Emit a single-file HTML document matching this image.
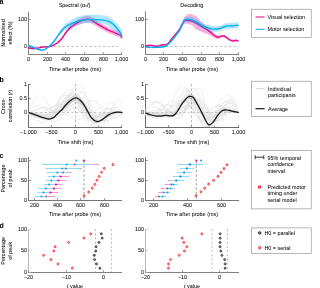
<!DOCTYPE html>
<html><head><meta charset="utf-8"><style>
html,body{margin:0;padding:0;background:#fff;width:312px;height:288px;overflow:hidden}
svg{display:block;font-family:"Liberation Sans",sans-serif;will-change:transform}
</style></head><body>
<svg width="312" height="288" viewBox="0 0 312 288">
<text x="-0.55" y="3.90" font-size="7" font-weight="bold" fill="#000">a</text>
<text x="-0.55" y="81.90" font-size="7" font-weight="bold" fill="#000">b</text>
<text x="-0.55" y="158.00" font-size="7" font-weight="bold" fill="#000">c</text>
<text x="-0.55" y="227.90" font-size="7" font-weight="bold" fill="#000">d</text>
<line x1="28.50" y1="11.80" x2="28.50" y2="55.00" stroke="#808080" stroke-width="1.0"/>
<line x1="28.00" y1="54.50" x2="122.00" y2="54.50" stroke="#808080" stroke-width="1.0"/>
<line x1="28.50" y1="19.50" x2="30.80" y2="19.50" stroke="#808080" stroke-width="0.80" />
<text x="27.00" y="21.45" text-anchor="end" font-size="5.45" fill="#000" stroke="#000" stroke-width="0.02" >100</text>
<line x1="28.50" y1="46.50" x2="30.80" y2="46.50" stroke="#808080" stroke-width="0.80" />
<text x="27.00" y="48.45" text-anchor="end" font-size="5.45" fill="#000" stroke="#000" stroke-width="0.02" >0</text>
<line x1="28.50" y1="54.50" x2="28.50" y2="52.20" stroke="#808080" stroke-width="0.80" />
<text x="28.50" y="61.40" text-anchor="middle" font-size="5.45" fill="#000" stroke="#000" stroke-width="0.02" >0</text>
<line x1="47.50" y1="54.50" x2="47.50" y2="52.20" stroke="#808080" stroke-width="0.80" />
<text x="47.50" y="61.40" text-anchor="middle" font-size="5.45" fill="#000" stroke="#000" stroke-width="0.02" >200</text>
<line x1="65.50" y1="54.50" x2="65.50" y2="52.20" stroke="#808080" stroke-width="0.80" />
<text x="65.50" y="61.40" text-anchor="middle" font-size="5.45" fill="#000" stroke="#000" stroke-width="0.02" >400</text>
<line x1="84.50" y1="54.50" x2="84.50" y2="52.20" stroke="#808080" stroke-width="0.80" />
<text x="84.50" y="61.40" text-anchor="middle" font-size="5.45" fill="#000" stroke="#000" stroke-width="0.02" >600</text>
<line x1="103.50" y1="54.50" x2="103.50" y2="52.20" stroke="#808080" stroke-width="0.80" />
<text x="103.50" y="61.40" text-anchor="middle" font-size="5.45" fill="#000" stroke="#000" stroke-width="0.02" >800</text>
<line x1="121.50" y1="54.50" x2="121.50" y2="52.20" stroke="#808080" stroke-width="0.80" />
<text x="121.50" y="61.40" text-anchor="middle" font-size="5.45" fill="#000" stroke="#000" stroke-width="0.02" >1,000</text>
<line x1="31.00" y1="46.50" x2="121.50" y2="46.50" stroke="#888" stroke-width="0.55" stroke-dasharray="2.2 2.3"/>
<text x="75.00" y="70.70" text-anchor="middle" font-size="5.45" fill="#000" stroke="#000" stroke-width="0.02" >Time after probe (ms)</text>
<text x="58.70" y="6.50" text-anchor="start" font-size="5.45" fill="#000" stroke="#000" stroke-width="0.02" >Spectral (α<tspan font-size="3.6" dy="0.9">s</tspan><tspan dy="-0.9" font-style="italic">f</tspan>)</text>
<line x1="145.50" y1="11.30" x2="145.50" y2="55.00" stroke="#808080" stroke-width="1.0"/>
<line x1="145.00" y1="54.50" x2="239.00" y2="54.50" stroke="#808080" stroke-width="1.0"/>
<line x1="145.50" y1="19.50" x2="147.80" y2="19.50" stroke="#808080" stroke-width="0.80" />
<text x="144.00" y="21.45" text-anchor="end" font-size="5.45" fill="#000" stroke="#000" stroke-width="0.02" >100</text>
<line x1="145.50" y1="46.50" x2="147.80" y2="46.50" stroke="#808080" stroke-width="0.80" />
<text x="144.00" y="48.45" text-anchor="end" font-size="5.45" fill="#000" stroke="#000" stroke-width="0.02" >0</text>
<line x1="145.50" y1="54.50" x2="145.50" y2="52.20" stroke="#808080" stroke-width="0.80" />
<text x="145.50" y="61.40" text-anchor="middle" font-size="5.45" fill="#000" stroke="#000" stroke-width="0.02" >0</text>
<line x1="163.50" y1="54.50" x2="163.50" y2="52.20" stroke="#808080" stroke-width="0.80" />
<text x="163.50" y="61.40" text-anchor="middle" font-size="5.45" fill="#000" stroke="#000" stroke-width="0.02" >200</text>
<line x1="182.50" y1="54.50" x2="182.50" y2="52.20" stroke="#808080" stroke-width="0.80" />
<text x="182.50" y="61.40" text-anchor="middle" font-size="5.45" fill="#000" stroke="#000" stroke-width="0.02" >400</text>
<line x1="201.50" y1="54.50" x2="201.50" y2="52.20" stroke="#808080" stroke-width="0.80" />
<text x="201.50" y="61.40" text-anchor="middle" font-size="5.45" fill="#000" stroke="#000" stroke-width="0.02" >600</text>
<line x1="219.50" y1="54.50" x2="219.50" y2="52.20" stroke="#808080" stroke-width="0.80" />
<text x="219.50" y="61.40" text-anchor="middle" font-size="5.45" fill="#000" stroke="#000" stroke-width="0.02" >800</text>
<line x1="238.50" y1="54.50" x2="238.50" y2="52.20" stroke="#808080" stroke-width="0.80" />
<text x="238.50" y="61.40" text-anchor="middle" font-size="5.45" fill="#000" stroke="#000" stroke-width="0.02" >1,000</text>
<line x1="148.00" y1="46.50" x2="238.50" y2="46.50" stroke="#888" stroke-width="0.55" stroke-dasharray="2.2 2.3"/>
<text x="192.00" y="70.70" text-anchor="middle" font-size="5.45" fill="#000" stroke="#000" stroke-width="0.02" >Time after probe (ms)</text>
<text x="180.30" y="7.40" text-anchor="start" font-size="5.45" fill="#000" stroke="#000" stroke-width="0.02" >Decoding</text>
<g transform="translate(5.00,33.00) rotate(-90)">
<text x="0.00" y="0.00" text-anchor="middle" font-size="5.45" fill="#000" stroke="#000" stroke-width="0.02" >Normalised</text>
<text x="0.00" y="7.20" text-anchor="middle" font-size="5.45" fill="#000" stroke="#000" stroke-width="0.02" >effect (%)</text>
</g>
<path d="M28.70,47.00 C29.58,47.13 32.28,47.80 34.00,47.80 C35.72,47.80 37.33,47.28 39.00,47.00 C40.67,46.72 42.50,46.25 44.00,46.10 C45.50,45.95 46.67,46.25 48.00,46.10 C49.33,45.95 51.00,45.53 52.00,45.20 C53.00,44.87 53.33,44.47 54.00,44.10 C54.67,43.73 55.33,43.45 56.00,43.00 C56.67,42.55 57.33,42.03 58.00,41.42 C58.67,40.81 59.33,40.09 60.00,39.33 C60.67,38.58 61.33,37.83 62.00,36.90 C62.67,35.97 63.33,34.80 64.00,33.77 C64.67,32.73 65.33,31.64 66.00,30.68 C66.67,29.72 67.33,28.83 68.00,28.00 C68.67,27.17 69.33,26.39 70.00,25.72 C70.67,25.04 71.33,24.48 72.00,23.93 C72.67,23.39 73.33,22.94 74.00,22.45 C74.67,21.96 75.33,21.44 76.00,20.97 C76.67,20.49 77.33,20.06 78.00,19.58 C78.67,19.11 79.33,18.50 80.00,18.10 C80.67,17.70 81.33,17.47 82.00,17.20 C82.67,16.93 83.33,16.68 84.00,16.50 C84.67,16.32 85.33,16.20 86.00,16.10 C86.67,16.00 87.33,15.92 88.00,15.90 C88.67,15.88 89.00,15.57 90.00,16.00 C91.00,16.43 92.67,17.57 94.00,18.50 C95.33,19.43 97.00,20.88 98.00,21.60 C99.00,22.32 99.00,22.23 100.00,22.80 C101.00,23.37 102.67,24.27 104.00,25.00 C105.33,25.73 106.67,26.55 108.00,27.20 C109.33,27.85 110.67,28.35 112.00,28.90 C113.33,29.45 114.67,29.95 116.00,30.50 C117.33,31.05 119.02,31.55 120.00,32.20 C120.98,32.85 121.58,34.03 121.90,34.40 L121.90,40.00 C121.58,39.63 120.98,38.45 120.00,37.80 C119.02,37.15 117.33,36.65 116.00,36.10 C114.67,35.55 113.33,35.05 112.00,34.50 C110.67,33.95 109.33,33.45 108.00,32.80 C106.67,32.15 105.33,31.33 104.00,30.60 C102.67,29.87 101.00,28.97 100.00,28.40 C99.00,27.83 99.00,27.75 98.00,27.20 C97.00,26.65 95.33,25.87 94.00,25.10 C92.67,24.33 91.00,23.03 90.00,22.60 C89.00,22.17 88.67,22.48 88.00,22.50 C87.33,22.52 86.67,22.60 86.00,22.70 C85.33,22.80 84.67,22.92 84.00,23.10 C83.33,23.28 82.67,23.53 82.00,23.80 C81.33,24.07 80.67,24.46 80.00,24.70 C79.33,24.94 78.67,24.96 78.00,25.22 C77.33,25.47 76.67,25.88 76.00,26.23 C75.33,26.59 74.67,26.98 74.00,27.35 C73.33,27.72 72.67,28.04 72.00,28.47 C71.33,28.89 70.67,29.33 70.00,29.88 C69.33,30.44 68.67,31.09 68.00,31.80 C67.33,32.51 66.67,33.28 66.00,34.12 C65.33,34.96 64.67,35.92 64.00,36.83 C63.33,37.75 62.67,38.79 62.00,39.60 C61.33,40.41 60.67,41.04 60.00,41.67 C59.33,42.30 58.67,42.89 58.00,43.38 C57.33,43.87 56.67,44.21 56.00,44.60 C55.33,44.99 54.67,45.33 54.00,45.70 C53.33,46.07 53.00,46.47 52.00,46.80 C51.00,47.13 49.33,47.55 48.00,47.70 C46.67,47.85 45.50,47.55 44.00,47.70 C42.50,47.85 40.67,48.32 39.00,48.60 C37.33,48.88 35.72,49.40 34.00,49.40 C32.28,49.40 29.58,48.73 28.70,48.60 Z" fill="#EC008C" fill-opacity="0.30" stroke="none"/>
<path d="M28.70,47.80 C29.58,47.93 32.28,48.60 34.00,48.60 C35.72,48.60 37.33,48.08 39.00,47.80 C40.67,47.52 42.50,47.05 44.00,46.90 C45.50,46.75 46.67,47.05 48.00,46.90 C49.33,46.75 51.00,46.33 52.00,46.00 C53.00,45.67 53.33,45.27 54.00,44.90 C54.67,44.53 55.33,44.22 56.00,43.80 C56.67,43.38 57.33,42.95 58.00,42.40 C58.67,41.85 59.33,41.19 60.00,40.50 C60.67,39.81 61.33,39.12 62.00,38.25 C62.67,37.38 63.33,36.27 64.00,35.30 C64.67,34.32 65.33,33.30 66.00,32.40 C66.67,31.50 67.33,30.67 68.00,29.90 C68.67,29.13 69.33,28.42 70.00,27.80 C70.67,27.18 71.33,26.68 72.00,26.20 C72.67,25.72 73.33,25.33 74.00,24.90 C74.67,24.47 75.33,24.02 76.00,23.60 C76.67,23.18 77.33,22.77 78.00,22.40 C78.67,22.03 79.33,21.72 80.00,21.40 C80.67,21.08 81.33,20.77 82.00,20.50 C82.67,20.23 83.33,19.98 84.00,19.80 C84.67,19.62 85.33,19.50 86.00,19.40 C86.67,19.30 87.33,19.22 88.00,19.20 C88.67,19.18 89.00,18.87 90.00,19.30 C91.00,19.73 92.67,20.95 94.00,21.80 C95.33,22.65 97.00,23.77 98.00,24.40 C99.00,25.03 99.00,25.03 100.00,25.60 C101.00,26.17 102.67,27.07 104.00,27.80 C105.33,28.53 106.67,29.35 108.00,30.00 C109.33,30.65 110.67,31.15 112.00,31.70 C113.33,32.25 114.67,32.75 116.00,33.30 C117.33,33.85 119.02,34.35 120.00,35.00 C120.98,35.65 121.58,36.83 121.90,37.20" fill="none" stroke="#EC008C" stroke-width="1.30" stroke-opacity="1.00" stroke-linejoin="round" stroke-linecap="round"/>
<path d="M28.70,44.70 C30.97,45.45 39.08,48.98 42.30,49.20 C45.52,49.42 46.38,47.12 48.00,46.00 C49.62,44.88 50.67,44.00 52.00,42.50 C53.33,41.00 54.67,39.00 56.00,37.00 C57.33,35.00 58.67,32.42 60.00,30.50 C61.33,28.58 62.67,26.92 64.00,25.50 C65.33,24.08 66.67,23.00 68.00,22.00 C69.33,21.00 70.67,20.28 72.00,19.50 C73.33,18.72 74.67,17.88 76.00,17.30 C77.33,16.72 78.33,16.38 80.00,16.00 C81.67,15.62 83.67,15.22 86.00,15.00 C88.33,14.78 91.67,14.70 94.00,14.70 C96.33,14.70 98.33,14.85 100.00,15.00 C101.67,15.15 102.67,15.37 104.00,15.60 C105.33,15.83 106.67,15.85 108.00,16.40 C109.33,16.95 110.67,17.83 112.00,18.90 C113.33,19.97 114.67,21.32 116.00,22.80 C117.33,24.28 119.02,26.43 120.00,27.80 C120.98,29.17 121.58,30.47 121.90,31.00 L121.90,38.90 C121.58,38.53 120.98,37.82 120.00,36.70 C119.02,35.58 117.33,33.50 116.00,32.20 C114.67,30.90 113.33,30.00 112.00,28.90 C110.67,27.80 109.33,26.43 108.00,25.60 C106.67,24.77 105.33,24.25 104.00,23.90 C102.67,23.55 101.67,23.58 100.00,23.50 C98.33,23.42 96.33,23.43 94.00,23.40 C91.67,23.37 88.33,23.20 86.00,23.30 C83.67,23.40 81.67,23.72 80.00,24.00 C78.33,24.28 77.33,24.53 76.00,25.00 C74.67,25.47 73.33,26.22 72.00,26.80 C70.67,27.38 69.33,27.80 68.00,28.50 C66.67,29.20 65.33,29.92 64.00,31.00 C62.67,32.08 61.33,33.45 60.00,35.00 C58.67,36.55 57.33,38.63 56.00,40.30 C54.67,41.97 53.33,43.68 52.00,45.00 C50.67,46.32 49.62,47.17 48.00,48.20 C46.38,49.23 45.52,51.45 42.30,51.20 C39.08,50.95 30.97,47.45 28.70,46.70 Z" fill="#00AEEF" fill-opacity="0.30" stroke="none"/>
<path d="M28.70,45.70 C29.58,46.03 32.28,47.03 34.00,47.70 C35.72,48.37 37.62,49.28 39.00,49.70 C40.38,50.12 41.18,50.32 42.30,50.20 C43.42,50.08 44.75,49.52 45.70,49.00 C46.65,48.48 47.28,47.63 48.00,47.10 C48.72,46.57 49.33,46.35 50.00,45.80 C50.67,45.25 51.33,44.57 52.00,43.80 C52.67,43.03 53.33,42.05 54.00,41.20 C54.67,40.35 55.33,39.61 56.00,38.70 C56.67,37.79 57.33,36.73 58.00,35.75 C58.67,34.77 59.33,33.71 60.00,32.80 C60.67,31.89 61.33,31.06 62.00,30.30 C62.67,29.54 63.33,28.87 64.00,28.25 C64.67,27.63 65.33,27.09 66.00,26.60 C66.67,26.11 67.33,25.68 68.00,25.30 C68.67,24.92 69.33,24.62 70.00,24.30 C70.67,23.98 71.33,23.68 72.00,23.40 C72.67,23.12 73.33,22.87 74.00,22.60 C74.67,22.33 75.33,22.05 76.00,21.80 C76.67,21.55 77.33,21.32 78.00,21.10 C78.67,20.88 79.00,20.70 80.00,20.50 C81.00,20.30 82.67,20.05 84.00,19.90 C85.33,19.75 86.33,19.67 88.00,19.60 C89.67,19.53 92.00,19.47 94.00,19.50 C96.00,19.53 98.33,19.68 100.00,19.80 C101.67,19.92 102.67,19.98 104.00,20.20 C105.33,20.42 106.67,20.58 108.00,21.10 C109.33,21.62 110.67,22.28 112.00,23.30 C113.33,24.32 114.67,25.72 116.00,27.20 C117.33,28.68 119.02,30.77 120.00,32.20 C120.98,33.63 121.58,35.20 121.90,35.80" fill="none" stroke="#00AEEF" stroke-width="1.30" stroke-opacity="1.00" stroke-linejoin="round" stroke-linecap="round"/>
<path d="M145.40,45.20 C148.83,45.00 162.07,44.62 166.00,44.00 C169.93,43.38 168.00,42.63 169.00,41.50 C170.00,40.37 170.83,38.70 172.00,37.20 C173.17,35.70 174.67,34.20 176.00,32.50 C177.33,30.80 178.67,29.42 180.00,27.00 C181.33,24.58 182.67,20.12 184.00,18.00 C185.33,15.88 186.67,14.93 188.00,14.30 C189.33,13.68 190.67,13.95 192.00,14.25 C193.33,14.55 194.67,15.06 196.00,16.10 C197.33,17.14 198.67,19.14 200.00,20.50 C201.33,21.86 202.67,23.08 204.00,24.25 C205.33,25.42 206.67,26.46 208.00,27.50 C209.33,28.54 210.83,29.45 212.00,30.50 C213.17,31.55 214.00,32.95 215.00,33.80 C216.00,34.65 216.50,35.43 218.00,35.60 C219.50,35.77 222.00,34.27 224.00,34.80 C226.00,35.33 227.62,37.97 230.00,38.80 C232.38,39.63 236.92,39.63 238.30,39.80 L238.30,42.20 C236.92,42.03 232.38,42.03 230.00,41.20 C227.62,40.37 226.00,37.57 224.00,37.20 C222.00,36.83 219.50,38.83 218.00,39.00 C216.50,39.17 216.00,38.60 215.00,38.20 C214.00,37.80 213.17,37.26 212.00,36.60 C210.83,35.94 209.33,34.85 208.00,34.25 C206.67,33.65 205.33,33.52 204.00,33.00 C202.67,32.48 201.33,31.73 200.00,31.10 C198.67,30.48 197.33,30.18 196.00,29.25 C194.67,28.32 193.33,26.38 192.00,25.50 C190.67,24.62 189.33,24.21 188.00,24.00 C186.67,23.79 185.33,23.25 184.00,24.25 C182.67,25.25 181.33,28.21 180.00,30.00 C178.67,31.79 177.33,33.40 176.00,35.00 C174.67,36.60 173.17,38.18 172.00,39.60 C170.83,41.02 170.00,42.50 169.00,43.50 C168.00,44.50 169.93,45.08 166.00,45.60 C162.07,46.12 148.83,46.43 145.40,46.60 Z" fill="#EC008C" fill-opacity="0.30" stroke="none"/>
<path d="M145.40,45.90 C146.17,45.77 148.57,45.10 150.00,45.10 C151.43,45.10 152.67,45.70 154.00,45.90 C155.33,46.10 156.67,46.48 158.00,46.30 C159.33,46.12 160.67,45.05 162.00,44.80 C163.33,44.55 164.83,45.18 166.00,44.80 C167.17,44.42 168.00,43.57 169.00,42.50 C170.00,41.43 170.83,39.85 172.00,38.40 C173.17,36.95 174.67,35.43 176.00,33.80 C177.33,32.17 178.67,30.68 180.00,28.60 C181.33,26.52 182.67,22.65 184.00,21.30 C185.33,19.95 186.67,20.53 188.00,20.50 C189.33,20.47 190.67,20.68 192.00,21.10 C193.33,21.52 194.67,22.27 196.00,23.00 C197.33,23.73 198.67,24.67 200.00,25.50 C201.33,26.33 202.67,27.18 204.00,28.00 C205.33,28.82 206.67,29.48 208.00,30.40 C209.33,31.32 210.83,32.57 212.00,33.50 C213.17,34.43 214.00,35.38 215.00,36.00 C216.00,36.62 217.00,37.21 218.00,37.25 C219.00,37.29 220.00,36.46 221.00,36.25 C222.00,36.04 223.00,35.73 224.00,36.00 C225.00,36.27 226.00,37.23 227.00,37.90 C228.00,38.57 229.00,39.48 230.00,40.00 C231.00,40.52 232.00,40.98 233.00,41.00 C234.00,41.02 235.17,40.10 236.00,40.10 C236.83,40.10 237.67,40.85 238.00,41.00" fill="none" stroke="#EC008C" stroke-width="1.30" stroke-opacity="1.00" stroke-linejoin="round" stroke-linecap="round"/>
<path d="M145.40,46.20 C146.17,46.27 148.23,46.53 150.00,46.60 C151.77,46.67 154.00,46.67 156.00,46.60 C158.00,46.53 160.33,46.45 162.00,46.20 C163.67,45.95 164.67,45.88 166.00,45.10 C167.33,44.32 168.67,42.92 170.00,41.50 C171.33,40.08 172.67,38.33 174.00,36.60 C175.33,34.87 177.00,32.58 178.00,31.10 C179.00,29.62 179.00,29.78 180.00,27.70 C181.00,25.62 183.00,20.40 184.00,18.60 C185.00,16.80 185.33,17.23 186.00,16.90 C186.67,16.57 187.00,16.57 188.00,16.60 C189.00,16.63 190.67,16.69 192.00,17.10 C193.33,17.51 194.67,18.31 196.00,19.05 C197.33,19.79 198.67,20.78 200.00,21.55 C201.33,22.32 202.67,23.11 204.00,23.70 C205.33,24.29 206.67,24.70 208.00,25.10 C209.33,25.50 210.67,25.92 212.00,26.10 C213.33,26.28 214.67,26.28 216.00,26.20 C217.33,26.12 218.67,25.97 220.00,25.60 C221.33,25.23 222.67,24.42 224.00,24.00 C225.33,23.58 226.67,23.23 228.00,23.10 C229.33,22.97 230.67,23.28 232.00,23.20 C233.33,23.12 234.95,22.75 236.00,22.60 C237.05,22.45 237.92,22.35 238.30,22.30 L238.30,27.90 C237.92,27.95 237.05,28.05 236.00,28.20 C234.95,28.35 233.33,28.72 232.00,28.80 C230.67,28.88 229.33,28.57 228.00,28.70 C226.67,28.83 225.33,29.18 224.00,29.60 C222.67,30.02 221.33,30.83 220.00,31.20 C218.67,31.57 217.33,31.72 216.00,31.80 C214.67,31.88 213.33,31.88 212.00,31.70 C210.67,31.52 209.33,31.13 208.00,30.70 C206.67,30.27 205.33,29.72 204.00,29.10 C202.67,28.47 201.33,27.72 200.00,26.95 C198.67,26.18 197.33,25.16 196.00,24.45 C194.67,23.74 193.33,23.07 192.00,22.70 C190.67,22.32 189.00,22.30 188.00,22.20 C187.00,22.10 186.67,21.97 186.00,22.10 C185.33,22.23 185.00,21.47 184.00,23.00 C183.00,24.53 181.00,29.45 180.00,31.30 C179.00,33.15 179.00,32.82 178.00,34.10 C177.00,35.38 175.33,37.43 174.00,39.00 C172.67,40.57 171.33,42.22 170.00,43.50 C168.67,44.78 167.33,45.98 166.00,46.70 C164.67,47.42 163.67,47.55 162.00,47.80 C160.33,48.05 158.00,48.13 156.00,48.20 C154.00,48.27 151.77,48.27 150.00,48.20 C148.23,48.13 146.17,47.87 145.40,47.80 Z" fill="#00AEEF" fill-opacity="0.30" stroke="none"/>
<path d="M145.40,47.00 C146.17,47.07 148.23,47.33 150.00,47.40 C151.77,47.47 154.00,47.47 156.00,47.40 C158.00,47.33 160.33,47.25 162.00,47.00 C163.67,46.75 164.67,46.65 166.00,45.90 C167.33,45.15 168.67,43.85 170.00,42.50 C171.33,41.15 172.67,39.45 174.00,37.80 C175.33,36.15 177.00,33.98 178.00,32.60 C179.00,31.22 179.00,31.47 180.00,29.50 C181.00,27.53 183.00,22.47 184.00,20.80 C185.00,19.13 185.33,19.73 186.00,19.50 C186.67,19.27 187.00,19.33 188.00,19.40 C189.00,19.47 190.67,19.51 192.00,19.90 C193.33,20.29 194.67,21.02 196.00,21.75 C197.33,22.48 198.67,23.48 200.00,24.25 C201.33,25.02 202.67,25.79 204.00,26.40 C205.33,27.01 206.67,27.48 208.00,27.90 C209.33,28.32 210.67,28.72 212.00,28.90 C213.33,29.08 214.67,29.08 216.00,29.00 C217.33,28.92 218.67,28.77 220.00,28.40 C221.33,28.03 222.67,27.22 224.00,26.80 C225.33,26.38 226.67,26.03 228.00,25.90 C229.33,25.77 230.67,26.08 232.00,26.00 C233.33,25.92 234.95,25.55 236.00,25.40 C237.05,25.25 237.92,25.15 238.30,25.10" fill="none" stroke="#00AEEF" stroke-width="1.30" stroke-opacity="1.00" stroke-linejoin="round" stroke-linecap="round"/>
<rect x="251.30" y="9.20" width="59.90" height="28.10" fill="none" stroke="#888" stroke-width="0.6"/>
<line x1="255.50" y1="17.00" x2="264.60" y2="17.00" stroke="#EC008C" stroke-width="1.00" />
<line x1="255.50" y1="29.30" x2="264.60" y2="29.30" stroke="#00AEEF" stroke-width="1.00" />
<text x="267.60" y="19.00" text-anchor="start" font-size="5.42" fill="#000" stroke="#000" stroke-width="0.02" >Visual selection</text>
<text x="267.60" y="31.30" text-anchor="start" font-size="5.42" fill="#000" stroke="#000" stroke-width="0.02" >Motor selection</text>
<line x1="28.50" y1="84.00" x2="28.50" y2="128.00" stroke="#6a6a6a" stroke-width="1.0"/>
<line x1="28.00" y1="127.50" x2="122.00" y2="127.50" stroke="#6a6a6a" stroke-width="1.0"/>
<line x1="28.50" y1="84.50" x2="30.80" y2="84.50" stroke="#6a6a6a" stroke-width="0.80" />
<text x="27.00" y="86.45" text-anchor="end" font-size="5.45" fill="#000" stroke="#000" stroke-width="0.02" >1</text>
<line x1="28.50" y1="98.50" x2="30.80" y2="98.50" stroke="#6a6a6a" stroke-width="0.80" />
<text x="27.00" y="100.45" text-anchor="end" font-size="5.45" fill="#000" stroke="#000" stroke-width="0.02" >0.5</text>
<line x1="28.50" y1="112.50" x2="30.80" y2="112.50" stroke="#6a6a6a" stroke-width="0.80" />
<text x="27.00" y="114.45" text-anchor="end" font-size="5.45" fill="#000" stroke="#000" stroke-width="0.02" >0</text>
<line x1="28.50" y1="127.50" x2="28.50" y2="125.20" stroke="#6a6a6a" stroke-width="0.80" />
<text x="28.50" y="134.40" text-anchor="middle" font-size="5.45" fill="#000" stroke="#000" stroke-width="0.02" >−1,000</text>
<line x1="51.50" y1="127.50" x2="51.50" y2="125.20" stroke="#6a6a6a" stroke-width="0.80" />
<text x="51.50" y="134.40" text-anchor="middle" font-size="5.45" fill="#000" stroke="#000" stroke-width="0.02" >−500</text>
<line x1="75.50" y1="127.50" x2="75.50" y2="125.20" stroke="#6a6a6a" stroke-width="0.80" />
<text x="75.50" y="134.40" text-anchor="middle" font-size="5.45" fill="#000" stroke="#000" stroke-width="0.02" >0</text>
<line x1="98.50" y1="127.50" x2="98.50" y2="125.20" stroke="#6a6a6a" stroke-width="0.80" />
<text x="98.50" y="134.40" text-anchor="middle" font-size="5.45" fill="#000" stroke="#000" stroke-width="0.02" >500</text>
<line x1="121.50" y1="127.50" x2="121.50" y2="125.20" stroke="#6a6a6a" stroke-width="0.80" />
<text x="121.50" y="134.40" text-anchor="middle" font-size="5.45" fill="#000" stroke="#000" stroke-width="0.02" >1,000</text>
<path d="M29.00,112.59 C29.34,112.62 30.35,112.57 31.03,112.75 C31.70,112.93 32.38,113.37 33.05,113.66 C33.73,113.95 34.40,114.31 35.08,114.49 C35.75,114.67 36.43,114.56 37.10,114.75 C37.78,114.94 38.46,115.33 39.13,115.62 C39.81,115.91 40.48,116.35 41.16,116.51 C41.83,116.66 42.51,116.58 43.18,116.56 C43.86,116.54 44.53,116.44 45.21,116.37 C45.88,116.30 46.56,116.30 47.23,116.14 C47.91,115.98 48.59,115.76 49.26,115.42 C49.94,115.07 50.61,114.53 51.29,114.07 C51.96,113.62 52.64,112.94 53.31,112.67 C53.99,112.40 54.66,112.63 55.34,112.45 C56.01,112.27 56.69,111.93 57.37,111.58 C58.04,111.24 58.72,110.60 59.39,110.38 C60.07,110.15 60.74,110.35 61.42,110.25 C62.09,110.14 62.77,110.12 63.44,109.75 C64.12,109.38 64.79,108.46 65.47,108.04 C66.14,107.62 66.82,107.33 67.50,107.23 C68.17,107.14 68.85,107.51 69.52,107.49 C70.20,107.48 70.87,107.12 71.55,107.15 C72.22,107.17 72.90,107.62 73.57,107.66 C74.25,107.69 74.92,107.42 75.60,107.38 C76.28,107.34 76.95,107.32 77.63,107.42 C78.30,107.52 78.98,107.86 79.65,107.98 C80.33,108.09 81.00,107.74 81.68,108.10 C82.35,108.46 83.03,109.74 83.70,110.13 C84.38,110.52 85.06,109.84 85.73,110.43 C86.41,111.03 87.08,113.06 87.76,113.69 C88.43,114.33 89.11,113.67 89.78,114.26 C90.46,114.84 91.13,116.70 91.81,117.20 C92.48,117.71 93.16,117.18 93.83,117.27 C94.51,117.36 95.19,117.64 95.86,117.77 C96.54,117.89 97.21,118.19 97.89,118.03 C98.56,117.88 99.24,117.28 99.91,116.86 C100.59,116.43 101.26,115.78 101.94,115.49 C102.61,115.21 103.29,115.46 103.97,115.18 C104.64,114.89 105.32,114.18 105.99,113.78 C106.67,113.38 107.34,112.93 108.02,112.78 C108.69,112.64 109.37,113.02 110.04,112.91 C110.72,112.81 111.39,112.29 112.07,112.16 C112.74,112.03 113.42,112.14 114.10,112.13 C114.77,112.13 115.45,112.15 116.12,112.12 C116.80,112.08 117.47,111.92 118.15,111.92 C118.82,111.92 119.50,112.03 120.17,112.12 C120.85,112.22 121.86,112.45 122.20,112.51" fill="none" stroke="#dcdcdc" stroke-width="0.50" stroke-opacity="1.00" stroke-linejoin="round" stroke-linecap="round"/>
<path d="M29.00,112.91 C29.34,113.07 30.35,113.67 31.03,113.87 C31.70,114.07 32.38,114.13 33.05,114.13 C33.73,114.14 34.40,113.88 35.08,113.92 C35.75,113.96 36.43,114.22 37.10,114.38 C37.78,114.53 38.46,114.76 39.13,114.87 C39.81,114.98 40.48,114.85 41.16,115.01 C41.83,115.17 42.51,115.57 43.18,115.83 C43.86,116.09 44.53,116.54 45.21,116.56 C45.88,116.57 46.56,116.48 47.23,115.93 C47.91,115.38 48.59,114.27 49.26,113.27 C49.94,112.28 50.61,110.94 51.29,109.94 C51.96,108.94 52.64,107.99 53.31,107.29 C53.99,106.59 54.66,106.13 55.34,105.73 C56.01,105.33 56.69,104.96 57.37,104.88 C58.04,104.81 58.72,105.30 59.39,105.30 C60.07,105.30 60.74,105.27 61.42,104.91 C62.09,104.54 62.77,103.96 63.44,103.11 C64.12,102.26 64.79,100.66 65.47,99.79 C66.14,98.93 66.82,98.79 67.50,97.92 C68.17,97.05 68.85,95.37 69.52,94.55 C70.20,93.73 70.87,93.50 71.55,93.01 C72.22,92.51 72.90,91.83 73.57,91.58 C74.25,91.33 74.92,91.17 75.60,91.51 C76.28,91.84 76.95,92.90 77.63,93.59 C78.30,94.28 78.98,94.58 79.65,95.65 C80.33,96.72 81.00,98.77 81.68,100.00 C82.35,101.22 83.03,101.51 83.70,102.99 C84.38,104.46 85.06,107.38 85.73,108.84 C86.41,110.30 87.08,110.38 87.76,111.74 C88.43,113.11 89.11,115.91 89.78,117.03 C90.46,118.15 91.13,117.80 91.81,118.46 C92.48,119.13 93.16,120.39 93.83,121.00 C94.51,121.61 95.19,122.07 95.86,122.14 C96.54,122.20 97.21,121.67 97.89,121.37 C98.56,121.08 99.24,120.65 99.91,120.37 C100.59,120.09 101.26,120.22 101.94,119.70 C102.61,119.17 103.29,117.84 103.97,117.21 C104.64,116.59 105.32,116.33 105.99,115.94 C106.67,115.55 107.34,115.31 108.02,114.87 C108.69,114.43 109.37,113.63 110.04,113.31 C110.72,112.99 111.39,113.11 112.07,112.96 C112.74,112.81 113.42,112.57 114.10,112.42 C114.77,112.27 115.45,112.07 116.12,112.06 C116.80,112.04 117.47,112.22 118.15,112.31 C118.82,112.41 119.50,112.56 120.17,112.61 C120.85,112.66 121.86,112.61 122.20,112.61" fill="none" stroke="#dcdcdc" stroke-width="0.50" stroke-opacity="1.00" stroke-linejoin="round" stroke-linecap="round"/>
<path d="M29.00,107.42 C29.34,106.98 30.35,105.65 31.03,104.76 C31.70,103.87 32.38,102.89 33.05,102.08 C33.73,101.26 34.40,100.65 35.08,99.88 C35.75,99.12 36.43,98.18 37.10,97.50 C37.78,96.83 38.46,96.10 39.13,95.85 C39.81,95.60 40.48,95.79 41.16,96.03 C41.83,96.27 42.51,96.79 43.18,97.31 C43.86,97.82 44.53,98.30 45.21,99.12 C45.88,99.94 46.56,101.10 47.23,102.23 C47.91,103.36 48.59,104.76 49.26,105.91 C49.94,107.06 50.61,108.27 51.29,109.14 C51.96,110.00 52.64,110.57 53.31,111.10 C53.99,111.63 54.66,112.08 55.34,112.30 C56.01,112.53 56.69,112.57 57.37,112.45 C58.04,112.33 58.72,112.06 59.39,111.56 C60.07,111.06 60.74,110.17 61.42,109.45 C62.09,108.73 62.77,108.09 63.44,107.22 C64.12,106.35 64.79,105.34 65.47,104.23 C66.14,103.13 66.82,102.04 67.50,100.60 C68.17,99.15 68.85,97.02 69.52,95.58 C70.20,94.14 70.87,93.36 71.55,91.94 C72.22,90.51 72.90,88.27 73.57,87.03 C74.25,85.79 74.92,84.92 75.60,84.50 C76.28,84.08 76.95,84.50 77.63,84.50 C78.30,84.50 78.98,84.37 79.65,84.50 C80.33,84.63 81.00,84.50 81.68,85.30 C82.35,86.09 83.03,87.57 83.70,89.26 C84.38,90.94 85.06,93.50 85.73,95.39 C86.41,97.27 87.08,98.55 87.76,100.58 C88.43,102.61 89.11,105.72 89.78,107.57 C90.46,109.43 91.13,110.13 91.81,111.72 C92.48,113.31 93.16,115.94 93.83,117.10 C94.51,118.27 95.19,118.04 95.86,118.69 C96.54,119.34 97.21,120.50 97.89,121.01 C98.56,121.51 99.24,121.77 99.91,121.74 C100.59,121.71 101.26,121.12 101.94,120.80 C102.61,120.48 103.29,120.11 103.97,119.81 C104.64,119.52 105.32,119.55 105.99,119.03 C106.67,118.50 107.34,117.25 108.02,116.69 C108.69,116.12 109.37,116.00 110.04,115.65 C110.72,115.30 111.39,114.97 112.07,114.56 C112.74,114.15 113.42,113.46 114.10,113.18 C114.77,112.91 115.45,113.03 116.12,112.90 C116.80,112.77 117.47,112.52 118.15,112.39 C118.82,112.25 119.50,112.10 120.17,112.09 C120.85,112.09 121.86,112.31 122.20,112.36" fill="none" stroke="#dcdcdc" stroke-width="0.50" stroke-opacity="1.00" stroke-linejoin="round" stroke-linecap="round"/>
<path d="M29.00,108.95 C29.34,108.76 30.35,108.13 31.03,107.79 C31.70,107.44 32.38,107.19 33.05,106.89 C33.73,106.59 34.40,106.27 35.08,105.99 C35.75,105.72 36.43,105.36 37.10,105.25 C37.78,105.14 38.46,105.20 39.13,105.33 C39.81,105.46 40.48,105.75 41.16,106.03 C41.83,106.31 42.51,106.69 43.18,107.00 C43.86,107.32 44.53,107.57 45.21,107.91 C45.88,108.26 46.56,108.78 47.23,109.09 C47.91,109.41 48.59,109.57 49.26,109.80 C49.94,110.02 50.61,110.25 51.29,110.45 C51.96,110.65 52.64,110.85 53.31,110.99 C53.99,111.12 54.66,111.21 55.34,111.26 C56.01,111.32 56.69,111.21 57.37,111.30 C58.04,111.38 58.72,111.67 59.39,111.77 C60.07,111.86 60.74,111.69 61.42,111.86 C62.09,112.03 62.77,112.52 63.44,112.78 C64.12,113.05 64.79,113.15 65.47,113.48 C66.14,113.82 66.82,114.34 67.50,114.80 C68.17,115.25 68.85,115.72 69.52,116.19 C70.20,116.66 70.87,117.14 71.55,117.61 C72.22,118.07 72.90,118.62 73.57,118.96 C74.25,119.30 74.92,119.54 75.60,119.65 C76.28,119.76 76.95,119.69 77.63,119.61 C78.30,119.54 78.98,119.35 79.65,119.21 C80.33,119.06 81.00,118.92 81.68,118.75 C82.35,118.59 83.03,118.31 83.70,118.22 C84.38,118.13 85.06,118.32 85.73,118.22 C86.41,118.12 87.08,117.68 87.76,117.63 C88.43,117.57 89.11,117.89 89.78,117.88 C90.46,117.87 91.13,117.76 91.81,117.58 C92.48,117.40 93.16,117.01 93.83,116.80 C94.51,116.59 95.19,116.50 95.86,116.31 C96.54,116.12 97.21,115.98 97.89,115.67 C98.56,115.37 99.24,114.73 99.91,114.46 C100.59,114.20 101.26,114.26 101.94,114.08 C102.61,113.90 103.29,113.61 103.97,113.40 C104.64,113.18 105.32,112.91 105.99,112.79 C106.67,112.67 107.34,112.73 108.02,112.66 C108.69,112.60 109.37,112.45 110.04,112.39 C110.72,112.33 111.39,112.28 112.07,112.30 C112.74,112.31 113.42,112.43 114.10,112.47 C114.77,112.51 115.45,112.54 116.12,112.55 C116.80,112.57 117.47,112.55 118.15,112.55 C118.82,112.55 119.50,112.55 120.17,112.55 C120.85,112.55 121.86,112.55 122.20,112.55" fill="none" stroke="#dcdcdc" stroke-width="0.50" stroke-opacity="1.00" stroke-linejoin="round" stroke-linecap="round"/>
<path d="M29.00,112.55 C29.34,112.55 30.35,112.51 31.03,112.55 C31.70,112.59 32.38,112.68 33.05,112.81 C33.73,112.94 34.40,113.21 35.08,113.33 C35.75,113.46 36.43,113.49 37.10,113.57 C37.78,113.66 38.46,113.71 39.13,113.85 C39.81,113.99 40.48,114.24 41.16,114.40 C41.83,114.56 42.51,114.72 43.18,114.80 C43.86,114.89 44.53,114.84 45.21,114.90 C45.88,114.97 46.56,115.11 47.23,115.22 C47.91,115.33 48.59,115.49 49.26,115.56 C49.94,115.62 50.61,115.69 51.29,115.62 C51.96,115.55 52.64,115.35 53.31,115.14 C53.99,114.94 54.66,114.77 55.34,114.38 C56.01,114.00 56.69,113.46 57.37,112.83 C58.04,112.21 58.72,111.44 59.39,110.62 C60.07,109.81 60.74,108.74 61.42,107.96 C62.09,107.19 62.77,106.39 63.44,105.98 C64.12,105.58 64.79,105.37 65.47,105.56 C66.14,105.74 66.82,106.53 67.50,107.09 C68.17,107.64 68.85,108.29 69.52,108.89 C70.20,109.48 70.87,110.43 71.55,110.67 C72.22,110.90 72.90,110.54 73.57,110.29 C74.25,110.03 74.92,109.62 75.60,109.13 C76.28,108.64 76.95,107.90 77.63,107.35 C78.30,106.80 78.98,106.22 79.65,105.83 C80.33,105.44 81.00,105.33 81.68,105.02 C82.35,104.72 83.03,104.32 83.70,104.00 C84.38,103.68 85.06,103.49 85.73,103.10 C86.41,102.70 87.08,101.99 87.76,101.61 C88.43,101.23 89.11,101.12 89.78,100.83 C90.46,100.53 91.13,99.88 91.81,99.85 C92.48,99.82 93.16,100.36 93.83,100.64 C94.51,100.92 95.19,100.93 95.86,101.53 C96.54,102.14 97.21,103.34 97.89,104.28 C98.56,105.21 99.24,106.27 99.91,107.14 C100.59,108.02 101.26,108.77 101.94,109.51 C102.61,110.25 103.29,111.00 103.97,111.59 C104.64,112.17 105.32,112.77 105.99,113.03 C106.67,113.28 107.34,113.06 108.02,113.12 C108.69,113.19 109.37,113.38 110.04,113.39 C110.72,113.40 111.39,113.29 112.07,113.17 C112.74,113.06 113.42,112.79 114.10,112.70 C114.77,112.62 115.45,112.69 116.12,112.64 C116.80,112.60 117.47,112.47 118.15,112.42 C118.82,112.36 119.50,112.30 120.17,112.30 C120.85,112.31 121.86,112.42 122.20,112.45" fill="none" stroke="#dcdcdc" stroke-width="0.50" stroke-opacity="1.00" stroke-linejoin="round" stroke-linecap="round"/>
<path d="M29.00,112.60 C29.34,112.60 30.35,112.57 31.03,112.60 C31.70,112.63 32.38,112.59 33.05,112.78 C33.73,112.97 34.40,113.45 35.08,113.75 C35.75,114.05 36.43,114.40 37.10,114.59 C37.78,114.77 38.46,114.66 39.13,114.86 C39.81,115.07 40.48,115.48 41.16,115.81 C41.83,116.13 42.51,116.59 43.18,116.81 C43.86,117.02 44.53,116.98 45.21,117.10 C45.88,117.21 46.56,117.31 47.23,117.49 C47.91,117.67 48.59,118.01 49.26,118.20 C49.94,118.38 50.61,118.61 51.29,118.61 C51.96,118.61 52.64,118.46 53.31,118.20 C53.99,117.94 54.66,117.41 55.34,117.07 C56.01,116.72 56.69,116.70 57.37,116.12 C58.04,115.54 58.72,114.61 59.39,113.60 C60.07,112.58 60.74,111.08 61.42,110.03 C62.09,108.99 62.77,108.30 63.44,107.30 C64.12,106.31 64.79,105.36 65.47,104.04 C66.14,102.72 66.82,100.85 67.50,99.41 C68.17,97.96 68.85,96.49 69.52,95.37 C70.20,94.26 70.87,93.63 71.55,92.71 C72.22,91.79 72.90,90.46 73.57,89.85 C74.25,89.25 74.92,89.24 75.60,89.07 C76.28,88.91 76.95,88.66 77.63,88.87 C78.30,89.08 78.98,89.60 79.65,90.34 C80.33,91.09 81.00,92.36 81.68,93.34 C82.35,94.32 83.03,94.93 83.70,96.22 C84.38,97.51 85.06,99.81 85.73,101.09 C86.41,102.37 87.08,102.50 87.76,103.91 C88.43,105.33 89.11,108.22 89.78,109.58 C90.46,110.95 91.13,110.88 91.81,112.11 C92.48,113.34 93.16,115.89 93.83,116.95 C94.51,118.01 95.19,117.89 95.86,118.45 C96.54,119.01 97.21,119.78 97.89,120.30 C98.56,120.81 99.24,121.43 99.91,121.53 C100.59,121.63 101.26,121.22 101.94,120.92 C102.61,120.63 103.29,120.04 103.97,119.77 C104.64,119.49 105.32,119.69 105.99,119.27 C106.67,118.86 107.34,117.89 108.02,117.28 C108.69,116.66 109.37,115.99 110.04,115.60 C110.72,115.21 111.39,115.31 112.07,114.96 C112.74,114.61 113.42,113.83 114.10,113.49 C114.77,113.16 115.45,113.13 116.12,112.97 C116.80,112.82 117.47,112.71 118.15,112.57 C118.82,112.43 119.50,112.19 120.17,112.14 C120.85,112.08 121.86,112.22 122.20,112.24" fill="none" stroke="#dcdcdc" stroke-width="0.50" stroke-opacity="1.00" stroke-linejoin="round" stroke-linecap="round"/>
<path d="M29.00,114.27 C29.34,114.32 30.35,114.38 31.03,114.55 C31.70,114.72 32.38,114.98 33.05,115.28 C33.73,115.57 34.40,116.04 35.08,116.30 C35.75,116.56 36.43,116.71 37.10,116.84 C37.78,116.97 38.46,116.94 39.13,117.09 C39.81,117.25 40.48,117.55 41.16,117.75 C41.83,117.95 42.51,118.22 43.18,118.30 C43.86,118.38 44.53,118.39 45.21,118.24 C45.88,118.10 46.56,117.65 47.23,117.42 C47.91,117.18 48.59,117.24 49.26,116.85 C49.94,116.45 50.61,115.66 51.29,115.05 C51.96,114.44 52.64,113.73 53.31,113.20 C53.99,112.66 54.66,112.36 55.34,111.84 C56.01,111.31 56.69,110.80 57.37,110.06 C58.04,109.31 58.72,108.09 59.39,107.37 C60.07,106.65 60.74,106.36 61.42,105.75 C62.09,105.14 62.77,104.33 63.44,103.72 C64.12,103.11 64.79,102.62 65.47,102.11 C66.14,101.59 66.82,101.06 67.50,100.64 C68.17,100.23 68.85,99.84 69.52,99.63 C70.20,99.42 70.87,99.32 71.55,99.38 C72.22,99.44 72.90,99.67 73.57,99.98 C74.25,100.28 74.92,100.58 75.60,101.21 C76.28,101.85 76.95,103.04 77.63,103.79 C78.30,104.53 78.98,104.74 79.65,105.68 C80.33,106.63 81.00,108.41 81.68,109.47 C82.35,110.53 83.03,111.02 83.70,112.06 C84.38,113.10 85.06,114.71 85.73,115.70 C86.41,116.70 87.08,117.39 87.76,118.03 C88.43,118.66 89.11,118.95 89.78,119.51 C90.46,120.07 91.13,120.99 91.81,121.37 C92.48,121.75 93.16,121.75 93.83,121.78 C94.51,121.81 95.19,121.49 95.86,121.55 C96.54,121.61 97.21,122.04 97.89,122.12 C98.56,122.20 99.24,122.16 99.91,122.00 C100.59,121.85 101.26,121.32 101.94,121.20 C102.61,121.08 103.29,121.55 103.97,121.27 C104.64,121.00 105.32,120.30 105.99,119.56 C106.67,118.81 107.34,117.90 108.02,116.80 C108.69,115.71 109.37,114.49 110.04,112.98 C110.72,111.47 111.39,109.44 112.07,107.75 C112.74,106.06 113.42,104.19 114.10,102.86 C114.77,101.53 115.45,100.43 116.12,99.79 C116.80,99.14 117.47,98.85 118.15,98.98 C118.82,99.11 119.50,99.79 120.17,100.57 C120.85,101.35 121.86,103.15 122.20,103.66" fill="none" stroke="#dcdcdc" stroke-width="0.50" stroke-opacity="1.00" stroke-linejoin="round" stroke-linecap="round"/>
<path d="M29.00,113.49 C29.34,113.52 30.35,113.56 31.03,113.67 C31.70,113.78 32.38,114.01 33.05,114.16 C33.73,114.31 34.40,114.49 35.08,114.58 C35.75,114.67 36.43,114.63 37.10,114.69 C37.78,114.75 38.46,114.85 39.13,114.94 C39.81,115.04 40.48,115.19 41.16,115.27 C41.83,115.35 42.51,115.44 43.18,115.42 C43.86,115.41 44.53,115.28 45.21,115.17 C45.88,115.06 46.56,114.92 47.23,114.77 C47.91,114.61 48.59,114.51 49.26,114.23 C49.94,113.95 50.61,113.64 51.29,113.09 C51.96,112.53 52.64,111.75 53.31,110.88 C53.99,110.02 54.66,109.10 55.34,107.89 C56.01,106.68 56.69,105.16 57.37,103.62 C58.04,102.09 58.72,100.22 59.39,98.69 C60.07,97.17 60.74,95.41 61.42,94.48 C62.09,93.55 62.77,93.31 63.44,93.13 C64.12,92.95 64.79,93.01 65.47,93.40 C66.14,93.79 66.82,94.84 67.50,95.50 C68.17,96.17 68.85,96.85 69.52,97.40 C70.20,97.96 70.87,98.40 71.55,98.83 C72.22,99.26 72.90,99.75 73.57,99.99 C74.25,100.22 74.92,100.08 75.60,100.24 C76.28,100.39 76.95,100.82 77.63,100.93 C78.30,101.03 78.98,100.64 79.65,100.86 C80.33,101.08 81.00,101.89 81.68,102.23 C82.35,102.56 83.03,102.37 83.70,102.88 C84.38,103.38 85.06,104.60 85.73,105.24 C86.41,105.88 87.08,106.07 87.76,106.72 C88.43,107.36 89.11,108.38 89.78,109.13 C90.46,109.88 91.13,110.66 91.81,111.22 C92.48,111.78 93.16,112.12 93.83,112.48 C94.51,112.84 95.19,113.10 95.86,113.37 C96.54,113.63 97.21,114.01 97.89,114.07 C98.56,114.13 99.24,113.79 99.91,113.70 C100.59,113.62 101.26,113.60 101.94,113.54 C102.61,113.47 103.29,113.44 103.97,113.32 C104.64,113.19 105.32,112.88 105.99,112.77 C106.67,112.67 107.34,112.72 108.02,112.67 C108.69,112.62 109.37,112.52 110.04,112.47 C110.72,112.41 111.39,112.33 112.07,112.32 C112.74,112.31 113.42,112.38 114.10,112.42 C114.77,112.46 115.45,112.52 116.12,112.54 C116.80,112.57 117.47,112.54 118.15,112.55 C118.82,112.55 119.50,112.55 120.17,112.55 C120.85,112.55 121.86,112.55 122.20,112.55" fill="none" stroke="#dcdcdc" stroke-width="0.50" stroke-opacity="1.00" stroke-linejoin="round" stroke-linecap="round"/>
<path d="M29.00,112.47 C29.34,112.47 30.35,112.34 31.03,112.44 C31.70,112.54 32.38,112.88 33.05,113.07 C33.73,113.27 34.40,113.57 35.08,113.60 C35.75,113.63 36.43,113.30 37.10,113.24 C37.78,113.17 38.46,113.22 39.13,113.19 C39.81,113.16 40.48,113.24 41.16,113.03 C41.83,112.83 42.51,112.36 43.18,111.96 C43.86,111.55 44.53,110.99 45.21,110.61 C45.88,110.22 46.56,109.96 47.23,109.64 C47.91,109.33 48.59,109.06 49.26,108.71 C49.94,108.36 50.61,107.94 51.29,107.52 C51.96,107.11 52.64,106.47 53.31,106.23 C53.99,105.99 54.66,106.27 55.34,106.08 C56.01,105.90 56.69,105.44 57.37,105.13 C58.04,104.82 58.72,104.32 59.39,104.22 C60.07,104.13 60.74,104.50 61.42,104.55 C62.09,104.61 62.77,104.81 63.44,104.55 C64.12,104.29 64.79,103.36 65.47,102.98 C66.14,102.60 66.82,102.52 67.50,102.26 C68.17,101.99 68.85,101.78 69.52,101.40 C70.20,101.01 70.87,100.34 71.55,99.96 C72.22,99.58 72.90,99.41 73.57,99.10 C74.25,98.80 74.92,98.31 75.60,98.15 C76.28,98.00 76.95,97.99 77.63,98.16 C78.30,98.33 78.98,98.80 79.65,99.19 C80.33,99.57 81.00,99.70 81.68,100.47 C82.35,101.24 83.03,102.89 83.70,103.80 C84.38,104.71 85.06,104.70 85.73,105.93 C86.41,107.16 87.08,109.77 87.76,111.20 C88.43,112.62 89.11,113.04 89.78,114.49 C90.46,115.93 91.13,118.58 91.81,119.88 C92.48,121.17 93.16,121.69 93.83,122.26 C94.51,122.83 95.19,123.19 95.86,123.28 C96.54,123.36 97.21,123.37 97.89,122.76 C98.56,122.15 99.24,120.72 99.91,119.61 C100.59,118.50 101.26,116.90 101.94,116.11 C102.61,115.31 103.29,115.16 103.97,114.83 C104.64,114.51 105.32,114.20 105.99,114.16 C106.67,114.12 107.34,114.19 108.02,114.60 C108.69,115.01 109.37,116.20 110.04,116.63 C110.72,117.05 111.39,117.02 112.07,117.15 C112.74,117.29 113.42,117.44 114.10,117.45 C114.77,117.46 115.45,117.41 116.12,117.20 C116.80,116.99 117.47,116.49 118.15,116.18 C118.82,115.87 119.50,115.57 120.17,115.34 C120.85,115.11 121.86,114.88 122.20,114.78" fill="none" stroke="#dcdcdc" stroke-width="0.50" stroke-opacity="1.00" stroke-linejoin="round" stroke-linecap="round"/>
<path d="M29.00,114.52 C29.34,114.62 30.35,114.87 31.03,115.14 C31.70,115.42 32.38,115.90 33.05,116.18 C33.73,116.46 34.40,116.68 35.08,116.82 C35.75,116.96 36.43,116.89 37.10,117.03 C37.78,117.17 38.46,117.45 39.13,117.66 C39.81,117.86 40.48,118.15 41.16,118.26 C41.83,118.36 42.51,118.43 43.18,118.32 C43.86,118.20 44.53,117.79 45.21,117.55 C45.88,117.31 46.56,117.26 47.23,116.87 C47.91,116.48 48.59,115.76 49.26,115.21 C49.94,114.66 50.61,114.11 51.29,113.58 C51.96,113.05 52.64,112.59 53.31,112.01 C53.99,111.42 54.66,110.80 55.34,110.07 C56.01,109.34 56.69,108.33 57.37,107.63 C58.04,106.93 58.72,106.62 59.39,105.88 C60.07,105.15 60.74,103.97 61.42,103.23 C62.09,102.49 62.77,102.17 63.44,101.46 C64.12,100.76 64.79,99.70 65.47,98.98 C66.14,98.25 66.82,97.71 67.50,97.11 C68.17,96.52 68.85,95.88 69.52,95.41 C70.20,94.94 70.87,94.49 71.55,94.29 C72.22,94.10 72.90,94.11 73.57,94.25 C74.25,94.39 74.92,94.71 75.60,95.11 C76.28,95.51 76.95,95.90 77.63,96.66 C78.30,97.41 78.98,98.54 79.65,99.66 C80.33,100.78 81.00,102.07 81.68,103.38 C82.35,104.69 83.03,106.11 83.70,107.50 C84.38,108.90 85.06,110.63 85.73,111.77 C86.41,112.91 87.08,113.42 87.76,114.36 C88.43,115.30 89.11,116.68 89.78,117.39 C90.46,118.09 91.13,118.43 91.81,118.59 C92.48,118.76 93.16,118.44 93.83,118.38 C94.51,118.32 95.19,118.40 95.86,118.25 C96.54,118.10 97.21,117.92 97.89,117.48 C98.56,117.05 99.24,116.03 99.91,115.63 C100.59,115.23 101.26,115.38 101.94,115.11 C102.61,114.83 103.29,114.31 103.97,113.95 C104.64,113.60 105.32,113.17 105.99,112.97 C106.67,112.77 107.34,112.87 108.02,112.76 C108.69,112.65 109.37,112.40 110.04,112.30 C110.72,112.20 111.39,112.13 112.07,112.16 C112.74,112.18 113.42,112.38 114.10,112.46 C114.77,112.53 115.45,112.57 116.12,112.59 C116.80,112.61 117.47,112.59 118.15,112.59 C118.82,112.59 119.50,112.59 120.17,112.59 C120.85,112.59 121.86,112.59 122.20,112.59" fill="none" stroke="#dcdcdc" stroke-width="0.50" stroke-opacity="1.00" stroke-linejoin="round" stroke-linecap="round"/>
<path d="M29.00,112.13 C29.34,112.18 30.35,112.40 31.03,112.39 C31.70,112.39 32.38,112.35 33.05,112.11 C33.73,111.88 34.40,111.33 35.08,111.00 C35.75,110.68 36.43,110.47 37.10,110.17 C37.78,109.88 38.46,109.62 39.13,109.23 C39.81,108.84 40.48,108.20 41.16,107.85 C41.83,107.50 42.51,107.22 43.18,107.13 C43.86,107.04 44.53,107.20 45.21,107.32 C45.88,107.43 46.56,107.73 47.23,107.83 C47.91,107.93 48.59,107.99 49.26,107.94 C49.94,107.89 50.61,107.68 51.29,107.52 C51.96,107.35 52.64,107.40 53.31,106.98 C53.99,106.55 54.66,105.79 55.34,104.95 C56.01,104.12 56.69,102.79 57.37,101.97 C58.04,101.15 58.72,100.66 59.39,100.06 C60.07,99.46 60.74,98.98 61.42,98.36 C62.09,97.75 62.77,96.89 63.44,96.36 C64.12,95.83 64.79,95.30 65.47,95.17 C66.14,95.04 66.82,95.54 67.50,95.57 C68.17,95.59 68.85,95.20 69.52,95.32 C70.20,95.44 70.87,96.03 71.55,96.28 C72.22,96.53 72.90,96.53 73.57,96.81 C74.25,97.09 74.92,97.45 75.60,97.98 C76.28,98.51 76.95,99.41 77.63,100.01 C78.30,100.61 78.98,100.76 79.65,101.58 C80.33,102.40 81.00,104.08 81.68,104.91 C82.35,105.75 83.03,105.58 83.70,106.60 C84.38,107.62 85.06,109.99 85.73,111.03 C86.41,112.06 87.08,111.85 87.76,112.82 C88.43,113.79 89.11,116.01 89.78,116.86 C90.46,117.71 91.13,117.47 91.81,117.90 C92.48,118.33 93.16,119.06 93.83,119.46 C94.51,119.86 95.19,120.31 95.86,120.30 C96.54,120.30 97.21,119.85 97.89,119.45 C98.56,119.06 99.24,118.44 99.91,117.94 C100.59,117.44 101.26,117.31 101.94,116.45 C102.61,115.58 103.29,114.04 103.97,112.76 C104.64,111.47 105.32,109.95 105.99,108.72 C106.67,107.49 107.34,106.39 108.02,105.36 C108.69,104.32 109.37,102.96 110.04,102.51 C110.72,102.05 111.39,102.29 112.07,102.64 C112.74,103.00 113.42,103.88 114.10,104.66 C114.77,105.43 115.45,106.44 116.12,107.31 C116.80,108.17 117.47,109.15 118.15,109.87 C118.82,110.59 119.50,111.21 120.17,111.61 C120.85,112.01 121.86,112.17 122.20,112.28" fill="none" stroke="#dcdcdc" stroke-width="0.50" stroke-opacity="1.00" stroke-linejoin="round" stroke-linecap="round"/>
<path d="M29.00,111.71 C29.34,111.69 30.35,111.69 31.03,111.59 C31.70,111.49 32.38,111.41 33.05,111.13 C33.73,110.84 34.40,110.24 35.08,109.87 C35.75,109.51 36.43,109.20 37.10,108.93 C37.78,108.67 38.46,108.50 39.13,108.29 C39.81,108.08 40.48,107.77 41.16,107.68 C41.83,107.59 42.51,107.55 43.18,107.76 C43.86,107.96 44.53,108.45 45.21,108.91 C45.88,109.37 46.56,110.03 47.23,110.54 C47.91,111.04 48.59,111.57 49.26,111.94 C49.94,112.32 50.61,112.50 51.29,112.80 C51.96,113.10 52.64,113.66 53.31,113.73 C53.99,113.80 54.66,113.52 55.34,113.24 C56.01,112.96 56.69,112.38 57.37,112.07 C58.04,111.77 58.72,111.70 59.39,111.41 C60.07,111.12 60.74,110.89 61.42,110.34 C62.09,109.80 62.77,108.75 63.44,108.14 C64.12,107.54 64.79,107.15 65.47,106.70 C66.14,106.25 66.82,105.90 67.50,105.43 C68.17,104.96 68.85,104.29 69.52,103.88 C70.20,103.48 70.87,103.28 71.55,102.98 C72.22,102.68 72.90,102.26 73.57,102.10 C74.25,101.94 74.92,101.91 75.60,102.02 C76.28,102.12 76.95,102.47 77.63,102.74 C78.30,103.00 78.98,103.07 79.65,103.61 C80.33,104.15 81.00,105.36 81.68,105.97 C82.35,106.58 83.03,106.47 83.70,107.26 C84.38,108.04 85.06,109.84 85.73,110.68 C86.41,111.53 87.08,111.53 87.76,112.34 C88.43,113.16 89.11,114.81 89.78,115.57 C90.46,116.32 91.13,116.45 91.81,116.87 C92.48,117.29 93.16,117.70 93.83,118.07 C94.51,118.45 95.19,119.00 95.86,119.12 C96.54,119.24 97.21,119.00 97.89,118.80 C98.56,118.60 99.24,118.14 99.91,117.93 C100.59,117.73 101.26,117.85 101.94,117.57 C102.61,117.29 103.29,116.70 103.97,116.25 C104.64,115.79 105.32,115.15 105.99,114.85 C106.67,114.55 107.34,114.68 108.02,114.43 C108.69,114.18 109.37,113.62 110.04,113.36 C110.72,113.10 111.39,112.98 112.07,112.86 C112.74,112.73 113.42,112.70 114.10,112.60 C114.77,112.50 115.45,112.31 116.12,112.26 C116.80,112.20 117.47,112.23 118.15,112.28 C118.82,112.32 119.50,112.48 120.17,112.53 C120.85,112.58 121.86,112.57 122.20,112.57" fill="none" stroke="#dcdcdc" stroke-width="0.50" stroke-opacity="1.00" stroke-linejoin="round" stroke-linecap="round"/>
<path d="M29.00,116.03 C29.34,116.23 30.35,116.73 31.03,117.23 C31.70,117.73 32.38,118.55 33.05,119.01 C33.73,119.48 34.40,119.77 35.08,120.01 C35.75,120.24 36.43,120.16 37.10,120.42 C37.78,120.67 38.46,121.19 39.13,121.54 C39.81,121.89 40.48,122.36 41.16,122.52 C41.83,122.68 42.51,122.73 43.18,122.49 C43.86,122.26 44.53,121.50 45.21,121.09 C45.88,120.68 46.56,120.72 47.23,120.04 C47.91,119.35 48.59,118.00 49.26,116.98 C49.94,115.96 50.61,114.85 51.29,113.93 C51.96,113.01 52.64,112.42 53.31,111.48 C53.99,110.54 54.66,109.57 55.34,108.29 C56.01,107.01 56.69,105.02 57.37,103.82 C58.04,102.61 58.72,102.14 59.39,101.05 C60.07,99.96 60.74,98.36 61.42,97.30 C62.09,96.24 62.77,95.58 63.44,94.69 C64.12,93.81 64.79,92.70 65.47,91.96 C66.14,91.23 66.82,90.66 67.50,90.30 C68.17,89.93 68.85,89.71 69.52,89.77 C70.20,89.83 70.87,90.13 71.55,90.66 C72.22,91.18 72.90,91.84 73.57,92.92 C74.25,93.99 74.92,95.84 75.60,97.12 C76.28,98.40 76.95,99.00 77.63,100.61 C78.30,102.23 78.98,104.98 79.65,106.80 C80.33,108.62 81.00,109.77 81.68,111.53 C82.35,113.29 83.03,115.71 83.70,117.34 C84.38,118.97 85.06,120.36 85.73,121.32 C86.41,122.29 87.08,122.43 87.76,123.14 C88.43,123.86 89.11,125.21 89.78,125.59 C90.46,125.96 91.13,125.68 91.81,125.40 C92.48,125.13 93.16,124.19 93.83,123.91 C94.51,123.64 95.19,123.93 95.86,123.74 C96.54,123.56 97.21,123.26 97.89,122.79 C98.56,122.31 99.24,121.10 99.91,120.89 C100.59,120.67 101.26,121.53 101.94,121.51 C102.61,121.49 103.29,120.96 103.97,120.76 C104.64,120.55 105.32,120.34 105.99,120.27 C106.67,120.21 107.34,120.53 108.02,120.40 C108.69,120.27 109.37,119.79 110.04,119.49 C110.72,119.20 111.39,118.88 112.07,118.65 C112.74,118.41 113.42,118.36 114.10,118.08 C114.77,117.80 115.45,117.36 116.12,116.96 C116.80,116.57 117.47,116.09 118.15,115.70 C118.82,115.31 119.50,114.95 120.17,114.64 C120.85,114.33 121.86,113.97 122.20,113.84" fill="none" stroke="#dcdcdc" stroke-width="0.50" stroke-opacity="1.00" stroke-linejoin="round" stroke-linecap="round"/>
<path d="M29.00,113.65 C29.34,113.73 30.35,113.99 31.03,114.13 C31.70,114.28 32.38,114.46 33.05,114.55 C33.73,114.64 34.40,114.59 35.08,114.65 C35.75,114.71 36.43,114.81 37.10,114.91 C37.78,115.00 38.46,115.16 39.13,115.23 C39.81,115.31 40.48,115.39 41.16,115.37 C41.83,115.35 42.51,115.22 43.18,115.11 C43.86,115.00 44.53,114.85 45.21,114.70 C45.88,114.55 46.56,114.43 47.23,114.23 C47.91,114.02 48.59,113.78 49.26,113.49 C49.94,113.21 50.61,112.74 51.29,112.51 C51.96,112.29 52.64,112.19 53.31,112.12 C53.99,112.05 54.66,112.03 55.34,112.11 C56.01,112.18 56.69,112.36 57.37,112.57 C58.04,112.77 58.72,112.95 59.39,113.32 C60.07,113.69 60.74,114.54 61.42,114.78 C62.09,115.03 62.77,114.92 63.44,114.80 C64.12,114.67 64.79,114.50 65.47,114.02 C66.14,113.54 66.82,112.63 67.50,111.92 C68.17,111.21 68.85,110.31 69.52,109.75 C70.20,109.20 70.87,108.90 71.55,108.58 C72.22,108.27 72.90,107.89 73.57,107.88 C74.25,107.87 74.92,108.36 75.60,108.51 C76.28,108.66 76.95,108.48 77.63,108.78 C78.30,109.07 78.98,109.97 79.65,110.29 C80.33,110.61 81.00,110.36 81.68,110.70 C82.35,111.04 83.03,111.95 83.70,112.34 C84.38,112.73 85.06,112.59 85.73,113.04 C86.41,113.49 87.08,114.33 87.76,115.04 C88.43,115.76 89.11,116.66 89.78,117.32 C90.46,117.97 91.13,118.58 91.81,118.99 C92.48,119.39 93.16,119.70 93.83,119.75 C94.51,119.81 95.19,119.76 95.86,119.34 C96.54,118.91 97.21,117.86 97.89,117.18 C98.56,116.51 99.24,115.84 99.91,115.29 C100.59,114.75 101.26,114.31 101.94,113.90 C102.61,113.49 103.29,113.05 103.97,112.83 C104.64,112.61 105.32,112.65 105.99,112.58 C106.67,112.50 107.34,112.43 108.02,112.38 C108.69,112.33 109.37,112.27 110.04,112.27 C110.72,112.28 111.39,112.36 112.07,112.40 C112.74,112.44 113.42,112.51 114.10,112.53 C114.77,112.56 115.45,112.54 116.12,112.54 C116.80,112.54 117.47,112.54 118.15,112.54 C118.82,112.54 119.50,112.54 120.17,112.54 C120.85,112.54 121.86,112.54 122.20,112.54" fill="none" stroke="#dcdcdc" stroke-width="0.50" stroke-opacity="1.00" stroke-linejoin="round" stroke-linecap="round"/>
<path d="M29.00,112.61 C29.34,112.61 30.35,112.60 31.03,112.61 C31.70,112.61 32.38,112.50 33.05,112.62 C33.73,112.74 34.40,113.02 35.08,113.33 C35.75,113.64 36.43,114.20 37.10,114.45 C37.78,114.70 38.46,114.66 39.13,114.85 C39.81,115.04 40.48,115.26 41.16,115.58 C41.83,115.90 42.51,116.46 43.18,116.78 C43.86,117.11 44.53,117.37 45.21,117.53 C45.88,117.70 46.56,117.61 47.23,117.78 C47.91,117.94 48.59,118.27 49.26,118.51 C49.94,118.75 50.61,119.08 51.29,119.21 C51.96,119.33 52.64,119.41 53.31,119.28 C53.99,119.14 54.66,118.66 55.34,118.38 C56.01,118.10 56.69,118.05 57.37,117.60 C58.04,117.14 58.72,116.30 59.39,115.66 C60.07,115.02 60.74,114.38 61.42,113.77 C62.09,113.15 62.77,112.63 63.44,111.96 C64.12,111.29 64.79,110.57 65.47,109.75 C66.14,108.92 66.82,107.77 67.50,107.01 C68.17,106.25 68.85,105.93 69.52,105.18 C70.20,104.42 70.87,103.16 71.55,102.48 C72.22,101.80 72.90,101.64 73.57,101.10 C74.25,100.57 74.92,99.68 75.60,99.28 C76.28,98.87 76.95,98.75 77.63,98.66 C78.30,98.56 78.98,98.52 79.65,98.72 C80.33,98.93 81.00,99.25 81.68,99.87 C82.35,100.49 83.03,101.43 83.70,102.43 C84.38,103.43 85.06,104.68 85.73,105.88 C86.41,107.09 87.08,108.23 87.76,109.65 C88.43,111.07 89.11,112.81 89.78,114.40 C90.46,116.00 91.13,117.65 91.81,119.22 C92.48,120.79 93.16,122.60 93.83,123.81 C94.51,125.02 95.19,126.05 95.86,126.50 C96.54,126.95 97.21,126.50 97.89,126.50 C98.56,126.50 99.24,126.50 99.91,126.50 C100.59,126.50 101.26,126.50 101.94,126.50 C102.61,126.50 103.29,126.66 103.97,126.50 C104.64,126.34 105.32,126.20 105.99,125.53 C106.67,124.85 107.34,123.61 108.02,122.46 C108.69,121.31 109.37,119.55 110.04,118.61 C110.72,117.68 111.39,117.48 112.07,116.85 C112.74,116.22 113.42,115.42 114.10,114.83 C114.77,114.24 115.45,113.64 116.12,113.32 C116.80,113.00 117.47,113.08 118.15,112.91 C118.82,112.74 119.50,112.43 120.17,112.30 C120.85,112.17 121.86,112.14 122.20,112.11" fill="none" stroke="#dcdcdc" stroke-width="0.50" stroke-opacity="1.00" stroke-linejoin="round" stroke-linecap="round"/>
<path d="M29.00,112.59 C29.34,112.59 30.35,112.59 31.03,112.59 C31.70,112.59 32.38,112.55 33.05,112.59 C33.73,112.63 34.40,112.65 35.08,112.85 C35.75,113.05 36.43,113.52 37.10,113.79 C37.78,114.06 38.46,114.29 39.13,114.46 C39.81,114.62 40.48,114.56 41.16,114.77 C41.83,114.98 42.51,115.42 43.18,115.72 C43.86,116.03 44.53,116.43 45.21,116.62 C45.88,116.81 46.56,116.74 47.23,116.86 C47.91,116.98 48.59,117.14 49.26,117.34 C49.94,117.53 50.61,117.84 51.29,118.01 C51.96,118.18 52.64,118.37 53.31,118.35 C53.99,118.34 54.66,118.13 55.34,117.91 C56.01,117.69 56.69,117.32 57.37,117.04 C58.04,116.77 58.72,116.68 59.39,116.28 C60.07,115.89 60.74,115.32 61.42,114.66 C62.09,114.00 62.77,112.94 63.44,112.32 C64.12,111.71 64.79,111.44 65.47,110.97 C66.14,110.50 66.82,110.09 67.50,109.49 C68.17,108.89 68.85,108.08 69.52,107.35 C70.20,106.63 70.87,105.62 71.55,105.12 C72.22,104.61 72.90,104.75 73.57,104.33 C74.25,103.91 74.92,102.93 75.60,102.59 C76.28,102.25 76.95,102.42 77.63,102.29 C78.30,102.16 78.98,101.82 79.65,101.82 C80.33,101.81 81.00,101.89 81.68,102.26 C82.35,102.62 83.03,103.49 83.70,104.00 C84.38,104.52 85.06,104.61 85.73,105.33 C86.41,106.06 87.08,107.65 87.76,108.34 C88.43,109.03 89.11,108.70 89.78,109.47 C90.46,110.24 91.13,112.28 91.81,112.96 C92.48,113.65 93.16,112.99 93.83,113.58 C94.51,114.17 95.19,116.01 95.86,116.50 C96.54,117.00 97.21,116.33 97.89,116.54 C98.56,116.74 99.24,117.41 99.91,117.75 C100.59,118.08 101.26,118.47 101.94,118.52 C102.61,118.57 103.29,118.23 103.97,118.05 C104.64,117.88 105.32,117.58 105.99,117.47 C106.67,117.36 107.34,117.68 108.02,117.41 C108.69,117.14 109.37,116.26 110.04,115.83 C110.72,115.41 111.39,115.11 112.07,114.86 C112.74,114.61 113.42,114.62 114.10,114.34 C114.77,114.05 115.45,113.39 116.12,113.14 C116.80,112.89 117.47,112.96 118.15,112.85 C118.82,112.74 119.50,112.59 120.17,112.47 C120.85,112.35 121.86,112.19 122.20,112.14" fill="none" stroke="#dcdcdc" stroke-width="0.50" stroke-opacity="1.00" stroke-linejoin="round" stroke-linecap="round"/>
<path d="M29.00,112.75 C29.34,112.93 30.35,113.44 31.03,113.78 C31.70,114.12 32.38,114.57 33.05,114.79 C33.73,115.00 34.40,114.87 35.08,115.09 C35.75,115.32 36.43,115.75 37.10,116.12 C37.78,116.49 38.46,117.04 39.13,117.32 C39.81,117.59 40.48,117.62 41.16,117.77 C41.83,117.92 42.51,118.00 43.18,118.21 C43.86,118.42 44.53,118.80 45.21,119.04 C45.88,119.27 46.56,119.55 47.23,119.60 C47.91,119.64 48.59,119.54 49.26,119.31 C49.94,119.09 50.61,118.52 51.29,118.25 C51.96,117.97 52.64,118.13 53.31,117.67 C53.99,117.22 54.66,116.33 55.34,115.50 C56.01,114.68 56.69,113.45 57.37,112.73 C58.04,112.01 58.72,111.76 59.39,111.19 C60.07,110.63 60.74,110.22 61.42,109.33 C62.09,108.45 62.77,106.87 63.44,105.89 C64.12,104.91 64.79,104.19 65.47,103.45 C66.14,102.71 66.82,102.24 67.50,101.44 C68.17,100.65 68.85,99.45 69.52,98.70 C70.20,97.94 70.87,97.54 71.55,96.90 C72.22,96.27 72.90,95.37 73.57,94.91 C74.25,94.45 74.92,94.15 75.60,94.14 C76.28,94.12 76.95,94.50 77.63,94.80 C78.30,95.10 78.98,95.08 79.65,95.92 C80.33,96.75 81.00,98.75 81.68,99.81 C82.35,100.86 83.03,100.85 83.70,102.26 C84.38,103.67 85.06,106.74 85.73,108.25 C86.41,109.76 87.08,109.89 87.76,111.31 C88.43,112.73 89.11,115.50 89.78,116.77 C90.46,118.03 91.13,118.19 91.81,118.89 C92.48,119.58 93.16,120.32 93.83,120.93 C94.51,121.53 95.19,122.34 95.86,122.52 C96.54,122.70 97.21,122.31 97.89,122.00 C98.56,121.70 99.24,121.00 99.91,120.69 C100.59,120.38 101.26,120.59 101.94,120.15 C102.61,119.71 103.29,118.76 103.97,118.07 C104.64,117.39 105.32,116.47 105.99,116.02 C106.67,115.57 107.34,115.76 108.02,115.38 C108.69,114.99 109.37,114.13 110.04,113.74 C110.72,113.35 111.39,113.22 112.07,113.04 C112.74,112.85 113.42,112.78 114.10,112.63 C114.77,112.48 115.45,112.20 116.12,112.12 C116.80,112.05 117.47,112.10 118.15,112.17 C118.82,112.25 119.50,112.49 120.17,112.56 C120.85,112.63 121.86,112.60 122.20,112.61" fill="none" stroke="#dcdcdc" stroke-width="0.50" stroke-opacity="1.00" stroke-linejoin="round" stroke-linecap="round"/>
<path d="M29.00,113.80 C29.34,113.89 30.35,114.18 31.03,114.35 C31.70,114.52 32.38,114.73 33.05,114.83 C33.73,114.93 34.40,114.89 35.08,114.96 C35.75,115.02 36.43,115.13 37.10,115.24 C37.78,115.35 38.46,115.52 39.13,115.61 C39.81,115.71 40.48,115.80 41.16,115.78 C41.83,115.77 42.51,115.63 43.18,115.50 C43.86,115.37 44.53,115.19 45.21,115.02 C45.88,114.86 46.56,114.75 47.23,114.52 C47.91,114.28 48.59,113.99 49.26,113.62 C49.94,113.26 50.61,112.69 51.29,112.33 C51.96,111.98 52.64,111.79 53.31,111.49 C53.99,111.20 54.66,110.92 55.34,110.56 C56.01,110.20 56.69,109.79 57.37,109.34 C58.04,108.89 58.72,108.22 59.39,107.86 C60.07,107.51 60.74,107.53 61.42,107.21 C62.09,106.88 62.77,106.21 63.44,105.91 C64.12,105.61 64.79,105.58 65.47,105.40 C66.14,105.21 66.82,104.91 67.50,104.79 C68.17,104.67 68.85,104.57 69.52,104.67 C70.20,104.77 70.87,105.16 71.55,105.37 C72.22,105.59 72.90,105.58 73.57,105.95 C74.25,106.33 74.92,107.17 75.60,107.61 C76.28,108.06 76.95,108.02 77.63,108.60 C78.30,109.18 78.98,110.48 79.65,111.09 C80.33,111.69 81.00,111.64 81.68,112.23 C82.35,112.81 83.03,114.10 83.70,114.60 C84.38,115.10 85.06,114.93 85.73,115.22 C86.41,115.50 87.08,116.05 87.76,116.32 C88.43,116.59 89.11,116.81 89.78,116.84 C90.46,116.87 91.13,116.63 91.81,116.50 C92.48,116.36 93.16,116.15 93.83,116.02 C94.51,115.90 95.19,115.98 95.86,115.76 C96.54,115.53 97.21,114.94 97.89,114.66 C98.56,114.37 99.24,114.22 99.91,114.04 C100.59,113.87 101.26,113.79 101.94,113.60 C102.61,113.41 103.29,113.03 103.97,112.89 C104.64,112.74 105.32,112.78 105.99,112.72 C106.67,112.65 107.34,112.54 108.02,112.48 C108.69,112.41 109.37,112.31 110.04,112.30 C110.72,112.29 111.39,112.36 112.07,112.41 C112.74,112.45 113.42,112.53 114.10,112.55 C114.77,112.57 115.45,112.55 116.12,112.55 C116.80,112.55 117.47,112.55 118.15,112.55 C118.82,112.55 119.50,112.55 120.17,112.55 C120.85,112.55 121.86,112.55 122.20,112.55" fill="none" stroke="#dcdcdc" stroke-width="0.50" stroke-opacity="1.00" stroke-linejoin="round" stroke-linecap="round"/>
<path d="M29.00,114.37 C29.34,114.50 30.35,114.91 31.03,115.15 C31.70,115.38 32.38,115.65 33.05,115.77 C33.73,115.90 34.40,115.81 35.08,115.90 C35.75,115.98 36.43,116.13 37.10,116.26 C37.78,116.39 38.46,116.60 39.13,116.68 C39.81,116.76 40.48,116.84 41.16,116.75 C41.83,116.65 42.51,116.36 43.18,116.12 C43.86,115.88 44.53,115.61 45.21,115.31 C45.88,115.00 46.56,114.68 47.23,114.29 C47.91,113.91 48.59,113.49 49.26,113.00 C49.94,112.50 50.61,111.79 51.29,111.31 C51.96,110.83 52.64,110.54 53.31,110.13 C53.99,109.72 54.66,109.31 55.34,108.88 C56.01,108.44 56.69,108.05 57.37,107.49 C58.04,106.94 58.72,106.01 59.39,105.55 C60.07,105.08 60.74,105.17 61.42,104.71 C62.09,104.26 62.77,103.33 63.44,102.84 C64.12,102.34 64.79,102.19 65.47,101.75 C66.14,101.31 66.82,100.69 67.50,100.20 C68.17,99.71 68.85,99.14 69.52,98.81 C70.20,98.47 70.87,98.43 71.55,98.18 C72.22,97.93 72.90,97.34 73.57,97.32 C74.25,97.29 74.92,97.80 75.60,98.05 C76.28,98.30 76.95,98.11 77.63,98.80 C78.30,99.49 78.98,101.22 79.65,102.20 C80.33,103.19 81.00,103.58 81.68,104.72 C82.35,105.85 83.03,107.99 83.70,109.00 C84.38,110.01 85.06,110.15 85.73,110.78 C86.41,111.41 87.08,112.37 87.76,112.79 C88.43,113.21 89.11,113.40 89.78,113.31 C90.46,113.23 91.13,112.66 91.81,112.28 C92.48,111.90 93.16,111.39 93.83,111.02 C94.51,110.65 95.19,110.51 95.86,110.06 C96.54,109.60 97.21,108.67 97.89,108.29 C98.56,107.90 99.24,107.86 99.91,107.75 C100.59,107.64 101.26,107.67 101.94,107.63 C102.61,107.60 103.29,107.43 103.97,107.55 C104.64,107.68 105.32,108.13 105.99,108.39 C106.67,108.65 107.34,108.85 108.02,109.09 C108.69,109.33 109.37,109.54 110.04,109.83 C110.72,110.11 111.39,110.50 112.07,110.78 C112.74,111.07 113.42,111.36 114.10,111.55 C114.77,111.75 115.45,111.85 116.12,111.96 C116.80,112.08 117.47,112.16 118.15,112.23 C118.82,112.30 119.50,112.35 120.17,112.39 C120.85,112.43 121.86,112.47 122.20,112.48" fill="none" stroke="#dcdcdc" stroke-width="0.50" stroke-opacity="1.00" stroke-linejoin="round" stroke-linecap="round"/>
<path d="M29.00,112.57 C29.34,112.57 30.35,112.51 31.03,112.57 C31.70,112.63 32.38,112.73 33.05,112.92 C33.73,113.10 34.40,113.49 35.08,113.67 C35.75,113.86 36.43,113.92 37.10,114.04 C37.78,114.16 38.46,114.22 39.13,114.41 C39.81,114.59 40.48,114.96 41.16,115.18 C41.83,115.40 42.51,115.63 43.18,115.73 C43.86,115.83 44.53,115.74 45.21,115.78 C45.88,115.82 46.56,115.95 47.23,115.99 C47.91,116.02 48.59,116.12 49.26,116.01 C49.94,115.90 50.61,115.74 51.29,115.31 C51.96,114.89 52.64,114.19 53.31,113.47 C53.99,112.75 54.66,111.95 55.34,111.00 C56.01,110.05 56.69,108.87 57.37,107.77 C58.04,106.66 58.72,105.47 59.39,104.37 C60.07,103.26 60.74,102.02 61.42,101.13 C62.09,100.23 62.77,99.54 63.44,99.00 C64.12,98.46 64.79,98.08 65.47,97.91 C66.14,97.73 66.82,97.94 67.50,97.97 C68.17,97.99 68.85,97.80 69.52,98.05 C70.20,98.30 70.87,99.17 71.55,99.47 C72.22,99.77 72.90,99.64 73.57,99.85 C74.25,100.07 74.92,100.54 75.60,100.78 C76.28,101.01 76.95,101.06 77.63,101.25 C78.30,101.44 78.98,101.56 79.65,101.92 C80.33,102.28 81.00,102.96 81.68,103.44 C82.35,103.91 83.03,104.18 83.70,104.78 C84.38,105.38 85.06,106.36 85.73,107.03 C86.41,107.70 87.08,108.01 87.76,108.81 C88.43,109.60 89.11,111.05 89.78,111.81 C90.46,112.58 91.13,112.73 91.81,113.40 C92.48,114.08 93.16,115.44 93.83,115.87 C94.51,116.29 95.19,115.86 95.86,115.96 C96.54,116.07 97.21,116.53 97.89,116.51 C98.56,116.48 99.24,116.24 99.91,115.82 C100.59,115.40 101.26,114.57 101.94,113.98 C102.61,113.39 103.29,112.79 103.97,112.29 C104.64,111.79 105.32,111.50 105.99,110.98 C106.67,110.45 107.34,109.50 108.02,109.14 C108.69,108.78 109.37,108.87 110.04,108.81 C110.72,108.76 111.39,108.79 112.07,108.81 C112.74,108.83 113.42,108.77 114.10,108.95 C114.77,109.13 115.45,109.62 116.12,109.88 C116.80,110.14 117.47,110.31 118.15,110.51 C118.82,110.71 119.50,110.87 120.17,111.08 C120.85,111.29 121.86,111.67 122.20,111.79" fill="none" stroke="#dcdcdc" stroke-width="0.50" stroke-opacity="1.00" stroke-linejoin="round" stroke-linecap="round"/>
<path d="M29.00,112.64 C29.34,112.64 30.35,112.64 31.03,112.64 C31.70,112.64 32.38,112.63 33.05,112.64 C33.73,112.65 34.40,112.50 35.08,112.69 C35.75,112.88 36.43,113.36 37.10,113.78 C37.78,114.21 38.46,114.91 39.13,115.23 C39.81,115.54 40.48,115.42 41.16,115.67 C41.83,115.93 42.51,116.33 43.18,116.78 C43.86,117.23 44.53,117.96 45.21,118.37 C45.88,118.78 46.56,119.02 47.23,119.23 C47.91,119.44 48.59,119.38 49.26,119.61 C49.94,119.85 50.61,120.32 51.29,120.63 C51.96,120.94 52.64,121.36 53.31,121.49 C53.99,121.63 54.66,121.66 55.34,121.43 C56.01,121.21 56.69,120.52 57.37,120.16 C58.04,119.80 58.72,119.86 59.39,119.25 C60.07,118.64 60.74,117.41 61.42,116.48 C62.09,115.55 62.77,114.50 63.44,113.67 C64.12,112.85 64.79,112.35 65.47,111.53 C66.14,110.70 66.82,109.87 67.50,108.72 C68.17,107.56 68.85,105.72 69.52,104.62 C70.20,103.52 70.87,103.08 71.55,102.12 C72.22,101.17 72.90,99.82 73.57,98.88 C74.25,97.93 74.92,97.25 75.60,96.45 C76.28,95.65 76.95,94.75 77.63,94.10 C78.30,93.45 78.98,92.89 79.65,92.56 C80.33,92.24 81.00,92.06 81.68,92.13 C82.35,92.21 83.03,92.53 83.70,93.00 C84.38,93.47 85.06,93.99 85.73,94.97 C86.41,95.94 87.08,97.71 87.76,98.86 C88.43,100.01 89.11,100.43 89.78,101.89 C90.46,103.35 91.13,105.98 91.81,107.62 C92.48,109.26 93.16,110.15 93.83,111.74 C94.51,113.34 95.19,115.70 95.86,117.20 C96.54,118.71 97.21,119.86 97.89,120.76 C98.56,121.65 99.24,121.94 99.91,122.57 C100.59,123.20 101.26,124.40 101.94,124.56 C102.61,124.71 103.29,124.21 103.97,123.52 C104.64,122.83 105.32,121.40 105.99,120.41 C106.67,119.41 107.34,118.72 108.02,117.56 C108.69,116.39 109.37,114.85 110.04,113.43 C110.72,112.00 111.39,109.89 112.07,108.98 C112.74,108.08 113.42,108.30 114.10,108.00 C114.77,107.70 115.45,107.23 116.12,107.21 C116.80,107.19 117.47,107.48 118.15,107.86 C118.82,108.25 119.50,109.11 120.17,109.54 C120.85,109.96 121.86,110.25 122.20,110.40" fill="none" stroke="#dcdcdc" stroke-width="0.50" stroke-opacity="1.00" stroke-linejoin="round" stroke-linecap="round"/>
<path d="M29.00,113.92 C29.34,114.02 30.35,114.39 31.03,114.56 C31.70,114.73 32.38,114.70 33.05,114.93 C33.73,115.16 34.40,115.62 35.08,115.94 C35.75,116.26 36.43,116.66 37.10,116.84 C37.78,117.03 38.46,116.95 39.13,117.07 C39.81,117.20 40.48,117.40 41.16,117.60 C41.83,117.81 42.51,118.13 43.18,118.30 C43.86,118.47 44.53,118.65 45.21,118.62 C45.88,118.58 46.56,118.32 47.23,118.08 C47.91,117.85 48.59,117.51 49.26,117.20 C49.94,116.89 50.61,116.68 51.29,116.24 C51.96,115.81 52.64,115.26 53.31,114.59 C53.99,113.91 54.66,112.85 55.34,112.19 C56.01,111.53 56.69,111.18 57.37,110.63 C58.04,110.09 58.72,109.57 59.39,108.91 C60.07,108.25 60.74,107.49 61.42,106.67 C62.09,105.85 62.77,104.62 63.44,103.98 C64.12,103.35 64.79,103.42 65.47,102.85 C66.14,102.28 66.82,101.09 67.50,100.58 C68.17,100.07 68.85,100.08 69.52,99.80 C70.20,99.52 70.87,99.05 71.55,98.91 C72.22,98.78 72.90,98.70 73.57,98.98 C74.25,99.26 74.92,100.10 75.60,100.61 C76.28,101.12 76.95,101.22 77.63,102.02 C78.30,102.83 78.98,104.50 79.65,105.42 C80.33,106.33 81.00,106.37 81.68,107.52 C82.35,108.66 83.03,111.14 83.70,112.30 C84.38,113.45 85.06,113.39 85.73,114.46 C86.41,115.52 87.08,117.88 87.76,118.71 C88.43,119.55 89.11,119.11 89.78,119.46 C90.46,119.81 91.13,120.60 91.81,120.81 C92.48,121.03 93.16,121.09 93.83,120.75 C94.51,120.41 95.19,119.50 95.86,118.77 C96.54,118.04 97.21,117.11 97.89,116.39 C98.56,115.67 99.24,115.29 99.91,114.45 C100.59,113.60 101.26,112.11 101.94,111.30 C102.61,110.50 103.29,110.03 103.97,109.63 C104.64,109.24 105.32,109.15 105.99,108.93 C106.67,108.70 107.34,108.28 108.02,108.29 C108.69,108.30 109.37,108.78 110.04,109.01 C110.72,109.24 111.39,109.46 112.07,109.68 C112.74,109.90 113.42,110.07 114.10,110.34 C114.77,110.61 115.45,111.00 116.12,111.28 C116.80,111.57 117.47,111.87 118.15,112.04 C118.82,112.22 119.50,112.26 120.17,112.33 C120.85,112.40 121.86,112.46 122.20,112.48" fill="none" stroke="#dcdcdc" stroke-width="0.50" stroke-opacity="1.00" stroke-linejoin="round" stroke-linecap="round"/>
<path d="M29.00,113.77 C29.34,113.96 30.35,114.63 31.03,114.86 C31.70,115.10 32.38,114.96 33.05,115.18 C33.73,115.41 34.40,115.84 35.08,116.22 C35.75,116.61 36.43,117.20 37.10,117.49 C37.78,117.79 38.46,117.85 39.13,118.01 C39.81,118.16 40.48,118.21 41.16,118.42 C41.83,118.63 42.51,119.02 43.18,119.26 C43.86,119.49 44.53,119.78 45.21,119.83 C45.88,119.87 46.56,119.77 47.23,119.51 C47.91,119.26 48.59,118.62 49.26,118.30 C49.94,117.97 50.61,118.09 51.29,117.56 C51.96,117.02 52.64,116.00 53.31,115.09 C53.99,114.19 54.66,112.91 55.34,112.12 C56.01,111.33 56.69,111.00 57.37,110.36 C58.04,109.73 58.72,109.24 59.39,108.28 C60.07,107.33 60.74,105.63 61.42,104.64 C62.09,103.66 62.77,103.09 63.44,102.39 C64.12,101.69 64.79,101.15 65.47,100.45 C66.14,99.75 66.82,98.77 67.50,98.18 C68.17,97.58 68.85,97.31 69.52,96.89 C70.20,96.47 70.87,95.86 71.55,95.65 C72.22,95.44 72.90,95.43 73.57,95.63 C74.25,95.82 74.92,96.39 75.60,96.83 C76.28,97.27 76.95,97.41 77.63,98.28 C78.30,99.15 78.98,101.07 79.65,102.05 C80.33,103.02 81.00,102.87 81.68,104.12 C82.35,105.37 83.03,108.20 83.70,109.55 C84.38,110.90 85.06,110.93 85.73,112.22 C86.41,113.52 87.08,116.12 87.76,117.32 C88.43,118.53 89.11,118.77 89.78,119.44 C90.46,120.11 91.13,120.74 91.81,121.34 C92.48,121.93 93.16,122.82 93.83,123.02 C94.51,123.22 95.19,122.85 95.86,122.53 C96.54,122.22 97.21,121.48 97.89,121.15 C98.56,120.82 99.24,121.01 99.91,120.56 C100.59,120.12 101.26,119.20 101.94,118.48 C102.61,117.76 103.29,116.73 103.97,116.24 C104.64,115.76 105.32,115.98 105.99,115.58 C106.67,115.19 107.34,114.30 108.02,113.88 C108.69,113.46 109.37,113.27 110.04,113.07 C110.72,112.87 111.39,112.83 112.07,112.67 C112.74,112.51 113.42,112.21 114.10,112.12 C114.77,112.03 115.45,112.07 116.12,112.14 C116.80,112.21 117.47,112.47 118.15,112.55 C118.82,112.63 119.50,112.60 120.17,112.61 C120.85,112.63 121.86,112.61 122.20,112.61" fill="none" stroke="#dcdcdc" stroke-width="0.50" stroke-opacity="1.00" stroke-linejoin="round" stroke-linecap="round"/>
<path d="M29.00,113.10 C29.34,113.23 30.35,113.70 31.03,113.88 C31.70,114.05 32.38,114.01 33.05,114.14 C33.73,114.28 34.40,114.44 35.08,114.67 C35.75,114.90 36.43,115.29 37.10,115.51 C37.78,115.74 38.46,115.91 39.13,116.02 C39.81,116.13 40.48,116.08 41.16,116.20 C41.83,116.31 42.51,116.55 43.18,116.71 C43.86,116.88 44.53,117.11 45.21,117.19 C45.88,117.28 46.56,117.33 47.23,117.23 C47.91,117.13 48.59,116.79 49.26,116.59 C49.94,116.40 50.61,116.37 51.29,116.06 C51.96,115.74 52.64,115.13 53.31,114.68 C53.99,114.22 54.66,113.76 55.34,113.33 C56.01,112.90 56.69,112.56 57.37,112.10 C58.04,111.63 58.72,111.14 59.39,110.55 C60.07,109.96 60.74,109.12 61.42,108.58 C62.09,108.03 62.77,107.81 63.44,107.28 C64.12,106.74 64.79,105.87 65.47,105.37 C66.14,104.87 66.82,104.68 67.50,104.26 C68.17,103.84 68.85,103.21 69.52,102.85 C70.20,102.49 70.87,102.29 71.55,102.11 C72.22,101.93 72.90,101.78 73.57,101.76 C74.25,101.74 74.92,101.79 75.60,101.98 C76.28,102.16 76.95,102.51 77.63,102.86 C78.30,103.21 78.98,103.74 79.65,104.09 C80.33,104.45 81.00,104.60 81.68,104.98 C82.35,105.36 83.03,105.94 83.70,106.36 C84.38,106.78 85.06,107.07 85.73,107.53 C86.41,107.99 87.08,108.53 87.76,109.15 C88.43,109.76 89.11,110.61 89.78,111.22 C90.46,111.83 91.13,112.13 91.81,112.83 C92.48,113.53 93.16,114.75 93.83,115.41 C94.51,116.07 95.19,116.52 95.86,116.79 C96.54,117.05 97.21,116.95 97.89,117.01 C98.56,117.07 99.24,117.23 99.91,117.16 C100.59,117.08 101.26,116.93 101.94,116.58 C102.61,116.23 103.29,115.40 103.97,115.08 C104.64,114.76 105.32,114.88 105.99,114.65 C106.67,114.41 107.34,113.97 108.02,113.68 C108.69,113.38 109.37,113.05 110.04,112.89 C110.72,112.72 111.39,112.80 112.07,112.71 C112.74,112.61 113.42,112.41 114.10,112.33 C114.77,112.25 115.45,112.20 116.12,112.22 C116.80,112.25 117.47,112.41 118.15,112.47 C118.82,112.53 119.50,112.56 120.17,112.57 C120.85,112.59 121.86,112.57 122.20,112.57" fill="none" stroke="#dcdcdc" stroke-width="0.50" stroke-opacity="1.00" stroke-linejoin="round" stroke-linecap="round"/>
<path d="M29.00,114.51 C29.34,114.63 30.35,115.05 31.03,115.25 C31.70,115.44 32.38,115.41 33.05,115.68 C33.73,115.96 34.40,116.56 35.08,116.91 C35.75,117.26 36.43,117.66 37.10,117.79 C37.78,117.91 38.46,117.63 39.13,117.66 C39.81,117.69 40.48,117.84 41.16,117.98 C41.83,118.12 42.51,118.41 43.18,118.50 C43.86,118.60 44.53,118.71 45.21,118.55 C45.88,118.40 46.56,117.93 47.23,117.58 C47.91,117.23 48.59,116.85 49.26,116.45 C49.94,116.04 50.61,115.68 51.29,115.16 C51.96,114.63 52.64,114.07 53.31,113.30 C53.99,112.54 54.66,111.34 55.34,110.57 C56.01,109.80 56.69,109.36 57.37,108.67 C58.04,107.98 58.72,107.26 59.39,106.45 C60.07,105.63 60.74,104.84 61.42,103.79 C62.09,102.73 62.77,100.96 63.44,100.10 C64.12,99.24 64.79,99.40 65.47,98.63 C66.14,97.87 66.82,96.22 67.50,95.52 C68.17,94.82 68.85,94.82 69.52,94.45 C70.20,94.09 70.87,93.49 71.55,93.31 C72.22,93.13 72.90,92.99 73.57,93.38 C74.25,93.77 74.92,94.94 75.60,95.66 C76.28,96.37 76.95,96.58 77.63,97.65 C78.30,98.72 78.98,100.85 79.65,102.08 C80.33,103.31 81.00,103.49 81.68,105.03 C82.35,106.56 83.03,109.73 83.70,111.28 C84.38,112.82 85.06,112.82 85.73,114.29 C86.41,115.76 87.08,118.88 87.76,120.10 C88.43,121.31 89.11,120.81 89.78,121.59 C90.46,122.36 91.13,123.94 91.81,124.76 C92.48,125.58 93.16,126.21 93.83,126.50 C94.51,126.79 95.19,126.50 95.86,126.50 C96.54,126.50 97.21,126.50 97.89,126.50 C98.56,126.50 99.24,126.65 99.91,126.50 C100.59,126.35 101.26,126.18 101.94,125.62 C102.61,125.05 103.29,124.06 103.97,123.11 C104.64,122.17 105.32,121.09 105.99,119.95 C106.67,118.80 107.34,117.15 108.02,116.23 C108.69,115.31 109.37,114.98 110.04,114.43 C110.72,113.89 111.39,113.34 112.07,112.96 C112.74,112.59 113.42,112.27 114.10,112.17 C114.77,112.07 115.45,112.27 116.12,112.35 C116.80,112.43 117.47,112.60 118.15,112.65 C118.82,112.69 119.50,112.64 120.17,112.64 C120.85,112.63 121.86,112.63 122.20,112.63" fill="none" stroke="#dcdcdc" stroke-width="0.50" stroke-opacity="1.00" stroke-linejoin="round" stroke-linecap="round"/>
<path d="M29.00,113.07 C29.34,113.09 30.35,113.10 31.03,113.16 C31.70,113.22 32.38,113.41 33.05,113.42 C33.73,113.42 34.40,113.28 35.08,113.20 C35.75,113.12 36.43,112.93 37.10,112.94 C37.78,112.96 38.46,113.15 39.13,113.28 C39.81,113.41 40.48,113.65 41.16,113.73 C41.83,113.82 42.51,113.88 43.18,113.79 C43.86,113.69 44.53,113.35 45.21,113.17 C45.88,112.99 46.56,113.09 47.23,112.69 C47.91,112.29 48.59,111.46 49.26,110.76 C49.94,110.06 50.61,109.12 51.29,108.51 C51.96,107.90 52.64,107.54 53.31,107.09 C53.99,106.63 54.66,106.30 55.34,105.76 C56.01,105.23 56.69,104.29 57.37,103.89 C58.04,103.48 58.72,103.56 59.39,103.36 C60.07,103.15 60.74,102.92 61.42,102.66 C62.09,102.40 62.77,102.07 63.44,101.81 C64.12,101.54 64.79,101.31 65.47,101.06 C66.14,100.81 66.82,100.45 67.50,100.31 C68.17,100.17 68.85,100.13 69.52,100.24 C70.20,100.34 70.87,100.64 71.55,100.94 C72.22,101.24 72.90,101.42 73.57,102.03 C74.25,102.64 74.92,103.90 75.60,104.60 C76.28,105.30 76.95,105.33 77.63,106.23 C78.30,107.12 78.98,108.98 79.65,109.97 C80.33,110.95 81.00,111.20 81.68,112.15 C82.35,113.10 83.03,114.80 83.70,115.69 C84.38,116.59 85.06,117.01 85.73,117.53 C86.41,118.05 87.08,118.39 87.76,118.83 C88.43,119.26 89.11,119.98 89.78,120.17 C90.46,120.35 91.13,120.14 91.81,119.93 C92.48,119.72 93.16,119.16 93.83,118.91 C94.51,118.67 95.19,118.76 95.86,118.45 C96.54,118.14 97.21,117.58 97.89,117.06 C98.56,116.54 99.24,115.69 99.91,115.32 C100.59,114.95 101.26,115.12 101.94,114.84 C102.61,114.56 103.29,113.94 103.97,113.62 C104.64,113.30 105.32,113.08 105.99,112.92 C106.67,112.76 107.34,112.77 108.02,112.66 C108.69,112.55 109.37,112.32 110.04,112.24 C110.72,112.17 111.39,112.17 112.07,112.22 C112.74,112.26 113.42,112.45 114.10,112.52 C114.77,112.58 115.45,112.57 116.12,112.58 C116.80,112.60 117.47,112.58 118.15,112.58 C118.82,112.58 119.50,112.58 120.17,112.58 C120.85,112.58 121.86,112.58 122.20,112.58" fill="none" stroke="#dcdcdc" stroke-width="0.50" stroke-opacity="1.00" stroke-linejoin="round" stroke-linecap="round"/>
<line x1="75.50" y1="84.00" x2="75.50" y2="127.00" stroke="#999" stroke-width="0.70" stroke-dasharray="2.2 2.3"/>
<line x1="31.00" y1="112.50" x2="122.00" y2="112.50" stroke="#b0b0b0" stroke-width="0.70" stroke-dasharray="2.2 2.3"/>
<path d="M29.00,111.80 C29.98,112.15 32.75,113.13 34.90,113.90 C37.05,114.67 39.58,115.72 41.90,116.40 C44.22,117.08 46.78,118.05 48.80,118.00 C50.82,117.95 52.80,116.80 54.00,116.10 C55.20,115.40 55.12,114.77 56.00,113.80 C56.88,112.83 58.25,111.30 59.25,110.30 C60.25,109.30 61.12,108.83 62.00,107.80 C62.88,106.77 63.50,105.37 64.50,104.10 C65.50,102.83 66.75,101.45 68.00,100.20 C69.25,98.95 70.83,97.43 72.00,96.60 C73.17,95.77 74.17,95.43 75.00,95.20 C75.83,94.97 76.17,94.87 77.00,95.20 C77.83,95.53 78.83,96.02 80.00,97.20 C81.17,98.38 82.67,100.25 84.00,102.30 C85.33,104.35 86.67,107.15 88.00,109.50 C89.33,111.85 90.48,114.63 92.00,116.40 C93.52,118.17 95.38,119.80 97.10,120.10 C98.82,120.40 100.57,119.15 102.30,118.20 C104.03,117.25 105.77,115.43 107.50,114.40 C109.23,113.37 110.97,112.52 112.70,112.00 C114.43,111.48 116.37,111.33 117.90,111.30 C119.43,111.27 121.23,111.72 121.90,111.80 L121.90,113.40 C121.23,113.32 119.43,112.80 117.90,112.90 C116.37,113.00 114.43,113.35 112.70,114.00 C110.97,114.65 109.23,115.63 107.50,116.80 C105.77,117.97 104.03,119.92 102.30,121.00 C100.57,122.08 98.82,123.40 97.10,123.30 C95.38,123.20 93.52,121.90 92.00,120.40 C90.48,118.90 89.33,116.45 88.00,114.30 C86.67,112.15 85.33,109.42 84.00,107.50 C82.67,105.58 81.17,103.92 80.00,102.80 C78.83,101.68 77.83,101.13 77.00,100.80 C76.17,100.47 75.83,100.57 75.00,100.80 C74.17,101.03 73.17,101.43 72.00,102.20 C70.83,102.97 69.25,104.28 68.00,105.40 C66.75,106.52 65.50,107.83 64.50,108.90 C63.50,109.97 62.88,110.97 62.00,111.80 C61.12,112.63 60.25,113.07 59.25,113.90 C58.25,114.73 56.88,116.03 56.00,116.80 C55.12,117.57 55.20,117.97 54.00,118.50 C52.80,119.03 50.82,120.05 48.80,120.00 C46.78,119.95 44.22,118.95 41.90,118.20 C39.58,117.45 37.05,116.30 34.90,115.50 C32.75,114.70 29.98,113.75 29.00,113.40 Z" fill="#aaa" fill-opacity="0.35" stroke="none"/>
<path d="M29.00,112.60 C29.98,112.95 32.75,113.92 34.90,114.70 C37.05,115.48 39.58,116.58 41.90,117.30 C44.22,118.02 46.78,119.00 48.80,119.00 C50.82,119.00 52.80,117.92 54.00,117.30 C55.20,116.68 55.12,116.17 56.00,115.30 C56.88,114.43 58.25,113.02 59.25,112.10 C60.25,111.18 61.12,110.73 62.00,109.80 C62.88,108.87 63.50,107.67 64.50,106.50 C65.50,105.33 66.75,103.98 68.00,102.80 C69.25,101.62 70.83,100.20 72.00,99.40 C73.17,98.60 74.17,98.23 75.00,98.00 C75.83,97.77 76.17,97.67 77.00,98.00 C77.83,98.33 78.83,98.85 80.00,100.00 C81.17,101.15 82.67,102.92 84.00,104.90 C85.33,106.88 86.67,109.65 88.00,111.90 C89.33,114.15 90.48,116.77 92.00,118.40 C93.52,120.03 95.38,121.50 97.10,121.70 C98.82,121.90 100.57,120.62 102.30,119.60 C104.03,118.58 105.77,116.70 107.50,115.60 C109.23,114.50 110.97,113.58 112.70,113.00 C114.43,112.42 116.37,112.17 117.90,112.10 C119.43,112.03 121.23,112.52 121.90,112.60" fill="none" stroke="#1a1a1a" stroke-width="1.25" stroke-opacity="1.00" stroke-linejoin="round" stroke-linecap="round"/>
<text x="75.50" y="144.20" text-anchor="middle" font-size="5.45" fill="#000" stroke="#000" stroke-width="0.02" >Time shift (ms)</text>
<line x1="145.50" y1="84.00" x2="145.50" y2="128.00" stroke="#6a6a6a" stroke-width="1.0"/>
<line x1="145.00" y1="127.50" x2="239.00" y2="127.50" stroke="#6a6a6a" stroke-width="1.0"/>
<line x1="145.50" y1="84.50" x2="147.80" y2="84.50" stroke="#6a6a6a" stroke-width="0.80" />
<text x="144.00" y="86.45" text-anchor="end" font-size="5.45" fill="#000" stroke="#000" stroke-width="0.02" >1</text>
<line x1="145.50" y1="98.50" x2="147.80" y2="98.50" stroke="#6a6a6a" stroke-width="0.80" />
<text x="144.00" y="100.45" text-anchor="end" font-size="5.45" fill="#000" stroke="#000" stroke-width="0.02" >0.5</text>
<line x1="145.50" y1="112.50" x2="147.80" y2="112.50" stroke="#6a6a6a" stroke-width="0.80" />
<text x="144.00" y="114.45" text-anchor="end" font-size="5.45" fill="#000" stroke="#000" stroke-width="0.02" >0</text>
<line x1="145.50" y1="127.50" x2="145.50" y2="125.20" stroke="#6a6a6a" stroke-width="0.80" />
<text x="145.50" y="134.40" text-anchor="middle" font-size="5.45" fill="#000" stroke="#000" stroke-width="0.02" >−1,000</text>
<line x1="168.50" y1="127.50" x2="168.50" y2="125.20" stroke="#6a6a6a" stroke-width="0.80" />
<text x="168.50" y="134.40" text-anchor="middle" font-size="5.45" fill="#000" stroke="#000" stroke-width="0.02" >−500</text>
<line x1="191.50" y1="127.50" x2="191.50" y2="125.20" stroke="#6a6a6a" stroke-width="0.80" />
<text x="191.50" y="134.40" text-anchor="middle" font-size="5.45" fill="#000" stroke="#000" stroke-width="0.02" >0</text>
<line x1="214.50" y1="127.50" x2="214.50" y2="125.20" stroke="#6a6a6a" stroke-width="0.80" />
<text x="214.50" y="134.40" text-anchor="middle" font-size="5.45" fill="#000" stroke="#000" stroke-width="0.02" >500</text>
<line x1="238.50" y1="127.50" x2="238.50" y2="125.20" stroke="#6a6a6a" stroke-width="0.80" />
<text x="238.50" y="134.40" text-anchor="middle" font-size="5.45" fill="#000" stroke="#000" stroke-width="0.02" >1,000</text>
<path d="M145.50,112.03 C145.83,111.86 146.83,111.42 147.50,111.02 C148.17,110.62 148.83,110.12 149.50,109.62 C150.17,109.11 150.83,108.49 151.50,108.00 C152.17,107.50 152.83,106.80 153.50,106.65 C154.17,106.50 154.83,106.81 155.50,107.08 C156.17,107.35 156.83,107.90 157.50,108.27 C158.17,108.65 158.83,108.78 159.50,109.33 C160.17,109.88 160.83,110.81 161.50,111.57 C162.17,112.33 162.83,113.26 163.50,113.89 C164.17,114.53 164.83,114.98 165.50,115.37 C166.17,115.76 166.83,116.00 167.50,116.25 C168.17,116.50 168.83,116.78 169.50,116.86 C170.17,116.94 170.83,116.77 171.50,116.73 C172.17,116.68 172.83,116.53 173.50,116.60 C174.17,116.67 174.83,117.01 175.50,117.15 C176.17,117.29 176.83,117.42 177.50,117.47 C178.17,117.51 178.83,117.61 179.50,117.41 C180.17,117.21 180.83,116.90 181.50,116.26 C182.17,115.62 182.83,114.78 183.50,113.57 C184.17,112.37 184.83,110.62 185.50,109.01 C186.17,107.39 186.83,105.56 187.50,103.88 C188.17,102.21 188.83,100.42 189.50,98.98 C190.17,97.53 190.83,96.43 191.50,95.21 C192.17,93.99 192.83,92.67 193.50,91.64 C194.17,90.62 194.83,89.61 195.50,89.04 C196.17,88.47 196.83,88.26 197.50,88.22 C198.17,88.18 198.83,88.30 199.50,88.80 C200.17,89.29 200.83,89.81 201.50,91.20 C202.17,92.60 202.83,95.09 203.50,97.15 C204.17,99.21 204.83,101.93 205.50,103.58 C206.17,105.24 206.83,105.05 207.50,107.08 C208.17,109.11 208.83,113.77 209.50,115.74 C210.17,117.71 210.83,117.27 211.50,118.89 C212.17,120.52 212.83,124.21 213.50,125.48 C214.17,126.74 214.83,126.33 215.50,126.50 C216.17,126.67 216.83,126.50 217.50,126.50 C218.17,126.50 218.83,126.65 219.50,126.50 C220.17,126.35 220.83,126.87 221.50,125.62 C222.17,124.38 222.83,120.67 223.50,119.05 C224.17,117.42 224.83,116.97 225.50,115.89 C226.17,114.81 226.83,113.63 227.50,112.56 C228.17,111.50 228.83,110.07 229.50,109.51 C230.17,108.95 230.83,109.33 231.50,109.20 C232.17,109.08 232.83,108.78 233.50,108.76 C234.17,108.73 234.83,108.87 235.50,109.05 C236.17,109.23 237.17,109.72 237.50,109.85" fill="none" stroke="#dcdcdc" stroke-width="0.50" stroke-opacity="1.00" stroke-linejoin="round" stroke-linecap="round"/>
<path d="M145.50,109.53 C145.83,109.24 146.83,108.42 147.50,107.79 C148.17,107.16 148.83,106.34 149.50,105.74 C150.17,105.15 150.83,104.65 151.50,104.22 C152.17,103.79 152.83,103.51 153.50,103.14 C154.17,102.78 154.83,102.23 155.50,102.04 C156.17,101.85 156.83,101.86 157.50,102.02 C158.17,102.17 158.83,102.59 159.50,102.99 C160.17,103.39 160.83,103.89 161.50,104.44 C162.17,104.98 162.83,105.60 163.50,106.25 C164.17,106.89 164.83,107.66 165.50,108.29 C166.17,108.93 166.83,109.55 167.50,110.06 C168.17,110.58 168.83,110.96 169.50,111.39 C170.17,111.82 170.83,112.32 171.50,112.65 C172.17,112.97 172.83,113.25 173.50,113.34 C174.17,113.43 174.83,113.45 175.50,113.19 C176.17,112.94 176.83,112.52 177.50,111.81 C178.17,111.11 178.83,110.18 179.50,108.96 C180.17,107.73 180.83,106.07 181.50,104.46 C182.17,102.85 182.83,100.99 183.50,99.31 C184.17,97.62 184.83,95.78 185.50,94.34 C186.17,92.89 186.83,91.69 187.50,90.65 C188.17,89.61 188.83,88.66 189.50,88.10 C190.17,87.54 190.83,87.21 191.50,87.28 C192.17,87.35 192.83,87.87 193.50,88.50 C194.17,89.14 194.83,90.03 195.50,91.09 C196.17,92.14 196.83,93.47 197.50,94.84 C198.17,96.21 198.83,97.62 199.50,99.31 C200.17,101.00 200.83,103.59 201.50,104.96 C202.17,106.33 202.83,106.23 203.50,107.53 C204.17,108.83 204.83,111.43 205.50,112.76 C206.17,114.09 206.83,114.54 207.50,115.51 C208.17,116.48 208.83,117.44 209.50,118.56 C210.17,119.68 210.83,121.64 211.50,122.23 C212.17,122.82 212.83,122.35 213.50,122.11 C214.17,121.88 214.83,121.13 215.50,120.81 C216.17,120.48 216.83,120.80 217.50,120.16 C218.17,119.51 218.83,117.88 219.50,116.93 C220.17,115.97 220.83,115.06 221.50,114.42 C222.17,113.77 222.83,113.64 223.50,113.07 C224.17,112.51 224.83,111.39 225.50,111.00 C226.17,110.61 226.83,110.83 227.50,110.75 C228.17,110.66 228.83,110.52 229.50,110.48 C230.17,110.44 230.83,110.43 231.50,110.52 C232.17,110.60 232.83,110.87 233.50,110.98 C234.17,111.08 234.83,111.04 235.50,111.14 C236.17,111.23 237.17,111.47 237.50,111.54" fill="none" stroke="#dcdcdc" stroke-width="0.50" stroke-opacity="1.00" stroke-linejoin="round" stroke-linecap="round"/>
<path d="M145.50,114.74 C145.83,114.82 146.83,115.09 147.50,115.22 C148.17,115.36 148.83,115.51 149.50,115.56 C150.17,115.61 150.83,115.55 151.50,115.52 C152.17,115.49 152.83,115.41 153.50,115.37 C154.17,115.33 154.83,115.37 155.50,115.30 C156.17,115.23 156.83,115.04 157.50,114.97 C158.17,114.89 158.83,114.82 159.50,114.85 C160.17,114.87 160.83,115.06 161.50,115.13 C162.17,115.19 162.83,115.24 163.50,115.24 C164.17,115.24 164.83,115.27 165.50,115.13 C166.17,114.99 166.83,114.78 167.50,114.39 C168.17,113.99 168.83,113.46 169.50,112.77 C170.17,112.07 170.83,111.10 171.50,110.21 C172.17,109.32 172.83,108.31 173.50,107.40 C174.17,106.50 174.83,105.57 175.50,104.79 C176.17,104.01 176.83,103.39 177.50,102.73 C178.17,102.07 178.83,101.36 179.50,100.83 C180.17,100.30 180.83,99.80 181.50,99.53 C182.17,99.25 182.83,99.16 183.50,99.18 C184.17,99.20 184.83,99.34 185.50,99.64 C186.17,99.94 186.83,100.13 187.50,100.97 C188.17,101.81 188.83,103.55 189.50,104.68 C190.17,105.81 190.83,106.87 191.50,107.78 C192.17,108.69 192.83,108.99 193.50,110.16 C194.17,111.34 194.83,113.81 195.50,114.85 C196.17,115.89 196.83,115.49 197.50,116.41 C198.17,117.32 198.83,119.28 199.50,120.33 C200.17,121.37 200.83,122.43 201.50,122.68 C202.17,122.93 202.83,122.16 203.50,121.82 C204.17,121.48 204.83,121.01 205.50,120.62 C206.17,120.22 206.83,120.26 207.50,119.45 C208.17,118.63 208.83,116.58 209.50,115.72 C210.17,114.86 210.83,114.89 211.50,114.31 C212.17,113.73 212.83,112.82 213.50,112.24 C214.17,111.67 214.83,111.12 215.50,110.85 C216.17,110.59 216.83,110.73 217.50,110.66 C218.17,110.59 218.83,110.43 219.50,110.43 C220.17,110.43 220.83,110.56 221.50,110.66 C222.17,110.77 222.83,110.98 223.50,111.07 C224.17,111.17 224.83,111.13 225.50,111.24 C226.17,111.35 226.83,111.56 227.50,111.73 C228.17,111.90 228.83,112.13 229.50,112.24 C230.17,112.36 230.83,112.39 231.50,112.42 C232.17,112.45 232.83,112.42 233.50,112.42 C234.17,112.42 234.83,112.42 235.50,112.42 C236.17,112.42 237.17,112.42 237.50,112.42" fill="none" stroke="#dcdcdc" stroke-width="0.50" stroke-opacity="1.00" stroke-linejoin="round" stroke-linecap="round"/>
<path d="M145.50,114.36 C145.83,114.63 146.83,115.65 147.50,116.00 C148.17,116.35 148.83,116.27 149.50,116.47 C150.17,116.67 150.83,116.93 151.50,117.20 C152.17,117.47 152.83,117.90 153.50,118.08 C154.17,118.26 154.83,118.28 155.50,118.27 C156.17,118.26 156.83,118.10 157.50,118.03 C158.17,117.95 158.83,117.92 159.50,117.82 C160.17,117.73 160.83,117.62 161.50,117.46 C162.17,117.31 162.83,116.94 163.50,116.90 C164.17,116.85 164.83,117.06 165.50,117.18 C166.17,117.31 166.83,117.58 167.50,117.66 C168.17,117.74 168.83,117.84 169.50,117.68 C170.17,117.51 170.83,117.26 171.50,116.67 C172.17,116.08 172.83,115.31 173.50,114.14 C174.17,112.97 174.83,111.25 175.50,109.65 C176.17,108.05 176.83,106.19 177.50,104.52 C178.17,102.84 178.83,101.02 179.50,99.59 C180.17,98.17 180.83,97.12 181.50,95.97 C182.17,94.82 182.83,93.61 183.50,92.68 C184.17,91.75 184.83,90.84 185.50,90.39 C186.17,89.95 186.83,89.89 187.50,90.01 C188.17,90.13 188.83,90.41 189.50,91.12 C190.17,91.84 190.83,92.99 191.50,94.29 C192.17,95.59 192.83,96.71 193.50,98.91 C194.17,101.12 194.83,105.56 195.50,107.53 C196.17,109.50 196.83,108.83 197.50,110.74 C198.17,112.64 198.83,116.82 199.50,118.95 C200.17,121.08 200.83,122.28 201.50,123.54 C202.17,124.80 202.83,126.01 203.50,126.50 C204.17,126.99 204.83,126.50 205.50,126.50 C206.17,126.50 206.83,126.50 207.50,126.50 C208.17,126.50 208.83,126.50 209.50,126.50 C210.17,126.50 210.83,127.50 211.50,126.50 C212.17,125.50 212.83,122.50 213.50,120.48 C214.17,118.46 214.83,115.92 215.50,114.38 C216.17,112.84 216.83,112.64 217.50,111.26 C218.17,109.87 218.83,107.23 219.50,106.05 C220.17,104.87 220.83,104.79 221.50,104.19 C222.17,103.59 222.83,102.93 223.50,102.46 C224.17,101.98 224.83,101.53 225.50,101.35 C226.17,101.18 226.83,101.41 227.50,101.42 C228.17,101.42 228.83,101.26 229.50,101.39 C230.17,101.51 230.83,101.78 231.50,102.18 C232.17,102.58 232.83,103.25 233.50,103.79 C234.17,104.32 234.83,104.92 235.50,105.38 C236.17,105.85 237.17,106.38 237.50,106.58" fill="none" stroke="#dcdcdc" stroke-width="0.50" stroke-opacity="1.00" stroke-linejoin="round" stroke-linecap="round"/>
<path d="M145.50,112.54 C145.83,112.50 146.83,112.40 147.50,112.29 C148.17,112.18 148.83,112.02 149.50,111.87 C150.17,111.72 150.83,111.50 151.50,111.38 C152.17,111.27 152.83,111.30 153.50,111.18 C154.17,111.06 154.83,110.89 155.50,110.68 C156.17,110.47 156.83,110.10 157.50,109.92 C158.17,109.74 158.83,109.66 159.50,109.59 C160.17,109.52 160.83,109.51 161.50,109.51 C162.17,109.51 162.83,109.52 163.50,109.62 C164.17,109.72 164.83,109.88 165.50,110.09 C166.17,110.30 166.83,110.63 167.50,110.88 C168.17,111.13 168.83,111.32 169.50,111.57 C170.17,111.82 170.83,112.10 171.50,112.38 C172.17,112.67 172.83,113.04 173.50,113.28 C174.17,113.52 174.83,113.71 175.50,113.84 C176.17,113.96 176.83,114.06 177.50,114.02 C178.17,113.99 178.83,113.87 179.50,113.61 C180.17,113.35 180.83,112.96 181.50,112.46 C182.17,111.97 182.83,111.28 183.50,110.64 C184.17,110.00 184.83,109.28 185.50,108.64 C186.17,107.99 186.83,107.35 187.50,106.79 C188.17,106.23 188.83,105.76 189.50,105.27 C190.17,104.77 190.83,104.25 191.50,103.84 C192.17,103.43 192.83,103.05 193.50,102.79 C194.17,102.54 194.83,102.39 195.50,102.31 C196.17,102.23 196.83,102.24 197.50,102.31 C198.17,102.39 198.83,102.32 199.50,102.77 C200.17,103.22 200.83,104.38 201.50,105.00 C202.17,105.63 202.83,106.00 203.50,106.51 C204.17,107.01 204.83,107.27 205.50,108.04 C206.17,108.82 206.83,110.45 207.50,111.15 C208.17,111.85 208.83,111.56 209.50,112.25 C210.17,112.94 210.83,114.51 211.50,115.27 C212.17,116.04 212.83,116.71 213.50,116.83 C214.17,116.95 214.83,116.36 215.50,116.00 C216.17,115.63 216.83,115.18 217.50,114.64 C218.17,114.10 218.83,113.71 219.50,112.74 C220.17,111.77 220.83,109.84 221.50,108.83 C222.17,107.81 222.83,107.42 223.50,106.63 C224.17,105.84 224.83,104.72 225.50,104.07 C226.17,103.43 226.83,102.95 227.50,102.74 C228.17,102.53 228.83,102.69 229.50,102.84 C230.17,102.98 230.83,103.21 231.50,103.60 C232.17,103.99 232.83,104.60 233.50,105.16 C234.17,105.72 234.83,106.40 235.50,106.96 C236.17,107.52 237.17,108.26 237.50,108.51" fill="none" stroke="#dcdcdc" stroke-width="0.50" stroke-opacity="1.00" stroke-linejoin="round" stroke-linecap="round"/>
<path d="M145.50,112.77 C145.83,112.77 146.83,112.77 147.50,112.77 C148.17,112.77 148.83,112.77 149.50,112.76 C150.17,112.76 150.83,112.73 151.50,112.76 C152.17,112.79 152.83,112.83 153.50,112.96 C154.17,113.08 154.83,113.38 155.50,113.50 C156.17,113.63 156.83,113.68 157.50,113.73 C158.17,113.77 158.83,113.75 159.50,113.79 C160.17,113.82 160.83,113.92 161.50,113.94 C162.17,113.96 162.83,113.94 163.50,113.90 C164.17,113.85 164.83,113.75 165.50,113.69 C166.17,113.64 166.83,113.59 167.50,113.57 C168.17,113.56 168.83,113.60 169.50,113.60 C170.17,113.59 170.83,113.52 171.50,113.55 C172.17,113.57 172.83,113.65 173.50,113.74 C174.17,113.83 174.83,113.99 175.50,114.07 C176.17,114.14 176.83,114.20 177.50,114.19 C178.17,114.18 178.83,114.15 179.50,114.01 C180.17,113.87 180.83,113.68 181.50,113.35 C182.17,113.03 182.83,112.56 183.50,112.06 C184.17,111.56 184.83,110.93 185.50,110.34 C186.17,109.76 186.83,109.12 187.50,108.57 C188.17,108.02 188.83,107.53 189.50,107.06 C190.17,106.60 190.83,106.16 191.50,105.77 C192.17,105.37 192.83,104.96 193.50,104.68 C194.17,104.40 194.83,104.19 195.50,104.09 C196.17,103.98 196.83,103.95 197.50,104.03 C198.17,104.11 198.83,104.34 199.50,104.57 C200.17,104.80 200.83,104.86 201.50,105.42 C202.17,105.99 202.83,107.38 203.50,107.98 C204.17,108.58 204.83,108.54 205.50,109.01 C206.17,109.48 206.83,110.18 207.50,110.79 C208.17,111.41 208.83,112.36 209.50,112.70 C210.17,113.04 210.83,112.54 211.50,112.83 C212.17,113.13 212.83,114.23 213.50,114.47 C214.17,114.70 214.83,114.56 215.50,114.26 C216.17,113.95 216.83,113.12 217.50,112.65 C218.17,112.17 218.83,111.86 219.50,111.40 C220.17,110.94 220.83,110.48 221.50,109.88 C222.17,109.28 222.83,108.14 223.50,107.81 C224.17,107.47 224.83,107.92 225.50,107.88 C226.17,107.84 226.83,107.49 227.50,107.57 C228.17,107.65 228.83,108.06 229.50,108.37 C230.17,108.67 230.83,109.09 231.50,109.39 C232.17,109.69 232.83,109.92 233.50,110.17 C234.17,110.43 234.83,110.74 235.50,110.95 C236.17,111.15 237.17,111.33 237.50,111.41" fill="none" stroke="#dcdcdc" stroke-width="0.50" stroke-opacity="1.00" stroke-linejoin="round" stroke-linecap="round"/>
<path d="M145.50,112.79 C145.83,112.79 146.83,112.79 147.50,112.79 C148.17,112.79 148.83,112.73 149.50,112.79 C150.17,112.85 150.83,112.98 151.50,113.14 C152.17,113.30 152.83,113.61 153.50,113.75 C154.17,113.88 154.83,113.87 155.50,113.94 C156.17,114.02 156.83,114.10 157.50,114.19 C158.17,114.29 158.83,114.45 159.50,114.52 C160.17,114.59 160.83,114.61 161.50,114.61 C162.17,114.61 162.83,114.55 163.50,114.52 C164.17,114.50 164.83,114.48 165.50,114.44 C166.17,114.41 166.83,114.38 167.50,114.33 C168.17,114.27 168.83,114.13 169.50,114.11 C170.17,114.09 170.83,114.15 171.50,114.19 C172.17,114.24 172.83,114.34 173.50,114.38 C174.17,114.41 174.83,114.44 175.50,114.38 C176.17,114.33 176.83,114.24 177.50,114.03 C178.17,113.82 178.83,113.54 179.50,113.12 C180.17,112.69 180.83,112.08 181.50,111.48 C182.17,110.89 182.83,110.20 183.50,109.57 C184.17,108.93 184.83,108.24 185.50,107.68 C186.17,107.12 186.83,106.68 187.50,106.20 C188.17,105.73 188.83,105.23 189.50,104.82 C190.17,104.42 190.83,104.01 191.50,103.76 C192.17,103.51 192.83,103.39 193.50,103.34 C194.17,103.29 194.83,103.30 195.50,103.46 C196.17,103.61 196.83,103.93 197.50,104.28 C198.17,104.63 198.83,104.85 199.50,105.54 C200.17,106.23 200.83,107.79 201.50,108.44 C202.17,109.09 202.83,108.80 203.50,109.44 C204.17,110.08 204.83,111.48 205.50,112.28 C206.17,113.07 206.83,113.69 207.50,114.21 C208.17,114.72 208.83,114.83 209.50,115.38 C210.17,115.93 210.83,117.25 211.50,117.50 C212.17,117.75 212.83,117.33 213.50,116.89 C214.17,116.45 214.83,115.52 215.50,114.88 C216.17,114.23 216.83,113.92 217.50,113.03 C218.17,112.14 218.83,110.74 219.50,109.55 C220.17,108.35 220.83,106.85 221.50,105.87 C222.17,104.89 222.83,104.48 223.50,103.68 C224.17,102.88 224.83,101.64 225.50,101.06 C226.17,100.48 226.83,100.38 227.50,100.22 C228.17,100.05 228.83,100.01 229.50,100.09 C230.17,100.18 230.83,100.38 231.50,100.73 C232.17,101.09 232.83,101.69 233.50,102.21 C234.17,102.72 234.83,103.25 235.50,103.83 C236.17,104.41 237.17,105.37 237.50,105.68" fill="none" stroke="#dcdcdc" stroke-width="0.50" stroke-opacity="1.00" stroke-linejoin="round" stroke-linecap="round"/>
<path d="M145.50,112.86 C145.83,112.95 146.83,113.22 147.50,113.36 C148.17,113.49 148.83,113.59 149.50,113.66 C150.17,113.74 150.83,113.72 151.50,113.78 C152.17,113.84 152.83,113.98 153.50,114.03 C154.17,114.09 154.83,114.14 155.50,114.09 C156.17,114.03 156.83,113.92 157.50,113.70 C158.17,113.47 158.83,113.19 159.50,112.73 C160.17,112.27 160.83,111.71 161.50,110.95 C162.17,110.20 162.83,109.12 163.50,108.22 C164.17,107.32 164.83,106.23 165.50,105.57 C166.17,104.91 166.83,104.39 167.50,104.26 C168.17,104.13 168.83,104.36 169.50,104.80 C170.17,105.23 170.83,106.14 171.50,106.85 C172.17,107.57 172.83,108.50 173.50,109.07 C174.17,109.63 174.83,110.07 175.50,110.24 C176.17,110.41 176.83,110.26 177.50,110.06 C178.17,109.87 178.83,109.44 179.50,109.08 C180.17,108.71 180.83,108.26 181.50,107.88 C182.17,107.50 182.83,107.13 183.50,106.79 C184.17,106.44 184.83,106.05 185.50,105.78 C186.17,105.51 186.83,105.28 187.50,105.15 C188.17,105.03 188.83,104.99 189.50,105.03 C190.17,105.07 190.83,105.21 191.50,105.40 C192.17,105.59 192.83,105.66 193.50,106.16 C194.17,106.66 194.83,107.80 195.50,108.42 C196.17,109.03 196.83,109.32 197.50,109.84 C198.17,110.35 198.83,110.81 199.50,111.50 C200.17,112.19 200.83,113.43 201.50,113.99 C202.17,114.55 202.83,114.31 203.50,114.83 C204.17,115.35 204.83,116.58 205.50,117.13 C206.17,117.68 206.83,118.06 207.50,118.14 C208.17,118.21 208.83,117.76 209.50,117.57 C210.17,117.37 210.83,117.21 211.50,116.96 C212.17,116.72 212.83,116.61 213.50,116.12 C214.17,115.64 214.83,114.51 215.50,114.05 C216.17,113.60 216.83,113.72 217.50,113.41 C218.17,113.09 218.83,112.48 219.50,112.17 C220.17,111.86 220.83,111.68 221.50,111.56 C222.17,111.44 222.83,111.48 223.50,111.44 C224.17,111.40 224.83,111.32 225.50,111.33 C226.17,111.34 226.83,111.44 227.50,111.50 C228.17,111.57 228.83,111.65 229.50,111.70 C230.17,111.76 230.83,111.75 231.50,111.82 C232.17,111.88 232.83,112.02 233.50,112.11 C234.17,112.20 234.83,112.32 235.50,112.38 C236.17,112.44 237.17,112.44 237.50,112.45" fill="none" stroke="#dcdcdc" stroke-width="0.50" stroke-opacity="1.00" stroke-linejoin="round" stroke-linecap="round"/>
<path d="M145.50,112.83 C145.83,112.83 146.83,112.83 147.50,112.83 C148.17,112.83 148.83,112.76 149.50,112.84 C150.17,112.91 150.83,113.09 151.50,113.28 C152.17,113.47 152.83,113.83 153.50,113.98 C154.17,114.13 154.83,114.10 155.50,114.19 C156.17,114.28 156.83,114.38 157.50,114.49 C158.17,114.61 158.83,114.79 159.50,114.87 C160.17,114.95 160.83,114.96 161.50,114.96 C162.17,114.96 162.83,114.89 163.50,114.86 C164.17,114.83 164.83,114.81 165.50,114.77 C166.17,114.73 166.83,114.69 167.50,114.62 C168.17,114.56 168.83,114.40 169.50,114.38 C170.17,114.36 170.83,114.45 171.50,114.51 C172.17,114.57 172.83,114.69 173.50,114.75 C174.17,114.80 174.83,114.86 175.50,114.82 C176.17,114.78 176.83,114.71 177.50,114.51 C178.17,114.32 178.83,114.06 179.50,113.67 C180.17,113.27 180.83,112.66 181.50,112.13 C182.17,111.60 182.83,110.99 183.50,110.49 C184.17,109.99 184.83,109.46 185.50,109.13 C186.17,108.80 186.83,108.68 187.50,108.51 C188.17,108.35 188.83,108.20 189.50,108.14 C190.17,108.08 190.83,108.05 191.50,108.14 C192.17,108.24 192.83,108.49 193.50,108.72 C194.17,108.96 194.83,109.21 195.50,109.53 C196.17,109.85 196.83,110.28 197.50,110.67 C198.17,111.05 198.83,111.21 199.50,111.83 C200.17,112.44 200.83,113.92 201.50,114.35 C202.17,114.78 202.83,114.02 203.50,114.41 C204.17,114.81 204.83,116.12 205.50,116.71 C206.17,117.29 206.83,117.56 207.50,117.92 C208.17,118.29 208.83,118.34 209.50,118.90 C210.17,119.46 210.83,120.95 211.50,121.29 C212.17,121.64 212.83,121.26 213.50,120.98 C214.17,120.70 214.83,119.97 215.50,119.63 C216.17,119.29 216.83,119.46 217.50,118.94 C218.17,118.41 218.83,117.31 219.50,116.51 C220.17,115.71 220.83,114.68 221.50,114.13 C222.17,113.58 222.83,113.65 223.50,113.19 C224.17,112.74 224.83,111.76 225.50,111.42 C226.17,111.07 226.83,111.20 227.50,111.12 C228.17,111.03 228.83,110.94 229.50,110.90 C230.17,110.86 230.83,110.82 231.50,110.88 C232.17,110.93 232.83,111.15 233.50,111.24 C234.17,111.32 234.83,111.31 235.50,111.39 C236.17,111.46 237.17,111.63 237.50,111.68" fill="none" stroke="#dcdcdc" stroke-width="0.50" stroke-opacity="1.00" stroke-linejoin="round" stroke-linecap="round"/>
<path d="M145.50,112.91 C145.83,112.91 146.83,112.91 147.50,112.91 C148.17,112.91 148.83,112.91 149.50,112.91 C150.17,112.91 150.83,112.90 151.50,112.90 C152.17,112.91 152.83,112.81 153.50,112.92 C154.17,113.02 154.83,113.30 155.50,113.53 C156.17,113.76 156.83,114.15 157.50,114.29 C158.17,114.43 158.83,114.33 159.50,114.37 C160.17,114.40 160.83,114.49 161.50,114.49 C162.17,114.49 162.83,114.54 163.50,114.38 C164.17,114.22 164.83,113.91 165.50,113.51 C166.17,113.10 166.83,112.55 167.50,111.95 C168.17,111.35 168.83,110.69 169.50,109.93 C170.17,109.17 170.83,108.26 171.50,107.41 C172.17,106.56 172.83,105.55 173.50,104.83 C174.17,104.11 174.83,103.55 175.50,103.11 C176.17,102.67 176.83,102.39 177.50,102.21 C178.17,102.03 178.83,102.07 179.50,102.03 C180.17,102.00 180.83,102.12 181.50,102.00 C182.17,101.88 182.83,101.79 183.50,101.31 C184.17,100.83 184.83,100.03 185.50,99.13 C186.17,98.22 186.83,97.02 187.50,95.88 C188.17,94.75 188.83,93.32 189.50,92.29 C190.17,91.26 190.83,90.35 191.50,89.69 C192.17,89.04 192.83,88.47 193.50,88.35 C194.17,88.22 194.83,88.41 195.50,88.96 C196.17,89.50 196.83,90.56 197.50,91.60 C198.17,92.64 198.83,93.91 199.50,95.18 C200.17,96.45 200.83,97.85 201.50,99.22 C202.17,100.58 202.83,101.86 203.50,103.36 C204.17,104.85 204.83,107.09 205.50,108.18 C206.17,109.27 206.83,108.88 207.50,109.90 C208.17,110.93 208.83,113.26 209.50,114.35 C210.17,115.44 210.83,115.66 211.50,116.45 C212.17,117.25 212.83,118.12 213.50,119.11 C214.17,120.11 214.83,121.93 215.50,122.44 C216.17,122.94 216.83,122.41 217.50,122.13 C218.17,121.85 218.83,121.10 219.50,120.75 C220.17,120.41 220.83,120.71 221.50,120.05 C222.17,119.40 222.83,117.77 223.50,116.83 C224.17,115.88 224.83,115.02 225.50,114.39 C226.17,113.76 226.83,113.60 227.50,113.04 C228.17,112.48 228.83,111.39 229.50,111.02 C230.17,110.64 230.83,110.86 231.50,110.77 C232.17,110.69 232.83,110.55 233.50,110.51 C234.17,110.47 234.83,110.47 235.50,110.55 C236.17,110.64 237.17,110.93 237.50,111.01" fill="none" stroke="#dcdcdc" stroke-width="0.50" stroke-opacity="1.00" stroke-linejoin="round" stroke-linecap="round"/>
<path d="M145.50,114.26 C145.83,114.32 146.83,114.49 147.50,114.61 C148.17,114.72 148.83,114.90 149.50,114.97 C150.17,115.04 150.83,115.03 151.50,115.02 C152.17,115.01 152.83,114.94 153.50,114.91 C154.17,114.88 154.83,114.88 155.50,114.83 C156.17,114.79 156.83,114.71 157.50,114.64 C158.17,114.58 158.83,114.43 159.50,114.42 C160.17,114.41 160.83,114.52 161.50,114.58 C162.17,114.64 162.83,114.73 163.50,114.76 C164.17,114.80 164.83,114.84 165.50,114.77 C166.17,114.69 166.83,114.56 167.50,114.29 C168.17,114.01 168.83,113.66 169.50,113.12 C170.17,112.59 170.83,111.80 171.50,111.07 C172.17,110.34 172.83,109.51 173.50,108.74 C174.17,107.97 174.83,107.14 175.50,106.47 C176.17,105.81 176.83,105.32 177.50,104.75 C178.17,104.19 178.83,103.59 179.50,103.11 C180.17,102.63 180.83,102.14 181.50,101.87 C182.17,101.59 182.83,101.49 183.50,101.45 C184.17,101.42 184.83,101.44 185.50,101.65 C186.17,101.87 186.83,102.23 187.50,102.75 C188.17,103.26 188.83,103.84 189.50,104.73 C190.17,105.62 190.83,107.32 191.50,108.10 C192.17,108.87 192.83,108.52 193.50,109.38 C194.17,110.23 194.83,112.25 195.50,113.22 C196.17,114.20 196.83,114.48 197.50,115.22 C198.17,115.95 198.83,116.75 199.50,117.66 C200.17,118.56 200.83,120.17 201.50,120.66 C202.17,121.15 202.83,120.76 203.50,120.59 C204.17,120.41 204.83,119.83 205.50,119.60 C206.17,119.37 206.83,119.69 207.50,119.21 C208.17,118.73 208.83,117.44 209.50,116.71 C210.17,115.98 210.83,115.32 211.50,114.85 C212.17,114.37 212.83,114.30 213.50,113.84 C214.17,113.38 214.83,112.46 215.50,112.09 C216.17,111.71 216.83,111.80 217.50,111.60 C218.17,111.41 218.83,111.10 219.50,110.89 C220.17,110.69 220.83,110.46 221.50,110.36 C222.17,110.27 222.83,110.32 223.50,110.31 C224.17,110.30 224.83,110.21 225.50,110.30 C226.17,110.39 226.83,110.60 227.50,110.84 C228.17,111.08 228.83,111.46 229.50,111.73 C230.17,112.00 230.83,112.28 231.50,112.46 C232.17,112.65 232.83,112.74 233.50,112.82 C234.17,112.91 234.83,112.96 235.50,112.98 C236.17,113.01 237.17,112.97 237.50,112.97" fill="none" stroke="#dcdcdc" stroke-width="0.50" stroke-opacity="1.00" stroke-linejoin="round" stroke-linecap="round"/>
<path d="M145.50,113.48 C145.83,113.70 146.83,114.43 147.50,114.78 C148.17,115.13 148.83,115.38 149.50,115.56 C150.17,115.75 150.83,115.72 151.50,115.90 C152.17,116.08 152.83,116.44 153.50,116.63 C154.17,116.82 154.83,116.98 155.50,117.03 C156.17,117.08 156.83,116.97 157.50,116.92 C158.17,116.86 158.83,116.76 159.50,116.71 C160.17,116.65 160.83,116.69 161.50,116.58 C162.17,116.47 162.83,116.16 163.50,116.06 C164.17,115.96 164.83,115.94 165.50,116.00 C166.17,116.07 166.83,116.35 167.50,116.44 C168.17,116.53 168.83,116.59 169.50,116.54 C170.17,116.50 170.83,116.47 171.50,116.18 C172.17,115.89 172.83,115.50 173.50,114.81 C174.17,114.12 174.83,113.16 175.50,112.06 C176.17,110.95 176.83,109.51 177.50,108.17 C178.17,106.83 178.83,105.34 179.50,104.04 C180.17,102.73 180.83,101.49 181.50,100.35 C182.17,99.22 182.83,98.22 183.50,97.21 C184.17,96.21 184.83,95.14 185.50,94.30 C186.17,93.47 186.83,92.73 187.50,92.20 C188.17,91.67 188.83,91.30 189.50,91.12 C190.17,90.93 190.83,90.95 191.50,91.09 C192.17,91.24 192.83,90.98 193.50,91.98 C194.17,92.98 194.83,95.71 195.50,97.09 C196.17,98.48 196.83,98.96 197.50,100.30 C198.17,101.65 198.83,103.15 199.50,105.18 C200.17,107.21 200.83,110.71 201.50,112.49 C202.17,114.27 202.83,114.10 203.50,115.84 C204.17,117.59 204.83,121.24 205.50,122.97 C206.17,124.71 206.83,125.88 207.50,126.25 C208.17,126.63 208.83,125.61 209.50,125.22 C210.17,124.83 210.83,124.52 211.50,123.92 C212.17,123.31 212.83,122.91 213.50,121.60 C214.17,120.29 214.83,117.31 215.50,116.07 C216.17,114.84 216.83,115.09 217.50,114.19 C218.17,113.29 218.83,111.53 219.50,110.67 C220.17,109.82 220.83,109.38 221.50,109.06 C222.17,108.75 222.83,108.85 223.50,108.80 C224.17,108.75 224.83,108.64 225.50,108.75 C226.17,108.87 226.83,109.24 227.50,109.48 C228.17,109.72 228.83,110.01 229.50,110.20 C230.17,110.39 230.83,110.42 231.50,110.64 C232.17,110.85 232.83,111.21 233.50,111.47 C234.17,111.73 234.83,112.05 235.50,112.20 C236.17,112.35 237.17,112.35 237.50,112.38" fill="none" stroke="#dcdcdc" stroke-width="0.50" stroke-opacity="1.00" stroke-linejoin="round" stroke-linecap="round"/>
<path d="M145.50,114.60 C145.83,114.67 146.83,114.93 147.50,115.04 C148.17,115.15 148.83,115.22 149.50,115.24 C150.17,115.26 150.83,115.19 151.50,115.16 C152.17,115.13 152.83,115.07 153.50,115.04 C154.17,115.00 154.83,115.01 155.50,114.94 C156.17,114.87 156.83,114.67 157.50,114.62 C158.17,114.56 158.83,114.57 159.50,114.63 C160.17,114.68 160.83,114.84 161.50,114.93 C162.17,115.01 162.83,115.08 163.50,115.14 C164.17,115.20 164.83,115.28 165.50,115.31 C166.17,115.33 166.83,115.36 167.50,115.29 C168.17,115.22 168.83,115.09 169.50,114.86 C170.17,114.64 170.83,114.37 171.50,113.95 C172.17,113.53 172.83,113.02 173.50,112.37 C174.17,111.71 174.83,110.94 175.50,110.02 C176.17,109.09 176.83,107.93 177.50,106.83 C178.17,105.72 178.83,104.38 179.50,103.38 C180.17,102.38 180.83,101.45 181.50,100.84 C182.17,100.23 182.83,99.83 183.50,99.70 C184.17,99.57 184.83,99.77 185.50,100.05 C186.17,100.32 186.83,100.47 187.50,101.35 C188.17,102.23 188.83,104.33 189.50,105.35 C190.17,106.37 190.83,106.55 191.50,107.47 C192.17,108.39 192.83,109.67 193.50,110.88 C194.17,112.09 194.83,113.83 195.50,114.74 C196.17,115.65 196.83,115.44 197.50,116.34 C198.17,117.24 198.83,119.32 199.50,120.15 C200.17,120.98 200.83,121.30 201.50,121.33 C202.17,121.37 202.83,120.65 203.50,120.35 C204.17,120.06 204.83,119.96 205.50,119.54 C206.17,119.12 206.83,118.65 207.50,117.84 C208.17,117.03 208.83,115.36 209.50,114.68 C210.17,114.00 210.83,114.25 211.50,113.76 C212.17,113.27 212.83,112.18 213.50,111.72 C214.17,111.26 214.83,111.16 215.50,111.00 C216.17,110.84 216.83,110.84 217.50,110.78 C218.17,110.72 218.83,110.62 219.50,110.65 C220.17,110.68 220.83,110.88 221.50,110.98 C222.17,111.07 222.83,111.16 223.50,111.24 C224.17,111.32 224.83,111.35 225.50,111.46 C226.17,111.58 226.83,111.80 227.50,111.95 C228.17,112.09 228.83,112.27 229.50,112.35 C230.17,112.43 230.83,112.41 231.50,112.43 C232.17,112.44 232.83,112.43 233.50,112.43 C234.17,112.43 234.83,112.43 235.50,112.43 C236.17,112.43 237.17,112.43 237.50,112.43" fill="none" stroke="#dcdcdc" stroke-width="0.50" stroke-opacity="1.00" stroke-linejoin="round" stroke-linecap="round"/>
<path d="M145.50,113.04 C145.83,113.09 146.83,113.10 147.50,113.33 C148.17,113.57 148.83,114.15 149.50,114.46 C150.17,114.77 150.83,115.01 151.50,115.18 C152.17,115.35 152.83,115.31 153.50,115.46 C154.17,115.61 154.83,115.93 155.50,116.10 C156.17,116.27 156.83,116.43 157.50,116.47 C158.17,116.52 158.83,116.43 159.50,116.38 C160.17,116.33 160.83,116.24 161.50,116.19 C162.17,116.15 162.83,116.18 163.50,116.09 C164.17,115.99 164.83,115.72 165.50,115.63 C166.17,115.55 166.83,115.51 167.50,115.56 C168.17,115.61 168.83,115.86 169.50,115.94 C170.17,116.02 170.83,116.07 171.50,116.05 C172.17,116.02 172.83,116.01 173.50,115.77 C174.17,115.53 174.83,115.20 175.50,114.62 C176.17,114.04 176.83,113.23 177.50,112.28 C178.17,111.32 178.83,110.06 179.50,108.90 C180.17,107.73 180.83,106.42 181.50,105.28 C182.17,104.14 182.83,103.03 183.50,102.05 C184.17,101.08 184.83,100.24 185.50,99.41 C186.17,98.58 186.83,97.70 187.50,97.07 C188.17,96.43 188.83,95.90 189.50,95.61 C190.17,95.32 190.83,95.23 191.50,95.32 C192.17,95.41 192.83,95.73 193.50,96.16 C194.17,96.59 194.83,96.75 195.50,97.91 C196.17,99.07 196.83,101.68 197.50,103.10 C198.17,104.52 198.83,105.23 199.50,106.42 C200.17,107.62 200.83,108.65 201.50,110.26 C202.17,111.88 202.83,114.79 203.50,116.12 C204.17,117.45 204.83,116.95 205.50,118.24 C206.17,119.53 206.83,122.47 207.50,123.84 C208.17,125.22 208.83,126.13 209.50,126.50 C210.17,126.87 210.83,126.23 211.50,126.07 C212.17,125.91 212.83,125.80 213.50,125.55 C214.17,125.30 214.83,125.40 215.50,124.59 C216.17,123.78 216.83,121.51 217.50,120.69 C218.17,119.88 218.83,120.36 219.50,119.69 C220.17,119.02 220.83,117.58 221.50,116.67 C222.17,115.75 222.83,114.98 223.50,114.20 C224.17,113.43 224.83,112.82 225.50,112.00 C226.17,111.19 226.83,110.10 227.50,109.32 C228.17,108.55 228.83,107.88 229.50,107.35 C230.17,106.83 230.83,106.41 231.50,106.15 C232.17,105.89 232.83,105.67 233.50,105.79 C234.17,105.91 234.83,106.41 235.50,106.86 C236.17,107.32 237.17,108.26 237.50,108.53" fill="none" stroke="#dcdcdc" stroke-width="0.50" stroke-opacity="1.00" stroke-linejoin="round" stroke-linecap="round"/>
<path d="M145.50,112.71 C145.83,112.71 146.83,112.71 147.50,112.71 C148.17,112.71 148.83,112.71 149.50,112.71 C150.17,112.71 150.83,112.71 151.50,112.71 C152.17,112.72 152.83,112.68 153.50,112.75 C154.17,112.82 154.83,113.00 155.50,113.13 C156.17,113.27 156.83,113.45 157.50,113.54 C158.17,113.63 158.83,113.59 159.50,113.66 C160.17,113.73 160.83,113.85 161.50,113.95 C162.17,114.06 162.83,114.19 163.50,114.27 C164.17,114.34 164.83,114.38 165.50,114.42 C166.17,114.45 166.83,114.47 167.50,114.50 C168.17,114.53 168.83,114.59 169.50,114.58 C170.17,114.58 170.83,114.52 171.50,114.47 C172.17,114.42 172.83,114.33 173.50,114.29 C174.17,114.25 174.83,114.27 175.50,114.24 C176.17,114.20 176.83,114.16 177.50,114.06 C178.17,113.97 178.83,113.88 179.50,113.65 C180.17,113.41 180.83,113.12 181.50,112.63 C182.17,112.15 182.83,111.54 183.50,110.75 C184.17,109.96 184.83,108.90 185.50,107.91 C186.17,106.92 186.83,105.77 187.50,104.82 C188.17,103.88 188.83,102.91 189.50,102.26 C190.17,101.60 190.83,101.19 191.50,100.88 C192.17,100.56 192.83,100.42 193.50,100.35 C194.17,100.28 194.83,100.35 195.50,100.45 C196.17,100.55 196.83,100.78 197.50,100.96 C198.17,101.13 198.83,101.29 199.50,101.51 C200.17,101.73 200.83,101.91 201.50,102.28 C202.17,102.66 202.83,103.21 203.50,103.75 C204.17,104.29 204.83,105.10 205.50,105.54 C206.17,105.98 206.83,105.83 207.50,106.40 C208.17,106.98 208.83,108.33 209.50,108.98 C210.17,109.63 210.83,109.69 211.50,110.30 C212.17,110.90 212.83,111.84 213.50,112.60 C214.17,113.36 214.83,114.42 215.50,114.87 C216.17,115.31 216.83,115.22 217.50,115.28 C218.17,115.34 218.83,115.23 219.50,115.25 C220.17,115.26 220.83,115.58 221.50,115.36 C222.17,115.13 222.83,114.28 223.50,113.91 C224.17,113.55 224.83,113.41 225.50,113.16 C226.17,112.92 226.83,112.70 227.50,112.44 C228.17,112.18 228.83,111.74 229.50,111.59 C230.17,111.44 230.83,111.57 231.50,111.54 C232.17,111.51 232.83,111.44 233.50,111.43 C234.17,111.42 234.83,111.45 235.50,111.50 C236.17,111.55 237.17,111.70 237.50,111.74" fill="none" stroke="#dcdcdc" stroke-width="0.50" stroke-opacity="1.00" stroke-linejoin="round" stroke-linecap="round"/>
<path d="M145.50,112.84 C145.83,112.83 146.83,112.82 147.50,112.79 C148.17,112.77 148.83,112.74 149.50,112.69 C150.17,112.64 150.83,112.54 151.50,112.50 C152.17,112.46 152.83,112.42 153.50,112.46 C154.17,112.50 154.83,112.75 155.50,112.72 C156.17,112.69 156.83,112.50 157.50,112.27 C158.17,112.03 158.83,111.66 159.50,111.32 C160.17,110.97 160.83,110.66 161.50,110.20 C162.17,109.73 162.83,109.15 163.50,108.52 C164.17,107.88 164.83,107.09 165.50,106.39 C166.17,105.69 166.83,104.94 167.50,104.31 C168.17,103.68 168.83,103.12 169.50,102.62 C170.17,102.12 170.83,101.56 171.50,101.32 C172.17,101.08 172.83,101.03 173.50,101.15 C174.17,101.28 174.83,101.68 175.50,102.06 C176.17,102.44 176.83,102.97 177.50,103.46 C178.17,103.94 178.83,104.55 179.50,104.97 C180.17,105.40 180.83,105.84 181.50,106.03 C182.17,106.22 182.83,106.24 183.50,106.13 C184.17,106.03 184.83,105.72 185.50,105.40 C186.17,105.09 186.83,104.62 187.50,104.24 C188.17,103.86 188.83,103.49 189.50,103.10 C190.17,102.72 190.83,102.31 191.50,101.93 C192.17,101.55 192.83,101.09 193.50,100.81 C194.17,100.52 194.83,100.31 195.50,100.23 C196.17,100.15 196.83,100.16 197.50,100.32 C198.17,100.48 198.83,100.82 199.50,101.20 C200.17,101.57 200.83,101.68 201.50,102.55 C202.17,103.42 202.83,105.46 203.50,106.42 C204.17,107.37 204.83,107.41 205.50,108.26 C206.17,109.11 206.83,110.36 207.50,111.51 C208.17,112.67 208.83,114.34 209.50,115.20 C210.17,116.07 210.83,115.82 211.50,116.70 C212.17,117.58 212.83,119.67 213.50,120.48 C214.17,121.29 214.83,121.57 215.50,121.58 C216.17,121.59 216.83,120.85 217.50,120.54 C218.17,120.22 218.83,120.14 219.50,119.70 C220.17,119.26 220.83,118.75 221.50,117.91 C222.17,117.08 222.83,115.39 223.50,114.70 C224.17,114.01 224.83,114.27 225.50,113.77 C226.17,113.27 226.83,112.15 227.50,111.68 C228.17,111.22 228.83,111.12 229.50,110.97 C230.17,110.81 230.83,110.80 231.50,110.74 C232.17,110.68 232.83,110.58 233.50,110.61 C234.17,110.65 234.83,110.85 235.50,110.95 C236.17,111.05 237.17,111.17 237.50,111.21" fill="none" stroke="#dcdcdc" stroke-width="0.50" stroke-opacity="1.00" stroke-linejoin="round" stroke-linecap="round"/>
<path d="M145.50,114.94 C145.83,115.02 146.83,115.33 147.50,115.45 C148.17,115.57 148.83,115.64 149.50,115.65 C150.17,115.67 150.83,115.58 151.50,115.54 C152.17,115.50 152.83,115.44 153.50,115.40 C154.17,115.35 154.83,115.34 155.50,115.25 C156.17,115.16 156.83,114.92 157.50,114.84 C158.17,114.77 158.83,114.78 159.50,114.79 C160.17,114.80 160.83,114.94 161.50,114.91 C162.17,114.89 162.83,114.84 163.50,114.65 C164.17,114.45 164.83,114.22 165.50,113.74 C166.17,113.26 166.83,112.66 167.50,111.77 C168.17,110.88 168.83,109.69 169.50,108.39 C170.17,107.09 170.83,105.51 171.50,103.95 C172.17,102.39 172.83,100.64 173.50,99.03 C174.17,97.43 174.83,95.84 175.50,94.34 C176.17,92.83 176.83,91.30 177.50,90.01 C178.17,88.71 178.83,87.41 179.50,86.55 C180.17,85.69 180.83,85.09 181.50,84.85 C182.17,84.60 182.83,84.68 183.50,85.08 C184.17,85.49 184.83,86.36 185.50,87.29 C186.17,88.22 186.83,89.05 187.50,90.65 C188.17,92.26 188.83,95.32 189.50,96.93 C190.17,98.54 190.83,99.00 191.50,100.32 C192.17,101.64 192.83,103.47 193.50,104.86 C194.17,106.26 194.83,107.88 195.50,108.69 C196.17,109.50 196.83,108.97 197.50,109.71 C198.17,110.44 198.83,112.42 199.50,113.08 C200.17,113.75 200.83,113.74 201.50,113.70 C202.17,113.65 202.83,112.93 203.50,112.80 C204.17,112.68 204.83,113.06 205.50,112.95 C206.17,112.83 206.83,112.63 207.50,112.10 C208.17,111.57 208.83,110.20 209.50,109.76 C210.17,109.32 210.83,109.87 211.50,109.47 C212.17,109.08 212.83,107.86 213.50,107.38 C214.17,106.91 214.83,106.82 215.50,106.64 C216.17,106.47 216.83,106.39 217.50,106.34 C218.17,106.29 218.83,106.22 219.50,106.36 C220.17,106.50 220.83,106.89 221.50,107.17 C222.17,107.46 222.83,107.76 223.50,108.08 C224.17,108.41 224.83,108.72 225.50,109.10 C226.17,109.48 226.83,109.98 227.50,110.36 C228.17,110.74 228.83,111.13 229.50,111.38 C230.17,111.63 230.83,111.74 231.50,111.86 C232.17,111.99 232.83,112.06 233.50,112.13 C234.17,112.20 234.83,112.24 235.50,112.28 C236.17,112.32 237.17,112.34 237.50,112.36" fill="none" stroke="#dcdcdc" stroke-width="0.50" stroke-opacity="1.00" stroke-linejoin="round" stroke-linecap="round"/>
<path d="M145.50,113.87 C145.83,113.94 146.83,114.16 147.50,114.27 C148.17,114.37 148.83,114.38 149.50,114.49 C150.17,114.60 150.83,114.81 151.50,114.91 C152.17,115.02 152.83,115.10 153.50,115.12 C154.17,115.14 154.83,115.08 155.50,115.05 C156.17,115.02 156.83,114.97 157.50,114.95 C158.17,114.92 158.83,114.94 159.50,114.89 C160.17,114.84 160.83,114.67 161.50,114.65 C162.17,114.62 162.83,114.66 163.50,114.75 C164.17,114.83 164.83,115.04 165.50,115.16 C166.17,115.28 166.83,115.40 167.50,115.46 C168.17,115.53 168.83,115.62 169.50,115.57 C170.17,115.53 170.83,115.44 171.50,115.21 C172.17,114.97 172.83,114.58 173.50,114.16 C174.17,113.73 174.83,113.15 175.50,112.63 C176.17,112.12 176.83,111.54 177.50,111.06 C178.17,110.59 178.83,110.18 179.50,109.79 C180.17,109.39 180.83,109.04 181.50,108.67 C182.17,108.30 182.83,107.88 183.50,107.58 C184.17,107.28 184.83,107.03 185.50,106.86 C186.17,106.68 186.83,106.57 187.50,106.56 C188.17,106.54 188.83,106.65 189.50,106.78 C190.17,106.90 190.83,106.74 191.50,107.29 C192.17,107.84 192.83,109.44 193.50,110.07 C194.17,110.71 194.83,110.56 195.50,111.10 C196.17,111.64 196.83,112.44 197.50,113.30 C198.17,114.16 198.83,115.61 199.50,116.25 C200.17,116.89 200.83,116.46 201.50,117.15 C202.17,117.83 202.83,119.66 203.50,120.35 C204.17,121.04 204.83,121.31 205.50,121.29 C206.17,121.26 206.83,120.53 207.50,120.20 C208.17,119.87 208.83,119.73 209.50,119.31 C210.17,118.89 210.83,118.48 211.50,117.70 C212.17,116.92 212.83,115.30 213.50,114.64 C214.17,113.98 214.83,114.22 215.50,113.74 C216.17,113.27 216.83,112.25 217.50,111.80 C218.17,111.36 218.83,111.23 219.50,111.07 C220.17,110.92 220.83,110.92 221.50,110.87 C222.17,110.81 222.83,110.71 223.50,110.74 C224.17,110.76 224.83,110.94 225.50,111.04 C226.17,111.13 226.83,111.22 227.50,111.30 C228.17,111.38 228.83,111.39 229.50,111.51 C230.17,111.62 230.83,111.82 231.50,111.96 C232.17,112.10 232.83,112.27 233.50,112.35 C234.17,112.43 234.83,112.42 235.50,112.43 C236.17,112.44 237.17,112.43 237.50,112.43" fill="none" stroke="#dcdcdc" stroke-width="0.50" stroke-opacity="1.00" stroke-linejoin="round" stroke-linecap="round"/>
<path d="M145.50,107.88 C145.83,107.64 146.83,107.00 147.50,106.44 C148.17,105.87 148.83,105.09 149.50,104.50 C150.17,103.90 150.83,103.29 151.50,102.85 C152.17,102.42 152.83,102.11 153.50,101.90 C154.17,101.70 154.83,101.57 155.50,101.62 C156.17,101.67 156.83,101.85 157.50,102.19 C158.17,102.53 158.83,103.09 159.50,103.68 C160.17,104.28 160.83,105.04 161.50,105.75 C162.17,106.45 162.83,107.16 163.50,107.90 C164.17,108.64 164.83,109.47 165.50,110.17 C166.17,110.86 166.83,111.56 167.50,112.08 C168.17,112.60 168.83,113.02 169.50,113.28 C170.17,113.54 170.83,113.66 171.50,113.62 C172.17,113.59 172.83,113.40 173.50,113.05 C174.17,112.70 174.83,112.10 175.50,111.53 C176.17,110.95 176.83,110.24 177.50,109.58 C178.17,108.91 178.83,108.18 179.50,107.54 C180.17,106.89 180.83,106.36 181.50,105.71 C182.17,105.05 182.83,104.34 183.50,103.63 C184.17,102.91 184.83,102.09 185.50,101.41 C186.17,100.73 186.83,100.05 187.50,99.53 C188.17,99.02 188.83,98.49 189.50,98.33 C190.17,98.18 190.83,98.26 191.50,98.58 C192.17,98.91 192.83,99.31 193.50,100.30 C194.17,101.28 194.83,103.37 195.50,104.50 C196.17,105.62 196.83,105.92 197.50,107.05 C198.17,108.17 198.83,110.05 199.50,111.23 C200.17,112.42 200.83,113.36 201.50,114.17 C202.17,114.98 202.83,115.29 203.50,116.09 C204.17,116.88 204.83,118.43 205.50,118.96 C206.17,119.48 206.83,119.34 207.50,119.23 C208.17,119.12 208.83,118.54 209.50,118.29 C210.17,118.04 210.83,118.16 211.50,117.71 C212.17,117.25 212.83,116.33 213.50,115.56 C214.17,114.79 214.83,113.71 215.50,113.07 C216.17,112.43 216.83,112.35 217.50,111.72 C218.17,111.09 218.83,109.95 219.50,109.31 C220.17,108.67 220.83,108.38 221.50,107.89 C222.17,107.41 222.83,106.87 223.50,106.38 C224.17,105.90 224.83,105.36 225.50,104.97 C226.17,104.58 226.83,104.31 227.50,104.03 C228.17,103.75 228.83,103.43 229.50,103.28 C230.17,103.14 230.83,103.08 231.50,103.16 C232.17,103.24 232.83,103.50 233.50,103.78 C234.17,104.06 234.83,104.46 235.50,104.83 C236.17,105.21 237.17,105.84 237.50,106.04" fill="none" stroke="#dcdcdc" stroke-width="0.50" stroke-opacity="1.00" stroke-linejoin="round" stroke-linecap="round"/>
<path d="M145.50,112.81 C145.83,112.83 146.83,112.78 147.50,112.89 C148.17,113.01 148.83,113.31 149.50,113.49 C150.17,113.67 150.83,113.88 151.50,113.96 C152.17,114.05 152.83,113.95 153.50,113.99 C154.17,114.02 154.83,114.14 155.50,114.16 C156.17,114.18 156.83,114.21 157.50,114.13 C158.17,114.05 158.83,113.86 159.50,113.68 C160.17,113.49 160.83,113.24 161.50,113.03 C162.17,112.81 162.83,112.63 163.50,112.39 C164.17,112.16 164.83,111.83 165.50,111.62 C166.17,111.41 166.83,111.20 167.50,111.14 C168.17,111.07 168.83,111.16 169.50,111.22 C170.17,111.28 170.83,111.38 171.50,111.48 C172.17,111.57 172.83,111.75 173.50,111.81 C174.17,111.87 174.83,111.93 175.50,111.83 C176.17,111.73 176.83,111.55 177.50,111.21 C178.17,110.87 178.83,110.32 179.50,109.79 C180.17,109.26 180.83,108.62 181.50,108.03 C182.17,107.45 182.83,106.80 183.50,106.28 C184.17,105.75 184.83,105.33 185.50,104.87 C186.17,104.40 186.83,103.88 187.50,103.49 C188.17,103.09 188.83,102.70 189.50,102.48 C190.17,102.27 190.83,102.19 191.50,102.19 C192.17,102.20 192.83,102.28 193.50,102.50 C194.17,102.72 194.83,102.90 195.50,103.52 C196.17,104.14 196.83,105.35 197.50,106.23 C198.17,107.10 198.83,108.08 199.50,108.78 C200.17,109.48 200.83,109.54 201.50,110.42 C202.17,111.31 202.83,113.26 203.50,114.07 C204.17,114.89 204.83,114.62 205.50,115.31 C206.17,116.01 206.83,117.41 207.50,118.23 C208.17,119.05 208.83,120.01 209.50,120.25 C210.17,120.49 210.83,119.91 211.50,119.66 C212.17,119.40 212.83,119.00 213.50,118.71 C214.17,118.42 214.83,118.53 215.50,117.93 C216.17,117.33 216.83,115.77 217.50,115.10 C218.17,114.43 218.83,114.35 219.50,113.90 C220.17,113.45 220.83,112.85 221.50,112.40 C222.17,111.95 222.83,111.44 223.50,111.22 C224.17,111.00 224.83,111.14 225.50,111.09 C226.17,111.03 226.83,110.91 227.50,110.91 C228.17,110.90 228.83,110.98 229.50,111.06 C230.17,111.14 230.83,111.31 231.50,111.39 C232.17,111.46 232.83,111.43 233.50,111.51 C234.17,111.59 234.83,111.75 235.50,111.88 C236.17,112.01 237.17,112.22 237.50,112.28" fill="none" stroke="#dcdcdc" stroke-width="0.50" stroke-opacity="1.00" stroke-linejoin="round" stroke-linecap="round"/>
<path d="M145.50,110.39 C145.83,110.16 146.83,109.51 147.50,108.98 C148.17,108.46 148.83,107.84 149.50,107.22 C150.17,106.60 150.83,105.90 151.50,105.25 C152.17,104.60 152.83,103.81 153.50,103.32 C154.17,102.84 154.83,102.51 155.50,102.33 C156.17,102.16 156.83,102.26 157.50,102.29 C158.17,102.31 158.83,102.24 159.50,102.46 C160.17,102.69 160.83,103.12 161.50,103.65 C162.17,104.17 162.83,104.94 163.50,105.60 C164.17,106.25 164.83,106.95 165.50,107.59 C166.17,108.23 166.83,108.85 167.50,109.44 C168.17,110.04 168.83,110.65 169.50,111.15 C170.17,111.64 170.83,112.07 171.50,112.42 C172.17,112.76 172.83,112.92 173.50,113.20 C174.17,113.47 174.83,113.81 175.50,114.07 C176.17,114.34 176.83,114.61 177.50,114.76 C178.17,114.92 178.83,115.05 179.50,115.02 C180.17,114.99 180.83,114.88 181.50,114.59 C182.17,114.30 182.83,113.90 183.50,113.27 C184.17,112.65 184.83,111.72 185.50,110.85 C186.17,109.98 186.83,108.97 187.50,108.04 C188.17,107.12 188.83,106.10 189.50,105.29 C190.17,104.48 190.83,103.87 191.50,103.18 C192.17,102.49 192.83,101.76 193.50,101.18 C194.17,100.59 194.83,100.00 195.50,99.65 C196.17,99.31 196.83,99.16 197.50,99.11 C198.17,99.05 198.83,99.07 199.50,99.32 C200.17,99.57 200.83,100.04 201.50,100.60 C202.17,101.16 202.83,101.64 203.50,102.68 C204.17,103.73 204.83,105.94 205.50,106.89 C206.17,107.84 206.83,107.39 207.50,108.39 C208.17,109.38 208.83,111.65 209.50,112.84 C210.17,114.02 210.83,114.68 211.50,115.51 C212.17,116.34 212.83,116.88 213.50,117.82 C214.17,118.76 214.83,120.72 215.50,121.16 C216.17,121.60 216.83,121.00 217.50,120.47 C218.17,119.95 218.83,118.77 219.50,117.99 C220.17,117.21 220.83,116.96 221.50,115.77 C222.17,114.57 222.83,112.46 223.50,110.84 C224.17,109.22 224.83,107.34 225.50,106.04 C226.17,104.74 226.83,104.12 227.50,103.05 C228.17,101.98 228.83,100.33 229.50,99.64 C230.17,98.94 230.83,98.98 231.50,98.89 C232.17,98.80 232.83,98.86 233.50,99.11 C234.17,99.37 234.83,99.81 235.50,100.41 C236.17,101.00 237.17,102.31 237.50,102.69" fill="none" stroke="#dcdcdc" stroke-width="0.50" stroke-opacity="1.00" stroke-linejoin="round" stroke-linecap="round"/>
<path d="M145.50,114.78 C145.83,114.88 146.83,115.36 147.50,115.42 C148.17,115.49 148.83,115.22 149.50,115.16 C150.17,115.11 150.83,115.25 151.50,115.11 C152.17,114.97 152.83,114.76 153.50,114.33 C154.17,113.90 154.83,113.20 155.50,112.54 C156.17,111.87 156.83,111.07 157.50,110.36 C158.17,109.65 158.83,109.00 159.50,108.25 C160.17,107.50 160.83,106.50 161.50,105.87 C162.17,105.25 162.83,104.73 163.50,104.50 C164.17,104.27 164.83,104.42 165.50,104.49 C166.17,104.56 166.83,104.74 167.50,104.93 C168.17,105.11 168.83,105.49 169.50,105.61 C170.17,105.73 170.83,105.87 171.50,105.65 C172.17,105.44 172.83,105.02 173.50,104.34 C174.17,103.65 174.83,102.56 175.50,101.54 C176.17,100.52 176.83,99.29 177.50,98.22 C178.17,97.15 178.83,96.05 179.50,95.11 C180.17,94.16 180.83,93.36 181.50,92.52 C182.17,91.68 182.83,90.71 183.50,90.06 C184.17,89.41 184.83,88.84 185.50,88.61 C186.17,88.38 186.83,88.42 187.50,88.70 C188.17,88.97 188.83,89.53 189.50,90.26 C190.17,91.00 190.83,91.36 191.50,93.08 C192.17,94.80 192.83,98.50 193.50,100.57 C194.17,102.64 194.83,103.83 195.50,105.51 C196.17,107.18 196.83,108.43 197.50,110.62 C198.17,112.81 198.83,116.90 199.50,118.66 C200.17,120.42 200.83,119.86 201.50,121.17 C202.17,122.47 202.83,125.61 203.50,126.50 C204.17,127.39 204.83,126.50 205.50,126.50 C206.17,126.50 206.83,126.50 207.50,126.50 C208.17,126.50 208.83,126.77 209.50,126.50 C210.17,126.23 210.83,126.32 211.50,124.91 C212.17,123.50 212.83,119.56 213.50,118.04 C214.17,116.51 214.83,116.80 215.50,115.74 C216.17,114.68 216.83,112.71 217.50,111.67 C218.17,110.64 218.83,109.96 219.50,109.54 C220.17,109.11 220.83,109.24 221.50,109.10 C222.17,108.97 222.83,108.70 223.50,108.72 C224.17,108.75 224.83,109.05 225.50,109.24 C226.17,109.44 226.83,109.74 227.50,109.91 C228.17,110.08 228.83,110.05 229.50,110.26 C230.17,110.48 230.83,110.90 231.50,111.21 C232.17,111.51 232.83,111.91 233.50,112.10 C234.17,112.29 234.83,112.31 235.50,112.35 C236.17,112.39 237.17,112.35 237.50,112.35" fill="none" stroke="#dcdcdc" stroke-width="0.50" stroke-opacity="1.00" stroke-linejoin="round" stroke-linecap="round"/>
<path d="M145.50,112.96 C145.83,113.07 146.83,113.43 147.50,113.62 C148.17,113.81 148.83,113.99 149.50,114.09 C150.17,114.19 150.83,114.14 151.50,114.22 C152.17,114.30 152.83,114.48 153.50,114.56 C154.17,114.65 154.83,114.73 155.50,114.74 C156.17,114.74 156.83,114.65 157.50,114.57 C158.17,114.49 158.83,114.38 159.50,114.28 C160.17,114.17 160.83,114.11 161.50,113.97 C162.17,113.82 162.83,113.56 163.50,113.39 C164.17,113.23 164.83,113.06 165.50,112.98 C166.17,112.89 166.83,112.92 167.50,112.87 C168.17,112.82 168.83,112.76 169.50,112.69 C170.17,112.62 170.83,112.58 171.50,112.44 C172.17,112.29 172.83,112.12 173.50,111.83 C174.17,111.53 174.83,111.15 175.50,110.66 C176.17,110.18 176.83,109.52 177.50,108.92 C178.17,108.33 178.83,107.66 179.50,107.07 C180.17,106.49 180.83,105.90 181.50,105.41 C182.17,104.91 182.83,104.53 183.50,104.11 C184.17,103.69 184.83,103.23 185.50,102.90 C186.17,102.56 186.83,102.26 187.50,102.10 C188.17,101.95 188.83,101.92 189.50,101.97 C190.17,102.02 190.83,102.18 191.50,102.42 C192.17,102.67 192.83,102.79 193.50,103.43 C194.17,104.08 194.83,105.49 195.50,106.29 C196.17,107.10 196.83,107.69 197.50,108.27 C198.17,108.85 198.83,109.06 199.50,109.77 C200.17,110.48 200.83,112.07 201.50,112.53 C202.17,112.98 202.83,112.25 203.50,112.50 C204.17,112.76 204.83,113.81 205.50,114.06 C206.17,114.30 206.83,114.39 207.50,113.98 C208.17,113.56 208.83,112.34 209.50,111.58 C210.17,110.82 210.83,110.04 211.50,109.42 C212.17,108.81 212.83,108.57 213.50,107.88 C214.17,107.20 214.83,105.72 215.50,105.30 C216.17,104.89 216.83,105.38 217.50,105.39 C218.17,105.40 218.83,105.24 219.50,105.37 C220.17,105.51 220.83,105.81 221.50,106.20 C222.17,106.59 222.83,107.28 223.50,107.73 C224.17,108.19 224.83,108.53 225.50,108.93 C226.17,109.32 226.83,109.74 227.50,110.09 C228.17,110.43 228.83,110.76 229.50,110.98 C230.17,111.21 230.83,111.27 231.50,111.43 C232.17,111.60 232.83,111.80 233.50,111.96 C234.17,112.12 234.83,112.30 235.50,112.39 C236.17,112.48 237.17,112.48 237.50,112.50" fill="none" stroke="#dcdcdc" stroke-width="0.50" stroke-opacity="1.00" stroke-linejoin="round" stroke-linecap="round"/>
<path d="M145.50,112.97 C145.83,112.97 146.83,112.92 147.50,112.97 C148.17,113.02 148.83,113.06 149.50,113.28 C150.17,113.50 150.83,114.02 151.50,114.29 C152.17,114.55 152.83,114.73 153.50,114.87 C154.17,115.01 154.83,115.00 155.50,115.14 C156.17,115.28 156.83,115.56 157.50,115.71 C158.17,115.85 158.83,115.97 159.50,116.01 C160.17,116.04 160.83,115.96 161.50,115.92 C162.17,115.88 162.83,115.81 163.50,115.77 C164.17,115.73 164.83,115.76 165.50,115.70 C166.17,115.64 166.83,115.42 167.50,115.40 C168.17,115.39 168.83,115.45 169.50,115.62 C170.17,115.80 170.83,116.16 171.50,116.46 C172.17,116.76 172.83,117.09 173.50,117.41 C174.17,117.74 174.83,118.16 175.50,118.41 C176.17,118.66 176.83,118.93 177.50,118.91 C178.17,118.90 178.83,118.73 179.50,118.31 C180.17,117.88 180.83,117.18 181.50,116.37 C182.17,115.55 182.83,114.48 183.50,113.41 C184.17,112.33 184.83,111.11 185.50,109.91 C186.17,108.71 186.83,107.41 187.50,106.18 C188.17,104.95 188.83,103.58 189.50,102.53 C190.17,101.48 190.83,100.53 191.50,99.88 C192.17,99.23 192.83,98.80 193.50,98.63 C194.17,98.45 194.83,98.58 195.50,98.81 C196.17,99.05 196.83,99.08 197.50,100.04 C198.17,100.99 198.83,103.38 199.50,104.57 C200.17,105.75 200.83,106.11 201.50,107.15 C202.17,108.18 202.83,109.35 203.50,110.77 C204.17,112.19 204.83,114.57 205.50,115.67 C206.17,116.78 206.83,116.33 207.50,117.40 C208.17,118.47 208.83,121.01 209.50,122.08 C210.17,123.14 210.83,123.74 211.50,123.80 C212.17,123.85 212.83,122.89 213.50,122.42 C214.17,121.95 214.83,121.60 215.50,120.95 C216.17,120.31 216.83,119.77 217.50,118.57 C218.17,117.37 218.83,114.88 219.50,113.74 C220.17,112.60 220.83,112.61 221.50,111.73 C222.17,110.85 222.83,109.27 223.50,108.47 C224.17,107.68 224.83,107.25 225.50,106.95 C226.17,106.66 226.83,106.69 227.50,106.69 C228.17,106.68 228.83,106.69 229.50,106.91 C230.17,107.12 230.83,107.61 231.50,107.98 C232.17,108.35 232.83,108.79 233.50,109.14 C234.17,109.48 234.83,109.73 235.50,110.06 C236.17,110.40 237.17,110.97 237.50,111.16" fill="none" stroke="#dcdcdc" stroke-width="0.50" stroke-opacity="1.00" stroke-linejoin="round" stroke-linecap="round"/>
<path d="M145.50,112.83 C145.83,112.83 146.83,112.78 147.50,112.83 C148.17,112.87 148.83,112.92 149.50,113.07 C150.17,113.23 150.83,113.60 151.50,113.77 C152.17,113.95 152.83,114.03 153.50,114.11 C154.17,114.20 154.83,114.21 155.50,114.30 C156.17,114.38 156.83,114.56 157.50,114.62 C158.17,114.67 158.83,114.69 159.50,114.61 C160.17,114.52 160.83,114.35 161.50,114.10 C162.17,113.85 162.83,113.54 163.50,113.11 C164.17,112.69 164.83,112.19 165.50,111.55 C166.17,110.91 166.83,110.00 167.50,109.28 C168.17,108.57 168.83,107.79 169.50,107.26 C170.17,106.72 170.83,106.33 171.50,106.07 C172.17,105.82 172.83,105.74 173.50,105.73 C174.17,105.72 174.83,105.94 175.50,106.01 C176.17,106.08 176.83,106.24 177.50,106.16 C178.17,106.08 178.83,105.86 179.50,105.55 C180.17,105.24 180.83,104.74 181.50,104.30 C182.17,103.85 182.83,103.30 183.50,102.89 C184.17,102.48 184.83,102.14 185.50,101.84 C186.17,101.53 186.83,101.29 187.50,101.07 C188.17,100.86 188.83,100.63 189.50,100.53 C190.17,100.44 190.83,100.43 191.50,100.52 C192.17,100.60 192.83,100.76 193.50,101.03 C194.17,101.30 194.83,101.71 195.50,102.13 C196.17,102.54 196.83,102.72 197.50,103.53 C198.17,104.35 198.83,106.15 199.50,107.01 C200.17,107.88 200.83,107.98 201.50,108.73 C202.17,109.49 202.83,110.53 203.50,111.54 C204.17,112.55 204.83,114.03 205.50,114.79 C206.17,115.54 206.83,115.31 207.50,116.07 C208.17,116.82 208.83,118.62 209.50,119.33 C210.17,120.04 210.83,120.31 211.50,120.33 C212.17,120.35 212.83,119.71 213.50,119.44 C214.17,119.17 214.83,119.08 215.50,118.71 C216.17,118.33 216.83,117.93 217.50,117.21 C218.17,116.50 218.83,115.02 219.50,114.42 C220.17,113.82 220.83,114.05 221.50,113.62 C222.17,113.18 222.83,112.23 223.50,111.82 C224.17,111.42 224.83,111.32 225.50,111.18 C226.17,111.04 226.83,111.04 227.50,110.99 C228.17,110.94 228.83,110.84 229.50,110.87 C230.17,110.90 230.83,111.07 231.50,111.16 C232.17,111.24 232.83,111.32 233.50,111.39 C234.17,111.46 234.83,111.48 235.50,111.59 C236.17,111.69 237.17,111.94 237.50,112.01" fill="none" stroke="#dcdcdc" stroke-width="0.50" stroke-opacity="1.00" stroke-linejoin="round" stroke-linecap="round"/>
<path d="M145.50,113.38 C145.83,113.57 146.83,114.23 147.50,114.54 C148.17,114.86 148.83,115.10 149.50,115.26 C150.17,115.43 150.83,115.40 151.50,115.56 C152.17,115.72 152.83,116.05 153.50,116.22 C154.17,116.40 154.83,116.55 155.50,116.60 C156.17,116.64 156.83,116.54 157.50,116.49 C158.17,116.45 158.83,116.36 159.50,116.30 C160.17,116.25 160.83,116.29 161.50,116.19 C162.17,116.09 162.83,115.81 163.50,115.72 C164.17,115.63 164.83,115.61 165.50,115.66 C166.17,115.72 166.83,115.97 167.50,116.05 C168.17,116.13 168.83,116.19 169.50,116.15 C170.17,116.12 170.83,116.10 171.50,115.84 C172.17,115.59 172.83,115.24 173.50,114.63 C174.17,114.02 174.83,113.16 175.50,112.17 C176.17,111.18 176.83,109.88 177.50,108.67 C178.17,107.47 178.83,106.12 179.50,104.95 C180.17,103.78 180.83,102.66 181.50,101.65 C182.17,100.65 182.83,99.78 183.50,98.93 C184.17,98.08 184.83,97.18 185.50,96.54 C186.17,95.89 186.83,95.36 187.50,95.07 C188.17,94.79 188.83,94.70 189.50,94.81 C190.17,94.91 190.83,95.26 191.50,95.71 C192.17,96.16 192.83,96.32 193.50,97.52 C194.17,98.72 194.83,101.46 195.50,102.91 C196.17,104.35 196.83,104.97 197.50,106.19 C198.17,107.40 198.83,108.56 199.50,110.20 C200.17,111.83 200.83,114.72 201.50,116.00 C202.17,117.29 202.83,116.70 203.50,117.88 C204.17,119.06 204.83,121.91 205.50,123.08 C206.17,124.25 206.83,124.95 207.50,124.89 C208.17,124.83 208.83,123.51 209.50,122.72 C210.17,121.94 210.83,121.18 211.50,120.19 C212.17,119.19 212.83,118.39 213.50,116.75 C214.17,115.11 214.83,111.93 215.50,110.36 C216.17,108.79 216.83,108.58 217.50,107.32 C218.17,106.05 218.83,104.06 219.50,102.77 C220.17,101.49 220.83,100.52 221.50,99.63 C222.17,98.73 222.83,98.11 223.50,97.40 C224.17,96.70 224.83,95.82 225.50,95.37 C226.17,94.93 226.83,94.72 227.50,94.74 C228.17,94.76 228.83,95.03 229.50,95.50 C230.17,95.97 230.83,96.62 231.50,97.56 C232.17,98.51 232.83,99.91 233.50,101.16 C234.17,102.40 234.83,103.88 235.50,105.02 C236.17,106.16 237.17,107.51 237.50,108.01" fill="none" stroke="#dcdcdc" stroke-width="0.50" stroke-opacity="1.00" stroke-linejoin="round" stroke-linecap="round"/>
<line x1="191.50" y1="84.00" x2="191.50" y2="127.00" stroke="#999" stroke-width="0.70" stroke-dasharray="2.2 2.3"/>
<line x1="147.50" y1="112.50" x2="238.50" y2="112.50" stroke="#b0b0b0" stroke-width="0.70" stroke-dasharray="2.2 2.3"/>
<path d="M145.50,112.20 C146.42,112.53 149.08,113.67 151.00,114.20 C152.92,114.73 155.17,115.25 157.00,115.40 C158.83,115.55 160.50,115.25 162.00,115.10 C163.50,114.95 164.67,114.52 166.00,114.50 C167.33,114.48 169.00,114.92 170.00,115.00 C171.00,115.08 171.33,115.12 172.00,115.00 C172.67,114.88 173.33,114.70 174.00,114.30 C174.67,113.90 175.33,113.42 176.00,112.60 C176.67,111.78 177.33,110.53 178.00,109.40 C178.67,108.27 179.33,107.00 180.00,105.80 C180.67,104.60 181.33,103.27 182.00,102.20 C182.67,101.13 183.33,100.32 184.00,99.40 C184.67,98.48 185.33,97.48 186.00,96.70 C186.67,95.92 187.33,95.15 188.00,94.70 C188.67,94.25 189.33,94.07 190.00,94.00 C190.67,93.93 191.33,93.97 192.00,94.30 C192.67,94.63 192.87,94.25 194.00,96.00 C195.13,97.75 197.18,101.70 198.80,104.80 C200.42,107.90 202.08,111.57 203.70,114.60 C205.32,117.63 206.90,122.02 208.50,123.00 C210.10,123.98 211.72,122.08 213.30,120.50 C214.88,118.92 216.47,115.35 218.00,113.50 C219.53,111.65 221.02,110.15 222.50,109.40 C223.98,108.65 225.48,108.92 226.90,109.00 C228.32,109.08 229.10,109.47 231.00,109.90 C232.90,110.33 237.08,111.32 238.30,111.60 L238.30,113.20 C237.08,112.95 232.90,112.07 231.00,111.70 C229.10,111.33 228.32,111.02 226.90,111.00 C225.48,110.98 223.98,110.75 222.50,111.60 C221.02,112.45 219.53,114.12 218.00,116.10 C216.47,118.08 214.88,121.82 213.30,123.50 C211.72,125.18 210.10,127.08 208.50,126.20 C206.90,125.32 205.32,121.10 203.70,118.20 C202.08,115.30 200.42,111.73 198.80,108.80 C197.18,105.87 195.13,102.22 194.00,100.60 C192.87,98.98 192.67,99.40 192.00,99.10 C191.33,98.80 190.67,98.77 190.00,98.80 C189.33,98.83 188.67,98.95 188.00,99.30 C187.33,99.65 186.67,100.28 186.00,100.90 C185.33,101.52 184.67,102.28 184.00,103.00 C183.33,103.72 182.67,104.33 182.00,105.20 C181.33,106.07 180.67,107.17 180.00,108.20 C179.33,109.23 178.67,110.40 178.00,111.40 C177.33,112.40 176.67,113.45 176.00,114.20 C175.33,114.95 174.67,115.50 174.00,115.90 C173.33,116.30 172.67,116.48 172.00,116.60 C171.33,116.72 171.00,116.68 170.00,116.60 C169.00,116.52 167.33,116.08 166.00,116.10 C164.67,116.12 163.50,116.55 162.00,116.70 C160.50,116.85 158.83,117.15 157.00,117.00 C155.17,116.85 152.92,116.33 151.00,115.80 C149.08,115.27 146.42,114.13 145.50,113.80 Z" fill="#aaa" fill-opacity="0.35" stroke="none"/>
<path d="M145.50,113.00 C146.42,113.33 149.08,114.47 151.00,115.00 C152.92,115.53 155.17,116.05 157.00,116.20 C158.83,116.35 160.50,116.05 162.00,115.90 C163.50,115.75 164.67,115.32 166.00,115.30 C167.33,115.28 169.00,115.72 170.00,115.80 C171.00,115.88 171.33,115.92 172.00,115.80 C172.67,115.68 173.33,115.50 174.00,115.10 C174.67,114.70 175.33,114.18 176.00,113.40 C176.67,112.62 177.33,111.47 178.00,110.40 C178.67,109.33 179.33,108.12 180.00,107.00 C180.67,105.88 181.33,104.67 182.00,103.70 C182.67,102.73 183.33,102.02 184.00,101.20 C184.67,100.38 185.33,99.50 186.00,98.80 C186.67,98.10 187.33,97.40 188.00,97.00 C188.67,96.60 189.33,96.45 190.00,96.40 C190.67,96.35 191.33,96.38 192.00,96.70 C192.67,97.02 192.87,96.62 194.00,98.30 C195.13,99.98 197.18,103.78 198.80,106.80 C200.42,109.82 202.08,113.43 203.70,116.40 C205.32,119.37 206.90,123.67 208.50,124.60 C210.10,125.53 211.72,123.63 213.30,122.00 C214.88,120.37 216.47,116.72 218.00,114.80 C219.53,112.88 221.02,111.30 222.50,110.50 C223.98,109.70 225.48,109.95 226.90,110.00 C228.32,110.05 229.10,110.40 231.00,110.80 C232.90,111.20 237.08,112.13 238.30,112.40" fill="none" stroke="#1a1a1a" stroke-width="1.25" stroke-opacity="1.00" stroke-linejoin="round" stroke-linecap="round"/>
<text x="191.50" y="144.20" text-anchor="middle" font-size="5.45" fill="#000" stroke="#000" stroke-width="0.02" >Time shift (ms)</text>
<g transform="translate(5.10,106.00) rotate(-90)">
<text x="0.00" y="0.00" text-anchor="middle" font-size="5.45" fill="#000" stroke="#000" stroke-width="0.02" >Cross-</text>
<text x="0.00" y="6.50" text-anchor="middle" font-size="5.45" fill="#000" stroke="#000" stroke-width="0.02" >correlation (<tspan font-style="italic">r</tspan>)</text>
</g>
<rect x="251.30" y="81.20" width="59.90" height="35.30" fill="none" stroke="#888" stroke-width="0.6"/>
<line x1="255.50" y1="88.60" x2="264.60" y2="88.60" stroke="#bbb" stroke-width="0.60" />
<line x1="255.50" y1="108.70" x2="264.60" y2="108.70" stroke="#1a1a1a" stroke-width="1.20" />
<text x="268.00" y="90.60" text-anchor="start" font-size="5.42" fill="#000" stroke="#000" stroke-width="0.02" >Individual</text>
<text x="268.00" y="97.30" text-anchor="start" font-size="5.42" fill="#000" stroke="#000" stroke-width="0.02" >participants</text>
<text x="268.00" y="110.70" text-anchor="start" font-size="5.42" fill="#000" stroke="#000" stroke-width="0.02" >Average</text>
<line x1="28.50" y1="157.00" x2="28.50" y2="201.00" stroke="#777" stroke-width="1.0"/>
<line x1="28.00" y1="200.50" x2="122.00" y2="200.50" stroke="#777" stroke-width="1.0"/>
<line x1="28.50" y1="160.50" x2="30.80" y2="160.50" stroke="#777" stroke-width="0.80" />
<text x="27.00" y="162.45" text-anchor="end" font-size="5.45" fill="#000" stroke="#000" stroke-width="0.02" >100</text>
<line x1="28.50" y1="180.50" x2="30.80" y2="180.50" stroke="#777" stroke-width="0.80" />
<text x="27.00" y="182.45" text-anchor="end" font-size="5.45" fill="#000" stroke="#000" stroke-width="0.02" >50</text>
<line x1="28.50" y1="200.50" x2="30.80" y2="200.50" stroke="#777" stroke-width="0.80" />
<text x="27.00" y="202.45" text-anchor="end" font-size="5.45" fill="#000" stroke="#000" stroke-width="0.02" >0</text>
<line x1="34.50" y1="200.50" x2="34.50" y2="198.20" stroke="#777" stroke-width="0.80" />
<text x="34.50" y="207.40" text-anchor="middle" font-size="5.45" fill="#000" stroke="#000" stroke-width="0.02" >200</text>
<line x1="57.50" y1="200.50" x2="57.50" y2="198.20" stroke="#777" stroke-width="0.80" />
<text x="57.50" y="207.40" text-anchor="middle" font-size="5.45" fill="#000" stroke="#000" stroke-width="0.02" >400</text>
<line x1="80.50" y1="200.50" x2="80.50" y2="198.20" stroke="#777" stroke-width="0.80" />
<text x="80.50" y="207.40" text-anchor="middle" font-size="5.45" fill="#000" stroke="#000" stroke-width="0.02" >600</text>
<line x1="104.50" y1="200.50" x2="104.50" y2="198.20" stroke="#777" stroke-width="0.80" />
<text x="104.50" y="207.40" text-anchor="middle" font-size="5.45" fill="#000" stroke="#000" stroke-width="0.02" >800</text>
<line x1="84.00" y1="161.00" x2="84.00" y2="200.00" stroke="#808080" stroke-width="0.75" stroke-dasharray="2.5 1.9"/>
<line x1="40.00" y1="196.50" x2="54.80" y2="196.50" stroke="#F596C8" stroke-width="1.0" stroke-opacity="1.00"/>
<line x1="40.00" y1="195.70" x2="40.00" y2="197.30" stroke="#F596C8" stroke-width="0.45"/>
<line x1="54.80" y1="195.70" x2="54.80" y2="197.30" stroke="#F596C8" stroke-width="0.45"/>
<line x1="35.20" y1="196.50" x2="47.00" y2="196.50" stroke="#92DAF7" stroke-width="1.0" stroke-opacity="1.00"/>
<line x1="35.20" y1="195.70" x2="35.20" y2="197.30" stroke="#92DAF7" stroke-width="0.45"/>
<line x1="47.00" y1="195.70" x2="47.00" y2="197.30" stroke="#92DAF7" stroke-width="0.45"/>
<circle cx="46.10" cy="196.50" r="1.00" fill="#9A55B8" fill-opacity="1.00"/>
<circle cx="41.50" cy="196.50" r="1.05" fill="#00AEEF" fill-opacity="1.00"/>
<line x1="44.00" y1="192.50" x2="58.00" y2="192.50" stroke="#F596C8" stroke-width="1.0" stroke-opacity="1.00"/>
<line x1="44.00" y1="191.70" x2="44.00" y2="193.30" stroke="#F596C8" stroke-width="0.45"/>
<line x1="58.00" y1="191.70" x2="58.00" y2="193.30" stroke="#F596C8" stroke-width="0.45"/>
<line x1="37.80" y1="192.50" x2="49.30" y2="192.50" stroke="#92DAF7" stroke-width="1.0" stroke-opacity="1.00"/>
<line x1="37.80" y1="191.70" x2="37.80" y2="193.30" stroke="#92DAF7" stroke-width="0.45"/>
<line x1="49.30" y1="191.70" x2="49.30" y2="193.30" stroke="#92DAF7" stroke-width="0.45"/>
<circle cx="50.50" cy="192.50" r="1.05" fill="#EC008C" fill-opacity="1.00"/>
<circle cx="43.50" cy="192.50" r="1.05" fill="#00AEEF" fill-opacity="1.00"/>
<line x1="47.00" y1="188.50" x2="60.80" y2="188.50" stroke="#F596C8" stroke-width="1.0" stroke-opacity="1.00"/>
<line x1="47.00" y1="187.70" x2="47.00" y2="189.30" stroke="#F596C8" stroke-width="0.45"/>
<line x1="60.80" y1="187.70" x2="60.80" y2="189.30" stroke="#F596C8" stroke-width="0.45"/>
<line x1="38.30" y1="188.50" x2="52.80" y2="188.50" stroke="#92DAF7" stroke-width="1.0" stroke-opacity="1.00"/>
<line x1="38.30" y1="187.70" x2="38.30" y2="189.30" stroke="#92DAF7" stroke-width="0.45"/>
<line x1="52.80" y1="187.70" x2="52.80" y2="189.30" stroke="#92DAF7" stroke-width="0.45"/>
<circle cx="53.90" cy="188.50" r="1.05" fill="#EC008C" fill-opacity="1.00"/>
<circle cx="45.80" cy="188.50" r="1.05" fill="#00AEEF" fill-opacity="1.00"/>
<line x1="49.00" y1="184.50" x2="62.20" y2="184.50" stroke="#F596C8" stroke-width="1.0" stroke-opacity="1.00"/>
<line x1="49.00" y1="183.70" x2="49.00" y2="185.30" stroke="#F596C8" stroke-width="0.45"/>
<line x1="62.20" y1="183.70" x2="62.20" y2="185.30" stroke="#F596C8" stroke-width="0.45"/>
<line x1="44.10" y1="184.50" x2="54.40" y2="184.50" stroke="#92DAF7" stroke-width="1.0" stroke-opacity="1.00"/>
<line x1="44.10" y1="183.70" x2="44.10" y2="185.30" stroke="#92DAF7" stroke-width="0.45"/>
<line x1="54.40" y1="183.70" x2="54.40" y2="185.30" stroke="#92DAF7" stroke-width="0.45"/>
<circle cx="56.00" cy="184.50" r="1.05" fill="#EC008C" fill-opacity="1.00"/>
<circle cx="49.20" cy="184.50" r="1.05" fill="#00AEEF" fill-opacity="1.00"/>
<line x1="50.00" y1="180.50" x2="65.80" y2="180.50" stroke="#F596C8" stroke-width="1.0" stroke-opacity="1.00"/>
<line x1="50.00" y1="179.70" x2="50.00" y2="181.30" stroke="#F596C8" stroke-width="0.45"/>
<line x1="65.80" y1="179.70" x2="65.80" y2="181.30" stroke="#F596C8" stroke-width="0.45"/>
<line x1="46.30" y1="180.50" x2="56.80" y2="180.50" stroke="#92DAF7" stroke-width="1.0" stroke-opacity="1.00"/>
<line x1="46.30" y1="179.70" x2="46.30" y2="181.30" stroke="#92DAF7" stroke-width="0.45"/>
<line x1="56.80" y1="179.70" x2="56.80" y2="181.30" stroke="#92DAF7" stroke-width="0.45"/>
<circle cx="58.40" cy="180.50" r="1.05" fill="#EC008C" fill-opacity="1.00"/>
<circle cx="51.30" cy="180.50" r="1.05" fill="#00AEEF" fill-opacity="1.00"/>
<line x1="52.00" y1="176.50" x2="68.80" y2="176.50" stroke="#F596C8" stroke-width="1.0" stroke-opacity="1.00"/>
<line x1="52.00" y1="175.70" x2="52.00" y2="177.30" stroke="#F596C8" stroke-width="0.45"/>
<line x1="68.80" y1="175.70" x2="68.80" y2="177.30" stroke="#F596C8" stroke-width="0.45"/>
<line x1="48.10" y1="176.50" x2="59.40" y2="176.50" stroke="#92DAF7" stroke-width="1.0" stroke-opacity="1.00"/>
<line x1="48.10" y1="175.70" x2="48.10" y2="177.30" stroke="#92DAF7" stroke-width="0.45"/>
<line x1="59.40" y1="175.70" x2="59.40" y2="177.30" stroke="#92DAF7" stroke-width="0.45"/>
<circle cx="60.70" cy="176.50" r="1.05" fill="#EC008C" fill-opacity="1.00"/>
<circle cx="53.80" cy="176.50" r="1.05" fill="#00AEEF" fill-opacity="1.00"/>
<line x1="52.00" y1="172.50" x2="71.40" y2="172.50" stroke="#F596C8" stroke-width="1.0" stroke-opacity="1.00"/>
<line x1="52.00" y1="171.70" x2="52.00" y2="173.30" stroke="#F596C8" stroke-width="0.45"/>
<line x1="71.40" y1="171.70" x2="71.40" y2="173.30" stroke="#F596C8" stroke-width="0.45"/>
<line x1="47.10" y1="172.50" x2="68.10" y2="172.50" stroke="#92DAF7" stroke-width="1.0" stroke-opacity="1.00"/>
<line x1="47.10" y1="171.70" x2="47.10" y2="173.30" stroke="#92DAF7" stroke-width="0.45"/>
<line x1="68.10" y1="171.70" x2="68.10" y2="173.30" stroke="#92DAF7" stroke-width="0.45"/>
<circle cx="63.10" cy="172.50" r="1.00" fill="#9A55B8" fill-opacity="1.00"/>
<circle cx="57.30" cy="172.50" r="1.05" fill="#00AEEF" fill-opacity="1.00"/>
<line x1="50.40" y1="168.50" x2="81.90" y2="168.50" stroke="#F596C8" stroke-width="1.0" stroke-opacity="1.00"/>
<line x1="50.40" y1="167.70" x2="50.40" y2="169.30" stroke="#F596C8" stroke-width="0.45"/>
<line x1="81.90" y1="167.70" x2="81.90" y2="169.30" stroke="#F596C8" stroke-width="0.45"/>
<line x1="45.80" y1="168.50" x2="78.70" y2="168.50" stroke="#92DAF7" stroke-width="1.0" stroke-opacity="1.00"/>
<line x1="45.80" y1="167.70" x2="45.80" y2="169.30" stroke="#92DAF7" stroke-width="0.45"/>
<line x1="78.70" y1="167.70" x2="78.70" y2="169.30" stroke="#92DAF7" stroke-width="0.45"/>
<circle cx="65.80" cy="168.50" r="1.00" fill="#9A55B8" fill-opacity="1.00"/>
<circle cx="62.30" cy="168.50" r="1.05" fill="#00AEEF" fill-opacity="1.00"/>
<line x1="51.60" y1="164.50" x2="98.90" y2="164.50" stroke="#F596C8" stroke-width="1.0" stroke-opacity="1.00"/>
<line x1="51.60" y1="163.70" x2="51.60" y2="165.30" stroke="#F596C8" stroke-width="0.45"/>
<line x1="98.90" y1="163.70" x2="98.90" y2="165.30" stroke="#F596C8" stroke-width="0.45"/>
<line x1="42.00" y1="164.50" x2="91.60" y2="164.50" stroke="#92DAF7" stroke-width="1.0" stroke-opacity="1.00"/>
<line x1="42.00" y1="163.70" x2="42.00" y2="165.30" stroke="#92DAF7" stroke-width="0.45"/>
<line x1="91.60" y1="163.70" x2="91.60" y2="165.30" stroke="#92DAF7" stroke-width="0.45"/>
<circle cx="74.70" cy="164.50" r="1.00" fill="#9A55B8" fill-opacity="1.00"/>
<circle cx="66.60" cy="164.50" r="1.05" fill="#00AEEF" fill-opacity="1.00"/>
<circle cx="76.30" cy="160.50" r="1.05" fill="#00AEEF" fill-opacity="1.00"/>
<circle cx="84.00" cy="160.50" r="1.05" fill="#EC008C" fill-opacity="1.00"/>
<circle cx="84.10" cy="195.80" r="1.0" fill="#FCC" stroke="#F0282D" stroke-width="0.9"/>
<circle cx="88.70" cy="192.00" r="1.0" fill="#FCC" stroke="#F0282D" stroke-width="0.9"/>
<circle cx="92.20" cy="188.10" r="1.0" fill="#FCC" stroke="#F0282D" stroke-width="0.9"/>
<circle cx="94.90" cy="184.40" r="1.0" fill="#FCC" stroke="#F0282D" stroke-width="0.9"/>
<circle cx="97.00" cy="180.20" r="1.0" fill="#FCC" stroke="#F0282D" stroke-width="0.9"/>
<circle cx="99.10" cy="176.50" r="1.0" fill="#FCC" stroke="#F0282D" stroke-width="0.9"/>
<circle cx="101.60" cy="172.30" r="1.0" fill="#FCC" stroke="#F0282D" stroke-width="0.9"/>
<circle cx="104.30" cy="168.30" r="1.0" fill="#FCC" stroke="#F0282D" stroke-width="0.9"/>
<circle cx="113.00" cy="164.60" r="1.0" fill="#FCC" stroke="#F0282D" stroke-width="0.9"/>
<text x="75.00" y="215.80" text-anchor="middle" font-size="5.45" fill="#000" stroke="#000" stroke-width="0.02" >Time after probe (ms)</text>
<line x1="145.50" y1="157.00" x2="145.50" y2="201.00" stroke="#777" stroke-width="1.0"/>
<line x1="145.00" y1="200.50" x2="239.00" y2="200.50" stroke="#777" stroke-width="1.0"/>
<line x1="145.50" y1="160.50" x2="147.80" y2="160.50" stroke="#777" stroke-width="0.80" />
<text x="144.00" y="162.45" text-anchor="end" font-size="5.45" fill="#000" stroke="#000" stroke-width="0.02" >100</text>
<line x1="145.50" y1="180.50" x2="147.80" y2="180.50" stroke="#777" stroke-width="0.80" />
<text x="144.00" y="182.45" text-anchor="end" font-size="5.45" fill="#000" stroke="#000" stroke-width="0.02" >50</text>
<line x1="145.50" y1="200.50" x2="147.80" y2="200.50" stroke="#777" stroke-width="0.80" />
<text x="144.00" y="202.45" text-anchor="end" font-size="5.45" fill="#000" stroke="#000" stroke-width="0.02" >0</text>
<line x1="153.50" y1="200.50" x2="153.50" y2="198.20" stroke="#777" stroke-width="0.80" />
<text x="153.50" y="207.40" text-anchor="middle" font-size="5.45" fill="#000" stroke="#000" stroke-width="0.02" >200</text>
<line x1="187.50" y1="200.50" x2="187.50" y2="198.20" stroke="#777" stroke-width="0.80" />
<text x="187.50" y="207.40" text-anchor="middle" font-size="5.45" fill="#000" stroke="#000" stroke-width="0.02" >400</text>
<line x1="221.50" y1="200.50" x2="221.50" y2="198.20" stroke="#777" stroke-width="0.80" />
<text x="221.50" y="207.40" text-anchor="middle" font-size="5.45" fill="#000" stroke="#000" stroke-width="0.02" >600</text>
<line x1="196.30" y1="161.00" x2="196.30" y2="200.00" stroke="#808080" stroke-width="0.75" stroke-dasharray="2.5 1.9"/>
<line x1="155.20" y1="196.50" x2="165.00" y2="196.50" stroke="#F596C8" stroke-width="1.0" stroke-opacity="1.00"/>
<line x1="155.20" y1="195.70" x2="155.20" y2="197.30" stroke="#F596C8" stroke-width="0.45"/>
<line x1="165.00" y1="195.70" x2="165.00" y2="197.30" stroke="#F596C8" stroke-width="0.45"/>
<line x1="158.50" y1="196.50" x2="165.60" y2="196.50" stroke="#92DAF7" stroke-width="1.0" stroke-opacity="1.00"/>
<line x1="158.50" y1="195.70" x2="158.50" y2="197.30" stroke="#92DAF7" stroke-width="0.45"/>
<line x1="165.60" y1="195.70" x2="165.60" y2="197.30" stroke="#92DAF7" stroke-width="0.45"/>
<circle cx="159.00" cy="196.50" r="1.00" fill="#9A55B8" fill-opacity="1.00"/>
<circle cx="162.50" cy="196.50" r="1.05" fill="#00AEEF" fill-opacity="1.00"/>
<line x1="158.70" y1="192.50" x2="169.00" y2="192.50" stroke="#F596C8" stroke-width="1.0" stroke-opacity="1.00"/>
<line x1="158.70" y1="191.70" x2="158.70" y2="193.30" stroke="#F596C8" stroke-width="0.45"/>
<line x1="169.00" y1="191.70" x2="169.00" y2="193.30" stroke="#F596C8" stroke-width="0.45"/>
<line x1="162.00" y1="192.50" x2="169.60" y2="192.50" stroke="#92DAF7" stroke-width="1.0" stroke-opacity="1.00"/>
<line x1="162.00" y1="191.70" x2="162.00" y2="193.30" stroke="#92DAF7" stroke-width="0.45"/>
<line x1="169.60" y1="191.70" x2="169.60" y2="193.30" stroke="#92DAF7" stroke-width="0.45"/>
<circle cx="163.60" cy="192.50" r="1.00" fill="#9A55B8" fill-opacity="1.00"/>
<circle cx="167.30" cy="192.50" r="1.05" fill="#00AEEF" fill-opacity="1.00"/>
<line x1="161.00" y1="188.50" x2="174.00" y2="188.50" stroke="#F596C8" stroke-width="1.0" stroke-opacity="1.00"/>
<line x1="161.00" y1="187.70" x2="161.00" y2="189.30" stroke="#F596C8" stroke-width="0.45"/>
<line x1="174.00" y1="187.70" x2="174.00" y2="189.30" stroke="#F596C8" stroke-width="0.45"/>
<line x1="165.00" y1="188.50" x2="174.20" y2="188.50" stroke="#92DAF7" stroke-width="1.0" stroke-opacity="1.00"/>
<line x1="165.00" y1="187.70" x2="165.00" y2="189.30" stroke="#92DAF7" stroke-width="0.45"/>
<line x1="174.20" y1="187.70" x2="174.20" y2="189.30" stroke="#92DAF7" stroke-width="0.45"/>
<circle cx="167.30" cy="188.50" r="1.00" fill="#9A55B8" fill-opacity="1.00"/>
<circle cx="170.50" cy="188.50" r="1.05" fill="#00AEEF" fill-opacity="1.00"/>
<line x1="164.80" y1="184.50" x2="177.50" y2="184.50" stroke="#F596C8" stroke-width="1.0" stroke-opacity="1.00"/>
<line x1="164.80" y1="183.70" x2="164.80" y2="185.30" stroke="#F596C8" stroke-width="0.45"/>
<line x1="177.50" y1="183.70" x2="177.50" y2="185.30" stroke="#F596C8" stroke-width="0.45"/>
<line x1="169.00" y1="184.50" x2="177.70" y2="184.50" stroke="#92DAF7" stroke-width="1.0" stroke-opacity="1.00"/>
<line x1="169.00" y1="183.70" x2="169.00" y2="185.30" stroke="#92DAF7" stroke-width="0.45"/>
<line x1="177.70" y1="183.70" x2="177.70" y2="185.30" stroke="#92DAF7" stroke-width="0.45"/>
<circle cx="171.30" cy="184.50" r="1.00" fill="#9A55B8" fill-opacity="1.00"/>
<circle cx="173.60" cy="184.50" r="1.05" fill="#00AEEF" fill-opacity="1.00"/>
<line x1="167.90" y1="180.50" x2="184.00" y2="180.50" stroke="#F596C8" stroke-width="1.0" stroke-opacity="1.00"/>
<line x1="167.90" y1="179.70" x2="167.90" y2="181.30" stroke="#F596C8" stroke-width="0.45"/>
<line x1="184.00" y1="179.70" x2="184.00" y2="181.30" stroke="#F596C8" stroke-width="0.45"/>
<line x1="170.80" y1="180.50" x2="184.00" y2="180.50" stroke="#92DAF7" stroke-width="1.0" stroke-opacity="1.00"/>
<line x1="170.80" y1="179.70" x2="170.80" y2="181.30" stroke="#92DAF7" stroke-width="0.45"/>
<line x1="184.00" y1="179.70" x2="184.00" y2="181.30" stroke="#92DAF7" stroke-width="0.45"/>
<circle cx="176.30" cy="180.50" r="1.00" fill="#9A55B8" fill-opacity="1.00"/>
<circle cx="176.30" cy="180.50" r="1.05" fill="#00AEEF" fill-opacity="1.00"/>
<line x1="173.30" y1="176.50" x2="188.60" y2="176.50" stroke="#F596C8" stroke-width="1.0" stroke-opacity="1.00"/>
<line x1="173.30" y1="175.70" x2="173.30" y2="177.30" stroke="#F596C8" stroke-width="0.45"/>
<line x1="188.60" y1="175.70" x2="188.60" y2="177.30" stroke="#F596C8" stroke-width="0.45"/>
<line x1="172.90" y1="176.50" x2="188.60" y2="176.50" stroke="#92DAF7" stroke-width="1.0" stroke-opacity="1.00"/>
<line x1="172.90" y1="175.70" x2="172.90" y2="177.30" stroke="#92DAF7" stroke-width="0.45"/>
<line x1="188.60" y1="175.70" x2="188.60" y2="177.30" stroke="#92DAF7" stroke-width="0.45"/>
<circle cx="180.50" cy="176.50" r="1.00" fill="#9A55B8" fill-opacity="1.00"/>
<circle cx="180.50" cy="176.50" r="1.05" fill="#00AEEF" fill-opacity="1.00"/>
<line x1="177.40" y1="172.50" x2="190.90" y2="172.50" stroke="#F596C8" stroke-width="1.0" stroke-opacity="1.00"/>
<line x1="177.40" y1="171.70" x2="177.40" y2="173.30" stroke="#F596C8" stroke-width="0.45"/>
<line x1="190.90" y1="171.70" x2="190.90" y2="173.30" stroke="#F596C8" stroke-width="0.45"/>
<line x1="177.40" y1="172.50" x2="190.90" y2="172.50" stroke="#92DAF7" stroke-width="1.0" stroke-opacity="1.00"/>
<line x1="177.40" y1="171.70" x2="177.40" y2="173.30" stroke="#92DAF7" stroke-width="0.45"/>
<line x1="190.90" y1="171.70" x2="190.90" y2="173.30" stroke="#92DAF7" stroke-width="0.45"/>
<circle cx="184.10" cy="172.50" r="1.00" fill="#9A55B8" fill-opacity="1.00"/>
<circle cx="184.10" cy="172.50" r="1.05" fill="#00AEEF" fill-opacity="1.00"/>
<line x1="180.50" y1="168.50" x2="192.90" y2="168.50" stroke="#F596C8" stroke-width="1.0" stroke-opacity="1.00"/>
<line x1="180.50" y1="167.70" x2="180.50" y2="169.30" stroke="#F596C8" stroke-width="0.45"/>
<line x1="192.90" y1="167.70" x2="192.90" y2="169.30" stroke="#F596C8" stroke-width="0.45"/>
<line x1="180.10" y1="168.50" x2="193.50" y2="168.50" stroke="#92DAF7" stroke-width="1.0" stroke-opacity="1.00"/>
<line x1="180.10" y1="167.70" x2="180.10" y2="169.30" stroke="#92DAF7" stroke-width="0.45"/>
<line x1="193.50" y1="167.70" x2="193.50" y2="169.30" stroke="#92DAF7" stroke-width="0.45"/>
<circle cx="186.80" cy="168.50" r="1.00" fill="#9A55B8" fill-opacity="1.00"/>
<circle cx="186.80" cy="168.50" r="1.05" fill="#00AEEF" fill-opacity="1.00"/>
<line x1="180.50" y1="164.50" x2="196.00" y2="164.50" stroke="#F596C8" stroke-width="1.0" stroke-opacity="1.00"/>
<line x1="180.50" y1="163.70" x2="180.50" y2="165.30" stroke="#F596C8" stroke-width="0.45"/>
<line x1="196.00" y1="163.70" x2="196.00" y2="165.30" stroke="#F596C8" stroke-width="0.45"/>
<line x1="177.80" y1="164.50" x2="202.90" y2="164.50" stroke="#92DAF7" stroke-width="1.0" stroke-opacity="1.00"/>
<line x1="177.80" y1="163.70" x2="177.80" y2="165.30" stroke="#92DAF7" stroke-width="0.45"/>
<line x1="202.90" y1="163.70" x2="202.90" y2="165.30" stroke="#92DAF7" stroke-width="0.45"/>
<circle cx="189.50" cy="164.50" r="1.00" fill="#9A55B8" fill-opacity="1.00"/>
<circle cx="190.40" cy="164.50" r="1.05" fill="#00AEEF" fill-opacity="1.00"/>
<circle cx="196.30" cy="160.50" r="1.05" fill="#EC008C" fill-opacity="1.00"/>
<circle cx="201.10" cy="160.50" r="1.05" fill="#00AEEF" fill-opacity="1.00"/>
<circle cx="196.10" cy="195.60" r="1.0" fill="#FCC" stroke="#F0282D" stroke-width="0.9"/>
<circle cx="200.90" cy="191.80" r="1.0" fill="#FCC" stroke="#F0282D" stroke-width="0.9"/>
<circle cx="204.60" cy="188.20" r="1.0" fill="#FCC" stroke="#F0282D" stroke-width="0.9"/>
<circle cx="208.70" cy="184.10" r="1.0" fill="#FCC" stroke="#F0282D" stroke-width="0.9"/>
<circle cx="213.60" cy="180.30" r="1.0" fill="#FCC" stroke="#F0282D" stroke-width="0.9"/>
<circle cx="218.00" cy="176.40" r="1.0" fill="#FCC" stroke="#F0282D" stroke-width="0.9"/>
<circle cx="221.10" cy="172.40" r="1.0" fill="#FCC" stroke="#F0282D" stroke-width="0.9"/>
<circle cx="224.00" cy="168.60" r="1.0" fill="#FCC" stroke="#F0282D" stroke-width="0.9"/>
<circle cx="227.00" cy="164.80" r="1.0" fill="#FCC" stroke="#F0282D" stroke-width="0.9"/>
<text x="192.00" y="215.80" text-anchor="middle" font-size="5.45" fill="#000" stroke="#000" stroke-width="0.02" >Time after probe (ms)</text>
<g transform="translate(4.70,178.50) rotate(-90)">
<text x="0.00" y="0.00" text-anchor="middle" font-size="5.45" fill="#000" stroke="#000" stroke-width="0.02" >Percentage</text>
<text x="0.00" y="7.20" text-anchor="middle" font-size="5.45" fill="#000" stroke="#000" stroke-width="0.02" >of peak</text>
</g>
<rect x="251.40" y="150.60" width="59.80" height="58.30" fill="none" stroke="#888" stroke-width="0.6"/>
<line x1="255.20" y1="157.20" x2="263.80" y2="157.20" stroke="#222" stroke-width="0.90" />
<line x1="255.20" y1="155.20" x2="255.20" y2="159.20" stroke="#222" stroke-width="0.90" />
<line x1="263.80" y1="155.20" x2="263.80" y2="159.20" stroke="#222" stroke-width="0.90" />
<text x="267.60" y="159.70" text-anchor="start" font-size="5.42" fill="#000" stroke="#000" stroke-width="0.02" >95% temporal</text>
<text x="267.60" y="166.20" text-anchor="start" font-size="5.42" fill="#000" stroke="#000" stroke-width="0.02" >confidence</text>
<text x="267.60" y="172.50" text-anchor="start" font-size="5.42" fill="#000" stroke="#000" stroke-width="0.02" >interval</text>
<circle cx="259.6" cy="187.1" r="1.2" fill="#FBB" stroke="#F0282D" stroke-width="1.1"/>
<text x="267.60" y="188.60" text-anchor="start" font-size="5.42" fill="#000" stroke="#000" stroke-width="0.02" >Predicted motor</text>
<text x="267.60" y="195.30" text-anchor="start" font-size="5.42" fill="#000" stroke="#000" stroke-width="0.02" >timing under</text>
<text x="267.60" y="201.60" text-anchor="start" font-size="5.42" fill="#000" stroke="#000" stroke-width="0.02" >serial model</text>
<line x1="28.50" y1="229.00" x2="28.50" y2="273.00" stroke="#b8b8b8" stroke-width="1.0"/>
<line x1="28.00" y1="272.50" x2="122.00" y2="272.50" stroke="#808080" stroke-width="1.0"/>
<line x1="28.50" y1="229.50" x2="30.80" y2="229.50" stroke="#b8b8b8" stroke-width="0.80" />
<text x="27.00" y="231.45" text-anchor="end" font-size="5.45" fill="#000" stroke="#000" stroke-width="0.02" >100</text>
<line x1="28.50" y1="250.50" x2="30.80" y2="250.50" stroke="#b8b8b8" stroke-width="0.80" />
<text x="27.00" y="252.45" text-anchor="end" font-size="5.45" fill="#000" stroke="#000" stroke-width="0.02" >50</text>
<line x1="28.50" y1="272.50" x2="30.80" y2="272.50" stroke="#b8b8b8" stroke-width="0.80" />
<text x="27.00" y="274.45" text-anchor="end" font-size="5.45" fill="#000" stroke="#000" stroke-width="0.02" >0</text>
<line x1="28.50" y1="272.50" x2="28.50" y2="270.20" stroke="#808080" stroke-width="0.80" />
<text x="28.50" y="279.40" text-anchor="middle" font-size="5.45" fill="#000" stroke="#000" stroke-width="0.02" >−20</text>
<line x1="66.50" y1="272.50" x2="66.50" y2="270.20" stroke="#808080" stroke-width="0.80" />
<text x="66.50" y="279.40" text-anchor="middle" font-size="5.45" fill="#000" stroke="#000" stroke-width="0.02" >−10</text>
<line x1="103.50" y1="272.50" x2="103.50" y2="270.20" stroke="#808080" stroke-width="0.80" />
<text x="103.50" y="279.40" text-anchor="middle" font-size="5.45" fill="#000" stroke="#000" stroke-width="0.02" >0</text>
<line x1="95.50" y1="229.00" x2="95.50" y2="272.00" stroke="#999" stroke-width="0.60" stroke-dasharray="2.2 2.0"/>
<line x1="111.50" y1="229.00" x2="111.50" y2="272.00" stroke="#999" stroke-width="0.60" stroke-dasharray="2.2 2.0"/>
<circle cx="72.40" cy="268.20" r="1.0" fill="#FCC" stroke="#F0282D" stroke-width="0.9"/>
<circle cx="58.00" cy="263.90" r="1.0" fill="#FCC" stroke="#F0282D" stroke-width="0.9"/>
<circle cx="50.90" cy="259.60" r="1.0" fill="#FCC" stroke="#F0282D" stroke-width="0.9"/>
<circle cx="43.60" cy="255.30" r="1.0" fill="#FCC" stroke="#F0282D" stroke-width="0.9"/>
<circle cx="53.80" cy="251.00" r="1.0" fill="#FCC" stroke="#F0282D" stroke-width="0.9"/>
<circle cx="55.10" cy="246.70" r="1.0" fill="#FCC" stroke="#F0282D" stroke-width="0.9"/>
<circle cx="68.60" cy="242.40" r="1.0" fill="#FCC" stroke="#F0282D" stroke-width="0.9"/>
<circle cx="84.00" cy="238.10" r="1.0" fill="#FCC" stroke="#F0282D" stroke-width="0.9"/>
<circle cx="90.70" cy="233.80" r="1.0" fill="#FCC" stroke="#F0282D" stroke-width="0.9"/>
<circle cx="99.90" cy="268.20" r="1.0" fill="#aaa" stroke="#2a2a2a" stroke-width="0.85"/>
<circle cx="96.50" cy="263.90" r="1.0" fill="#aaa" stroke="#2a2a2a" stroke-width="0.85"/>
<circle cx="94.50" cy="259.60" r="1.0" fill="#aaa" stroke="#2a2a2a" stroke-width="0.85"/>
<circle cx="94.20" cy="255.30" r="1.0" fill="#aaa" stroke="#2a2a2a" stroke-width="0.85"/>
<circle cx="95.70" cy="251.00" r="1.0" fill="#aaa" stroke="#2a2a2a" stroke-width="0.85"/>
<circle cx="96.10" cy="246.70" r="1.0" fill="#aaa" stroke="#2a2a2a" stroke-width="0.85"/>
<circle cx="99.00" cy="242.40" r="1.0" fill="#aaa" stroke="#2a2a2a" stroke-width="0.85"/>
<circle cx="102.20" cy="238.10" r="1.0" fill="#aaa" stroke="#2a2a2a" stroke-width="0.85"/>
<circle cx="101.30" cy="233.80" r="1.0" fill="#aaa" stroke="#2a2a2a" stroke-width="0.85"/>
<text x="75.00" y="287.80" text-anchor="middle" font-size="5.45" fill="#000" stroke="#000" stroke-width="0.02" ><tspan font-style="italic">t</tspan> value</text>
<line x1="145.50" y1="229.00" x2="145.50" y2="273.00" stroke="#b8b8b8" stroke-width="1.0"/>
<line x1="145.00" y1="272.50" x2="239.00" y2="272.50" stroke="#808080" stroke-width="1.0"/>
<line x1="145.50" y1="229.50" x2="147.80" y2="229.50" stroke="#b8b8b8" stroke-width="0.80" />
<text x="144.00" y="231.45" text-anchor="end" font-size="5.45" fill="#000" stroke="#000" stroke-width="0.02" >100</text>
<line x1="145.50" y1="250.50" x2="147.80" y2="250.50" stroke="#b8b8b8" stroke-width="0.80" />
<text x="144.00" y="252.45" text-anchor="end" font-size="5.45" fill="#000" stroke="#000" stroke-width="0.02" >50</text>
<line x1="145.50" y1="272.50" x2="147.80" y2="272.50" stroke="#b8b8b8" stroke-width="0.80" />
<text x="144.00" y="274.45" text-anchor="end" font-size="5.45" fill="#000" stroke="#000" stroke-width="0.02" >0</text>
<line x1="145.50" y1="272.50" x2="145.50" y2="270.20" stroke="#808080" stroke-width="0.80" />
<text x="145.50" y="279.40" text-anchor="middle" font-size="5.45" fill="#000" stroke="#000" stroke-width="0.02" >−20</text>
<line x1="182.50" y1="272.50" x2="182.50" y2="270.20" stroke="#808080" stroke-width="0.80" />
<text x="182.50" y="279.40" text-anchor="middle" font-size="5.45" fill="#000" stroke="#000" stroke-width="0.02" >−10</text>
<line x1="219.50" y1="272.50" x2="219.50" y2="270.20" stroke="#808080" stroke-width="0.80" />
<text x="219.50" y="279.40" text-anchor="middle" font-size="5.45" fill="#000" stroke="#000" stroke-width="0.02" >0</text>
<line x1="212.10" y1="229.00" x2="212.10" y2="272.00" stroke="#999" stroke-width="0.60" stroke-dasharray="2.2 2.0"/>
<line x1="227.40" y1="229.00" x2="227.40" y2="272.00" stroke="#999" stroke-width="0.60" stroke-dasharray="2.2 2.0"/>
<circle cx="168.50" cy="268.20" r="1.0" fill="#FCC" stroke="#F0282D" stroke-width="0.9"/>
<circle cx="168.50" cy="263.90" r="1.0" fill="#FCC" stroke="#F0282D" stroke-width="0.9"/>
<circle cx="170.50" cy="259.60" r="1.0" fill="#FCC" stroke="#F0282D" stroke-width="0.9"/>
<circle cx="179.20" cy="255.30" r="1.0" fill="#FCC" stroke="#F0282D" stroke-width="0.9"/>
<circle cx="184.50" cy="251.00" r="1.0" fill="#FCC" stroke="#F0282D" stroke-width="0.9"/>
<circle cx="186.80" cy="246.70" r="1.0" fill="#FCC" stroke="#F0282D" stroke-width="0.9"/>
<circle cx="183.80" cy="242.40" r="1.0" fill="#FCC" stroke="#F0282D" stroke-width="0.9"/>
<circle cx="182.20" cy="238.10" r="1.0" fill="#FCC" stroke="#F0282D" stroke-width="0.9"/>
<circle cx="201.80" cy="233.80" r="1.0" fill="#FCC" stroke="#F0282D" stroke-width="0.9"/>
<circle cx="225.10" cy="268.20" r="1.0" fill="#aaa" stroke="#2a2a2a" stroke-width="0.85"/>
<circle cx="225.10" cy="263.90" r="1.0" fill="#aaa" stroke="#2a2a2a" stroke-width="0.85"/>
<circle cx="224.70" cy="259.60" r="1.0" fill="#aaa" stroke="#2a2a2a" stroke-width="0.85"/>
<circle cx="221.90" cy="255.30" r="1.0" fill="#aaa" stroke="#2a2a2a" stroke-width="0.85"/>
<circle cx="220.80" cy="251.00" r="1.0" fill="#aaa" stroke="#2a2a2a" stroke-width="0.85"/>
<circle cx="220.10" cy="246.70" r="1.0" fill="#aaa" stroke="#2a2a2a" stroke-width="0.85"/>
<circle cx="220.10" cy="242.40" r="1.0" fill="#aaa" stroke="#2a2a2a" stroke-width="0.85"/>
<circle cx="220.10" cy="238.10" r="1.0" fill="#aaa" stroke="#2a2a2a" stroke-width="0.85"/>
<circle cx="220.10" cy="233.80" r="1.0" fill="#aaa" stroke="#2a2a2a" stroke-width="0.85"/>
<text x="192.00" y="287.80" text-anchor="middle" font-size="5.45" fill="#000" stroke="#000" stroke-width="0.02" ><tspan font-style="italic">t</tspan> value</text>
<g transform="translate(4.70,250.80) rotate(-90)">
<text x="0.00" y="0.00" text-anchor="middle" font-size="5.45" fill="#000" stroke="#000" stroke-width="0.02" >Percentage</text>
<text x="0.00" y="7.20" text-anchor="middle" font-size="5.45" fill="#000" stroke="#000" stroke-width="0.02" >of peak</text>
</g>
<rect x="251.30" y="227.90" width="59.90" height="25.40" fill="none" stroke="#888" stroke-width="0.6"/>
<circle cx="259.7" cy="232.9" r="1.2" fill="#bbb" stroke="#111" stroke-width="1.0"/>
<circle cx="259.7" cy="247.7" r="1.2" fill="#FBB" stroke="#F0282D" stroke-width="1.0"/>
<text x="264.40" y="234.60" text-anchor="start" font-size="5.42" fill="#000" stroke="#000" stroke-width="0.02" >H0 = parallel</text>
<text x="264.40" y="249.80" text-anchor="start" font-size="5.42" fill="#000" stroke="#000" stroke-width="0.02" >H0 = serial</text>
</svg></body></html>
